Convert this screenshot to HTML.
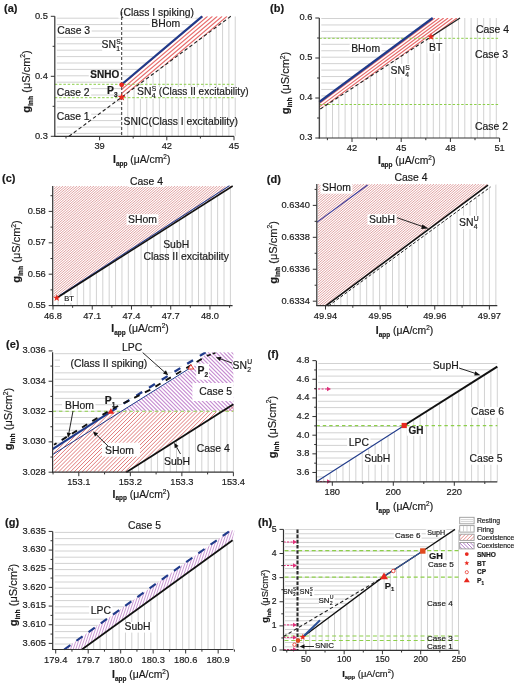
<!DOCTYPE html>
<html><head><meta charset="utf-8"><style>
html,body{margin:0;padding:0;background:#fff;width:516px;height:685px;overflow:hidden}
text{stroke:#1a1a1a;stroke-width:0.18px}
svg{display:block;font-family:"Liberation Sans",sans-serif;-webkit-font-smoothing:antialiased;will-change:transform}
</style></head><body>
<svg width="516" height="685" viewBox="0 0 516 685">
<defs><clipPath id="c1"><polygon points="56.8,15.3 121.7,15.3 121.7,136.3 56.8,136.3"/></clipPath><clipPath id="c2"><polygon points="121.7,15.3 202.2,16.3 121.7,84.8"/></clipPath><clipPath id="c3"><polygon points="121.7,97.2 230.8,16.3 236,16.3 236,136.3 121.7,136.3"/></clipPath><clipPath id="c4"><polygon points="121.7,84.8 202.2,16.3 230.8,16.3 121.7,97.2"/></clipPath><clipPath id="c5"><polygon points="321.3,18 432.7,18 319.3,102 321.3,102"/></clipPath><clipPath id="c6"><polygon points="320.3,102 320.3,109 431,36.8 460,18 501.5,18 501.5,138 320.3,138"/></clipPath><clipPath id="c7"><polygon points="319.3,102 432.7,18 460,18 431,36.8 320.3,109 319.3,109"/></clipPath><clipPath id="c8"><polygon points="53.7,298 56.7,298 232.7,186 233.6,186 233.6,305.6 53.7,305.6"/></clipPath><clipPath id="c9"><polygon points="53.7,186 224,186 232.7,186 56.7,298 53.7,298"/></clipPath><clipPath id="c10"><polygon points="328,305.6 490.5,185.7 498.3,184 498.3,305.6"/></clipPath><clipPath id="c11"><polygon points="317.8,184 489,184 488,185.2 326,305.6 317.8,305.6"/></clipPath><clipPath id="c12"><polygon points="54.6,351.2 205.8,351.2 110.9,411.6 52.6,449.2 54.6,449.2"/></clipPath><clipPath id="c13"><polygon points="126.3,472.2 233.4,404.2 234.4,404.2 234.4,472.2"/></clipPath><clipPath id="c14"><polygon points="206.8,352.2 233.4,352.2 233.4,411.3 120.71,411.3 192.4,367.9"/></clipPath><clipPath id="c15"><polygon points="53.6,450.2 110.9,411.6 233.4,411.3 233.4,404.2 126.3,472.2 53.6,472.2"/></clipPath><clipPath id="c16"><polygon points="52.6,352.2 235.4,352.2 235.4,475.2 52.6,475.2"/></clipPath><clipPath id="c17"><polygon points="318.4,361 498.3,361 498.3,365.6 497.3,366.6 404.2,425.5 316.4,481.8"/></clipPath><clipPath id="c18"><polygon points="317.4,481.8 404.2,425.5 497.3,366.6 498.3,366.6 498.3,481.8"/></clipPath><clipPath id="c19"><polygon points="54.7,530.4 230.8,530.4 64.2,649.5 54.7,649.5"/></clipPath><clipPath id="c20"><polygon points="81.9,649.5 232.6,540.3 234.4,540.3 234.4,649.5"/></clipPath><clipPath id="c21"><polygon points="64.2,649.5 230.8,530.2 234.5,530.5 232.6,540.3 81.9,649.5"/></clipPath><clipPath id="c22"><polygon points="285,528.9 455,528.9 422.8,551 384,576.4 302.8,637 302.8,650.3 285,650.3"/></clipPath><clipPath id="c23"><polygon points="302.8,650.3 302.8,637 384,576.4 422.8,551 455,529.4 459.5,529.4 459.5,650.3"/></clipPath><clipPath id="c24"><polygon points="459.7,534.2 474.1,534.2 474.1,540.4 459.7,540.4"/></clipPath><clipPath id="c25"><polygon points="459.7,542.5 474.1,542.5 474.1,548.9 459.7,548.9"/></clipPath></defs>
<rect width="516" height="685" fill="#fff"/>
<g clip-path="url(#c1)" >
<line x1="54.8" y1="11.8" x2="121.7" y2="11.8" stroke="#d2d2d2" stroke-width="1" stroke-linecap="butt" />
<line x1="54.8" y1="18.2" x2="121.7" y2="18.2" stroke="#d2d2d2" stroke-width="1" stroke-linecap="butt" />
<line x1="54.8" y1="24.6" x2="121.7" y2="24.6" stroke="#d2d2d2" stroke-width="1" stroke-linecap="butt" />
<line x1="54.8" y1="31" x2="121.7" y2="31" stroke="#d2d2d2" stroke-width="1" stroke-linecap="butt" />
<line x1="54.8" y1="37.4" x2="121.7" y2="37.4" stroke="#d2d2d2" stroke-width="1" stroke-linecap="butt" />
<line x1="54.8" y1="43.8" x2="121.7" y2="43.8" stroke="#d2d2d2" stroke-width="1" stroke-linecap="butt" />
<line x1="54.8" y1="50.2" x2="121.7" y2="50.2" stroke="#d2d2d2" stroke-width="1" stroke-linecap="butt" />
<line x1="54.8" y1="56.6" x2="121.7" y2="56.6" stroke="#d2d2d2" stroke-width="1" stroke-linecap="butt" />
<line x1="54.8" y1="63" x2="121.7" y2="63" stroke="#d2d2d2" stroke-width="1" stroke-linecap="butt" />
<line x1="54.8" y1="69.4" x2="121.7" y2="69.4" stroke="#d2d2d2" stroke-width="1" stroke-linecap="butt" />
<line x1="54.8" y1="75.8" x2="121.7" y2="75.8" stroke="#d2d2d2" stroke-width="1" stroke-linecap="butt" />
<line x1="54.8" y1="82.2" x2="121.7" y2="82.2" stroke="#d2d2d2" stroke-width="1" stroke-linecap="butt" />
<line x1="54.8" y1="88.6" x2="121.7" y2="88.6" stroke="#d2d2d2" stroke-width="1" stroke-linecap="butt" />
<line x1="54.8" y1="95" x2="121.7" y2="95" stroke="#d2d2d2" stroke-width="1" stroke-linecap="butt" />
<line x1="54.8" y1="101.4" x2="121.7" y2="101.4" stroke="#d2d2d2" stroke-width="1" stroke-linecap="butt" />
<line x1="54.8" y1="107.8" x2="121.7" y2="107.8" stroke="#d2d2d2" stroke-width="1" stroke-linecap="butt" />
<line x1="54.8" y1="114.2" x2="121.7" y2="114.2" stroke="#d2d2d2" stroke-width="1" stroke-linecap="butt" />
<line x1="54.8" y1="120.6" x2="121.7" y2="120.6" stroke="#d2d2d2" stroke-width="1" stroke-linecap="butt" />
<line x1="54.8" y1="127" x2="121.7" y2="127" stroke="#d2d2d2" stroke-width="1" stroke-linecap="butt" />
<line x1="54.8" y1="133.4" x2="121.7" y2="133.4" stroke="#d2d2d2" stroke-width="1" stroke-linecap="butt" />
</g>
<g clip-path="url(#c2)" >
<line x1="121.7" y1="11.8" x2="210" y2="11.8" stroke="#d2d2d2" stroke-width="1" stroke-linecap="butt" />
<line x1="121.7" y1="18.2" x2="210" y2="18.2" stroke="#d2d2d2" stroke-width="1" stroke-linecap="butt" />
<line x1="121.7" y1="24.6" x2="210" y2="24.6" stroke="#d2d2d2" stroke-width="1" stroke-linecap="butt" />
<line x1="121.7" y1="31" x2="210" y2="31" stroke="#d2d2d2" stroke-width="1" stroke-linecap="butt" />
<line x1="121.7" y1="37.4" x2="210" y2="37.4" stroke="#d2d2d2" stroke-width="1" stroke-linecap="butt" />
<line x1="121.7" y1="43.8" x2="210" y2="43.8" stroke="#d2d2d2" stroke-width="1" stroke-linecap="butt" />
<line x1="121.7" y1="50.2" x2="210" y2="50.2" stroke="#d2d2d2" stroke-width="1" stroke-linecap="butt" />
<line x1="121.7" y1="56.6" x2="210" y2="56.6" stroke="#d2d2d2" stroke-width="1" stroke-linecap="butt" />
<line x1="121.7" y1="63" x2="210" y2="63" stroke="#d2d2d2" stroke-width="1" stroke-linecap="butt" />
<line x1="121.7" y1="69.4" x2="210" y2="69.4" stroke="#d2d2d2" stroke-width="1" stroke-linecap="butt" />
<line x1="121.7" y1="75.8" x2="210" y2="75.8" stroke="#d2d2d2" stroke-width="1" stroke-linecap="butt" />
<line x1="121.7" y1="82.2" x2="210" y2="82.2" stroke="#d2d2d2" stroke-width="1" stroke-linecap="butt" />
<line x1="121.7" y1="88.6" x2="210" y2="88.6" stroke="#d2d2d2" stroke-width="1" stroke-linecap="butt" />
<line x1="121.7" y1="95" x2="210" y2="95" stroke="#d2d2d2" stroke-width="1" stroke-linecap="butt" />
<line x1="121.7" y1="101.4" x2="210" y2="101.4" stroke="#d2d2d2" stroke-width="1" stroke-linecap="butt" />
<line x1="121.7" y1="107.8" x2="210" y2="107.8" stroke="#d2d2d2" stroke-width="1" stroke-linecap="butt" />
<line x1="121.7" y1="114.2" x2="210" y2="114.2" stroke="#d2d2d2" stroke-width="1" stroke-linecap="butt" />
<line x1="121.7" y1="120.6" x2="210" y2="120.6" stroke="#d2d2d2" stroke-width="1" stroke-linecap="butt" />
<line x1="121.7" y1="127" x2="210" y2="127" stroke="#d2d2d2" stroke-width="1" stroke-linecap="butt" />
<line x1="121.7" y1="133.4" x2="210" y2="133.4" stroke="#d2d2d2" stroke-width="1" stroke-linecap="butt" />
</g>
<g clip-path="url(#c3)" >
<line x1="121.46" y1="16.3" x2="121.46" y2="136.3" stroke="#d2d2d2" stroke-width="1" stroke-linecap="butt" />
<line x1="127.78" y1="16.3" x2="127.78" y2="136.3" stroke="#d2d2d2" stroke-width="1" stroke-linecap="butt" />
<line x1="134.1" y1="16.3" x2="134.1" y2="136.3" stroke="#d2d2d2" stroke-width="1" stroke-linecap="butt" />
<line x1="140.42" y1="16.3" x2="140.42" y2="136.3" stroke="#d2d2d2" stroke-width="1" stroke-linecap="butt" />
<line x1="146.74" y1="16.3" x2="146.74" y2="136.3" stroke="#d2d2d2" stroke-width="1" stroke-linecap="butt" />
<line x1="153.06" y1="16.3" x2="153.06" y2="136.3" stroke="#d2d2d2" stroke-width="1" stroke-linecap="butt" />
<line x1="159.38" y1="16.3" x2="159.38" y2="136.3" stroke="#d2d2d2" stroke-width="1" stroke-linecap="butt" />
<line x1="165.7" y1="16.3" x2="165.7" y2="136.3" stroke="#d2d2d2" stroke-width="1" stroke-linecap="butt" />
<line x1="172.02" y1="16.3" x2="172.02" y2="136.3" stroke="#d2d2d2" stroke-width="1" stroke-linecap="butt" />
<line x1="178.34" y1="16.3" x2="178.34" y2="136.3" stroke="#d2d2d2" stroke-width="1" stroke-linecap="butt" />
<line x1="184.66" y1="16.3" x2="184.66" y2="136.3" stroke="#d2d2d2" stroke-width="1" stroke-linecap="butt" />
<line x1="190.98" y1="16.3" x2="190.98" y2="136.3" stroke="#d2d2d2" stroke-width="1" stroke-linecap="butt" />
<line x1="197.3" y1="16.3" x2="197.3" y2="136.3" stroke="#d2d2d2" stroke-width="1" stroke-linecap="butt" />
<line x1="203.62" y1="16.3" x2="203.62" y2="136.3" stroke="#d2d2d2" stroke-width="1" stroke-linecap="butt" />
<line x1="209.94" y1="16.3" x2="209.94" y2="136.3" stroke="#d2d2d2" stroke-width="1" stroke-linecap="butt" />
<line x1="216.26" y1="16.3" x2="216.26" y2="136.3" stroke="#d2d2d2" stroke-width="1" stroke-linecap="butt" />
<line x1="222.58" y1="16.3" x2="222.58" y2="136.3" stroke="#d2d2d2" stroke-width="1" stroke-linecap="butt" />
<line x1="228.9" y1="16.3" x2="228.9" y2="136.3" stroke="#d2d2d2" stroke-width="1" stroke-linecap="butt" />
<line x1="235.22" y1="16.3" x2="235.22" y2="136.3" stroke="#d2d2d2" stroke-width="1" stroke-linecap="butt" />
<line x1="241.54" y1="16.3" x2="241.54" y2="136.3" stroke="#d2d2d2" stroke-width="1" stroke-linecap="butt" />
</g>
<g clip-path="url(#c4)" >
<line x1="23.28" y1="16.3" x2="-71.79" y2="97.2" stroke="#e66a6a" stroke-width="1.15" stroke-linecap="butt" />
<line x1="28.13" y1="16.3" x2="-66.94" y2="97.2" stroke="#e66a6a" stroke-width="1.15" stroke-linecap="butt" />
<line x1="32.98" y1="16.3" x2="-62.09" y2="97.2" stroke="#e66a6a" stroke-width="1.15" stroke-linecap="butt" />
<line x1="37.83" y1="16.3" x2="-57.24" y2="97.2" stroke="#e66a6a" stroke-width="1.15" stroke-linecap="butt" />
<line x1="42.68" y1="16.3" x2="-52.39" y2="97.2" stroke="#e66a6a" stroke-width="1.15" stroke-linecap="butt" />
<line x1="47.53" y1="16.3" x2="-47.54" y2="97.2" stroke="#e66a6a" stroke-width="1.15" stroke-linecap="butt" />
<line x1="52.38" y1="16.3" x2="-42.69" y2="97.2" stroke="#e66a6a" stroke-width="1.15" stroke-linecap="butt" />
<line x1="57.23" y1="16.3" x2="-37.84" y2="97.2" stroke="#e66a6a" stroke-width="1.15" stroke-linecap="butt" />
<line x1="62.08" y1="16.3" x2="-32.99" y2="97.2" stroke="#e66a6a" stroke-width="1.15" stroke-linecap="butt" />
<line x1="66.93" y1="16.3" x2="-28.14" y2="97.2" stroke="#e66a6a" stroke-width="1.15" stroke-linecap="butt" />
<line x1="71.78" y1="16.3" x2="-23.29" y2="97.2" stroke="#e66a6a" stroke-width="1.15" stroke-linecap="butt" />
<line x1="76.63" y1="16.3" x2="-18.44" y2="97.2" stroke="#e66a6a" stroke-width="1.15" stroke-linecap="butt" />
<line x1="81.48" y1="16.3" x2="-13.59" y2="97.2" stroke="#e66a6a" stroke-width="1.15" stroke-linecap="butt" />
<line x1="86.33" y1="16.3" x2="-8.74" y2="97.2" stroke="#e66a6a" stroke-width="1.15" stroke-linecap="butt" />
<line x1="91.18" y1="16.3" x2="-3.89" y2="97.2" stroke="#e66a6a" stroke-width="1.15" stroke-linecap="butt" />
<line x1="96.03" y1="16.3" x2="0.96" y2="97.2" stroke="#e66a6a" stroke-width="1.15" stroke-linecap="butt" />
<line x1="100.88" y1="16.3" x2="5.81" y2="97.2" stroke="#e66a6a" stroke-width="1.15" stroke-linecap="butt" />
<line x1="105.73" y1="16.3" x2="10.66" y2="97.2" stroke="#e66a6a" stroke-width="1.15" stroke-linecap="butt" />
<line x1="110.58" y1="16.3" x2="15.51" y2="97.2" stroke="#e66a6a" stroke-width="1.15" stroke-linecap="butt" />
<line x1="115.43" y1="16.3" x2="20.36" y2="97.2" stroke="#e66a6a" stroke-width="1.15" stroke-linecap="butt" />
<line x1="120.28" y1="16.3" x2="25.21" y2="97.2" stroke="#e66a6a" stroke-width="1.15" stroke-linecap="butt" />
<line x1="125.13" y1="16.3" x2="30.06" y2="97.2" stroke="#e66a6a" stroke-width="1.15" stroke-linecap="butt" />
<line x1="129.98" y1="16.3" x2="34.91" y2="97.2" stroke="#e66a6a" stroke-width="1.15" stroke-linecap="butt" />
<line x1="134.83" y1="16.3" x2="39.76" y2="97.2" stroke="#e66a6a" stroke-width="1.15" stroke-linecap="butt" />
<line x1="139.68" y1="16.3" x2="44.61" y2="97.2" stroke="#e66a6a" stroke-width="1.15" stroke-linecap="butt" />
<line x1="144.53" y1="16.3" x2="49.46" y2="97.2" stroke="#e66a6a" stroke-width="1.15" stroke-linecap="butt" />
<line x1="149.38" y1="16.3" x2="54.31" y2="97.2" stroke="#e66a6a" stroke-width="1.15" stroke-linecap="butt" />
<line x1="154.23" y1="16.3" x2="59.16" y2="97.2" stroke="#e66a6a" stroke-width="1.15" stroke-linecap="butt" />
<line x1="159.08" y1="16.3" x2="64.01" y2="97.2" stroke="#e66a6a" stroke-width="1.15" stroke-linecap="butt" />
<line x1="163.93" y1="16.3" x2="68.86" y2="97.2" stroke="#e66a6a" stroke-width="1.15" stroke-linecap="butt" />
<line x1="168.78" y1="16.3" x2="73.71" y2="97.2" stroke="#e66a6a" stroke-width="1.15" stroke-linecap="butt" />
<line x1="173.63" y1="16.3" x2="78.56" y2="97.2" stroke="#e66a6a" stroke-width="1.15" stroke-linecap="butt" />
<line x1="178.48" y1="16.3" x2="83.41" y2="97.2" stroke="#e66a6a" stroke-width="1.15" stroke-linecap="butt" />
<line x1="183.33" y1="16.3" x2="88.26" y2="97.2" stroke="#e66a6a" stroke-width="1.15" stroke-linecap="butt" />
<line x1="188.18" y1="16.3" x2="93.11" y2="97.2" stroke="#e66a6a" stroke-width="1.15" stroke-linecap="butt" />
<line x1="193.03" y1="16.3" x2="97.96" y2="97.2" stroke="#e66a6a" stroke-width="1.15" stroke-linecap="butt" />
<line x1="197.88" y1="16.3" x2="102.81" y2="97.2" stroke="#e66a6a" stroke-width="1.15" stroke-linecap="butt" />
<line x1="202.73" y1="16.3" x2="107.66" y2="97.2" stroke="#e66a6a" stroke-width="1.15" stroke-linecap="butt" />
<line x1="207.58" y1="16.3" x2="112.51" y2="97.2" stroke="#e66a6a" stroke-width="1.15" stroke-linecap="butt" />
<line x1="212.43" y1="16.3" x2="117.36" y2="97.2" stroke="#e66a6a" stroke-width="1.15" stroke-linecap="butt" />
<line x1="217.28" y1="16.3" x2="122.21" y2="97.2" stroke="#e66a6a" stroke-width="1.15" stroke-linecap="butt" />
<line x1="222.13" y1="16.3" x2="127.06" y2="97.2" stroke="#e66a6a" stroke-width="1.15" stroke-linecap="butt" />
<line x1="226.98" y1="16.3" x2="131.91" y2="97.2" stroke="#e66a6a" stroke-width="1.15" stroke-linecap="butt" />
<line x1="231.83" y1="16.3" x2="136.76" y2="97.2" stroke="#e66a6a" stroke-width="1.15" stroke-linecap="butt" />
<line x1="236.68" y1="16.3" x2="141.61" y2="97.2" stroke="#e66a6a" stroke-width="1.15" stroke-linecap="butt" />
<line x1="241.53" y1="16.3" x2="146.46" y2="97.2" stroke="#e66a6a" stroke-width="1.15" stroke-linecap="butt" />
<line x1="246.38" y1="16.3" x2="151.31" y2="97.2" stroke="#e66a6a" stroke-width="1.15" stroke-linecap="butt" />
<line x1="251.23" y1="16.3" x2="156.16" y2="97.2" stroke="#e66a6a" stroke-width="1.15" stroke-linecap="butt" />
<line x1="256.08" y1="16.3" x2="161.01" y2="97.2" stroke="#e66a6a" stroke-width="1.15" stroke-linecap="butt" />
<line x1="260.93" y1="16.3" x2="165.86" y2="97.2" stroke="#e66a6a" stroke-width="1.15" stroke-linecap="butt" />
<line x1="265.78" y1="16.3" x2="170.71" y2="97.2" stroke="#e66a6a" stroke-width="1.15" stroke-linecap="butt" />
<line x1="270.63" y1="16.3" x2="175.56" y2="97.2" stroke="#e66a6a" stroke-width="1.15" stroke-linecap="butt" />
<line x1="275.48" y1="16.3" x2="180.41" y2="97.2" stroke="#e66a6a" stroke-width="1.15" stroke-linecap="butt" />
<line x1="280.33" y1="16.3" x2="185.26" y2="97.2" stroke="#e66a6a" stroke-width="1.15" stroke-linecap="butt" />
<line x1="285.18" y1="16.3" x2="190.11" y2="97.2" stroke="#e66a6a" stroke-width="1.15" stroke-linecap="butt" />
<line x1="290.03" y1="16.3" x2="194.96" y2="97.2" stroke="#e66a6a" stroke-width="1.15" stroke-linecap="butt" />
<line x1="294.88" y1="16.3" x2="199.81" y2="97.2" stroke="#e66a6a" stroke-width="1.15" stroke-linecap="butt" />
<line x1="299.73" y1="16.3" x2="204.66" y2="97.2" stroke="#e66a6a" stroke-width="1.15" stroke-linecap="butt" />
<line x1="304.58" y1="16.3" x2="209.51" y2="97.2" stroke="#e66a6a" stroke-width="1.15" stroke-linecap="butt" />
<line x1="309.43" y1="16.3" x2="214.36" y2="97.2" stroke="#e66a6a" stroke-width="1.15" stroke-linecap="butt" />
<line x1="314.28" y1="16.3" x2="219.21" y2="97.2" stroke="#e66a6a" stroke-width="1.15" stroke-linecap="butt" />
<line x1="319.13" y1="16.3" x2="224.06" y2="97.2" stroke="#e66a6a" stroke-width="1.15" stroke-linecap="butt" />
<line x1="323.98" y1="16.3" x2="228.91" y2="97.2" stroke="#e66a6a" stroke-width="1.15" stroke-linecap="butt" />
<line x1="328.83" y1="16.3" x2="233.76" y2="97.2" stroke="#e66a6a" stroke-width="1.15" stroke-linecap="butt" />
<line x1="333.68" y1="16.3" x2="238.61" y2="97.2" stroke="#e66a6a" stroke-width="1.15" stroke-linecap="butt" />
</g>
<g clip-path="url(#c5)" >
<line x1="319.3" y1="18.5" x2="440" y2="18.5" stroke="#d2d2d2" stroke-width="1" stroke-linecap="butt" />
<line x1="319.3" y1="24.95" x2="440" y2="24.95" stroke="#d2d2d2" stroke-width="1" stroke-linecap="butt" />
<line x1="319.3" y1="31.4" x2="440" y2="31.4" stroke="#d2d2d2" stroke-width="1" stroke-linecap="butt" />
<line x1="319.3" y1="37.85" x2="440" y2="37.85" stroke="#d2d2d2" stroke-width="1" stroke-linecap="butt" />
<line x1="319.3" y1="44.3" x2="440" y2="44.3" stroke="#d2d2d2" stroke-width="1" stroke-linecap="butt" />
<line x1="319.3" y1="50.75" x2="440" y2="50.75" stroke="#d2d2d2" stroke-width="1" stroke-linecap="butt" />
<line x1="319.3" y1="57.2" x2="440" y2="57.2" stroke="#d2d2d2" stroke-width="1" stroke-linecap="butt" />
<line x1="319.3" y1="63.65" x2="440" y2="63.65" stroke="#d2d2d2" stroke-width="1" stroke-linecap="butt" />
<line x1="319.3" y1="70.1" x2="440" y2="70.1" stroke="#d2d2d2" stroke-width="1" stroke-linecap="butt" />
<line x1="319.3" y1="76.55" x2="440" y2="76.55" stroke="#d2d2d2" stroke-width="1" stroke-linecap="butt" />
<line x1="319.3" y1="83" x2="440" y2="83" stroke="#d2d2d2" stroke-width="1" stroke-linecap="butt" />
<line x1="319.3" y1="89.45" x2="440" y2="89.45" stroke="#d2d2d2" stroke-width="1" stroke-linecap="butt" />
<line x1="319.3" y1="95.9" x2="440" y2="95.9" stroke="#d2d2d2" stroke-width="1" stroke-linecap="butt" />
<line x1="319.3" y1="102.35" x2="440" y2="102.35" stroke="#d2d2d2" stroke-width="1" stroke-linecap="butt" />
<line x1="319.3" y1="108.8" x2="440" y2="108.8" stroke="#d2d2d2" stroke-width="1" stroke-linecap="butt" />
<line x1="319.3" y1="115.25" x2="440" y2="115.25" stroke="#d2d2d2" stroke-width="1" stroke-linecap="butt" />
<line x1="319.3" y1="121.7" x2="440" y2="121.7" stroke="#d2d2d2" stroke-width="1" stroke-linecap="butt" />
<line x1="319.3" y1="128.15" x2="440" y2="128.15" stroke="#d2d2d2" stroke-width="1" stroke-linecap="butt" />
<line x1="319.3" y1="134.6" x2="440" y2="134.6" stroke="#d2d2d2" stroke-width="1" stroke-linecap="butt" />
<line x1="319.3" y1="141.05" x2="440" y2="141.05" stroke="#d2d2d2" stroke-width="1" stroke-linecap="butt" />
</g>
<g clip-path="url(#c6)" >
<line x1="319.9" y1="18" x2="319.9" y2="138" stroke="#d2d2d2" stroke-width="1" stroke-linecap="butt" />
<line x1="326.2" y1="18" x2="326.2" y2="138" stroke="#d2d2d2" stroke-width="1" stroke-linecap="butt" />
<line x1="332.5" y1="18" x2="332.5" y2="138" stroke="#d2d2d2" stroke-width="1" stroke-linecap="butt" />
<line x1="338.8" y1="18" x2="338.8" y2="138" stroke="#d2d2d2" stroke-width="1" stroke-linecap="butt" />
<line x1="345.1" y1="18" x2="345.1" y2="138" stroke="#d2d2d2" stroke-width="1" stroke-linecap="butt" />
<line x1="351.4" y1="18" x2="351.4" y2="138" stroke="#d2d2d2" stroke-width="1" stroke-linecap="butt" />
<line x1="357.7" y1="18" x2="357.7" y2="138" stroke="#d2d2d2" stroke-width="1" stroke-linecap="butt" />
<line x1="364" y1="18" x2="364" y2="138" stroke="#d2d2d2" stroke-width="1" stroke-linecap="butt" />
<line x1="370.3" y1="18" x2="370.3" y2="138" stroke="#d2d2d2" stroke-width="1" stroke-linecap="butt" />
<line x1="376.6" y1="18" x2="376.6" y2="138" stroke="#d2d2d2" stroke-width="1" stroke-linecap="butt" />
<line x1="382.9" y1="18" x2="382.9" y2="138" stroke="#d2d2d2" stroke-width="1" stroke-linecap="butt" />
<line x1="389.2" y1="18" x2="389.2" y2="138" stroke="#d2d2d2" stroke-width="1" stroke-linecap="butt" />
<line x1="395.5" y1="18" x2="395.5" y2="138" stroke="#d2d2d2" stroke-width="1" stroke-linecap="butt" />
<line x1="401.8" y1="18" x2="401.8" y2="138" stroke="#d2d2d2" stroke-width="1" stroke-linecap="butt" />
<line x1="408.1" y1="18" x2="408.1" y2="138" stroke="#d2d2d2" stroke-width="1" stroke-linecap="butt" />
<line x1="414.4" y1="18" x2="414.4" y2="138" stroke="#d2d2d2" stroke-width="1" stroke-linecap="butt" />
<line x1="420.7" y1="18" x2="420.7" y2="138" stroke="#d2d2d2" stroke-width="1" stroke-linecap="butt" />
<line x1="427" y1="18" x2="427" y2="138" stroke="#d2d2d2" stroke-width="1" stroke-linecap="butt" />
<line x1="433.3" y1="18" x2="433.3" y2="138" stroke="#d2d2d2" stroke-width="1" stroke-linecap="butt" />
<line x1="439.6" y1="18" x2="439.6" y2="138" stroke="#d2d2d2" stroke-width="1" stroke-linecap="butt" />
<line x1="445.9" y1="18" x2="445.9" y2="138" stroke="#d2d2d2" stroke-width="1" stroke-linecap="butt" />
<line x1="452.2" y1="18" x2="452.2" y2="138" stroke="#d2d2d2" stroke-width="1" stroke-linecap="butt" />
<line x1="458.5" y1="18" x2="458.5" y2="138" stroke="#d2d2d2" stroke-width="1" stroke-linecap="butt" />
<line x1="464.8" y1="18" x2="464.8" y2="138" stroke="#d2d2d2" stroke-width="1" stroke-linecap="butt" />
<line x1="471.1" y1="18" x2="471.1" y2="138" stroke="#d2d2d2" stroke-width="1" stroke-linecap="butt" />
<line x1="477.4" y1="18" x2="477.4" y2="138" stroke="#d2d2d2" stroke-width="1" stroke-linecap="butt" />
<line x1="483.7" y1="18" x2="483.7" y2="138" stroke="#d2d2d2" stroke-width="1" stroke-linecap="butt" />
<line x1="490" y1="18" x2="490" y2="138" stroke="#d2d2d2" stroke-width="1" stroke-linecap="butt" />
<line x1="496.3" y1="18" x2="496.3" y2="138" stroke="#d2d2d2" stroke-width="1" stroke-linecap="butt" />
</g>
<g clip-path="url(#c7)" >
<line x1="188.5" y1="18" x2="61.6" y2="112" stroke="#e66a6a" stroke-width="1.15" stroke-linecap="butt" />
<line x1="192.9" y1="18" x2="66" y2="112" stroke="#e66a6a" stroke-width="1.15" stroke-linecap="butt" />
<line x1="197.3" y1="18" x2="70.4" y2="112" stroke="#e66a6a" stroke-width="1.15" stroke-linecap="butt" />
<line x1="201.7" y1="18" x2="74.8" y2="112" stroke="#e66a6a" stroke-width="1.15" stroke-linecap="butt" />
<line x1="206.1" y1="18" x2="79.2" y2="112" stroke="#e66a6a" stroke-width="1.15" stroke-linecap="butt" />
<line x1="210.5" y1="18" x2="83.6" y2="112" stroke="#e66a6a" stroke-width="1.15" stroke-linecap="butt" />
<line x1="214.9" y1="18" x2="88" y2="112" stroke="#e66a6a" stroke-width="1.15" stroke-linecap="butt" />
<line x1="219.3" y1="18" x2="92.4" y2="112" stroke="#e66a6a" stroke-width="1.15" stroke-linecap="butt" />
<line x1="223.7" y1="18" x2="96.8" y2="112" stroke="#e66a6a" stroke-width="1.15" stroke-linecap="butt" />
<line x1="228.1" y1="18" x2="101.2" y2="112" stroke="#e66a6a" stroke-width="1.15" stroke-linecap="butt" />
<line x1="232.5" y1="18" x2="105.6" y2="112" stroke="#e66a6a" stroke-width="1.15" stroke-linecap="butt" />
<line x1="236.9" y1="18" x2="110" y2="112" stroke="#e66a6a" stroke-width="1.15" stroke-linecap="butt" />
<line x1="241.3" y1="18" x2="114.4" y2="112" stroke="#e66a6a" stroke-width="1.15" stroke-linecap="butt" />
<line x1="245.7" y1="18" x2="118.8" y2="112" stroke="#e66a6a" stroke-width="1.15" stroke-linecap="butt" />
<line x1="250.1" y1="18" x2="123.2" y2="112" stroke="#e66a6a" stroke-width="1.15" stroke-linecap="butt" />
<line x1="254.5" y1="18" x2="127.6" y2="112" stroke="#e66a6a" stroke-width="1.15" stroke-linecap="butt" />
<line x1="258.9" y1="18" x2="132" y2="112" stroke="#e66a6a" stroke-width="1.15" stroke-linecap="butt" />
<line x1="263.3" y1="18" x2="136.4" y2="112" stroke="#e66a6a" stroke-width="1.15" stroke-linecap="butt" />
<line x1="267.7" y1="18" x2="140.8" y2="112" stroke="#e66a6a" stroke-width="1.15" stroke-linecap="butt" />
<line x1="272.1" y1="18" x2="145.2" y2="112" stroke="#e66a6a" stroke-width="1.15" stroke-linecap="butt" />
<line x1="276.5" y1="18" x2="149.6" y2="112" stroke="#e66a6a" stroke-width="1.15" stroke-linecap="butt" />
<line x1="280.9" y1="18" x2="154" y2="112" stroke="#e66a6a" stroke-width="1.15" stroke-linecap="butt" />
<line x1="285.3" y1="18" x2="158.4" y2="112" stroke="#e66a6a" stroke-width="1.15" stroke-linecap="butt" />
<line x1="289.7" y1="18" x2="162.8" y2="112" stroke="#e66a6a" stroke-width="1.15" stroke-linecap="butt" />
<line x1="294.1" y1="18" x2="167.2" y2="112" stroke="#e66a6a" stroke-width="1.15" stroke-linecap="butt" />
<line x1="298.5" y1="18" x2="171.6" y2="112" stroke="#e66a6a" stroke-width="1.15" stroke-linecap="butt" />
<line x1="302.9" y1="18" x2="176" y2="112" stroke="#e66a6a" stroke-width="1.15" stroke-linecap="butt" />
<line x1="307.3" y1="18" x2="180.4" y2="112" stroke="#e66a6a" stroke-width="1.15" stroke-linecap="butt" />
<line x1="311.7" y1="18" x2="184.8" y2="112" stroke="#e66a6a" stroke-width="1.15" stroke-linecap="butt" />
<line x1="316.1" y1="18" x2="189.2" y2="112" stroke="#e66a6a" stroke-width="1.15" stroke-linecap="butt" />
<line x1="320.5" y1="18" x2="193.6" y2="112" stroke="#e66a6a" stroke-width="1.15" stroke-linecap="butt" />
<line x1="324.9" y1="18" x2="198" y2="112" stroke="#e66a6a" stroke-width="1.15" stroke-linecap="butt" />
<line x1="329.3" y1="18" x2="202.4" y2="112" stroke="#e66a6a" stroke-width="1.15" stroke-linecap="butt" />
<line x1="333.7" y1="18" x2="206.8" y2="112" stroke="#e66a6a" stroke-width="1.15" stroke-linecap="butt" />
<line x1="338.1" y1="18" x2="211.2" y2="112" stroke="#e66a6a" stroke-width="1.15" stroke-linecap="butt" />
<line x1="342.5" y1="18" x2="215.6" y2="112" stroke="#e66a6a" stroke-width="1.15" stroke-linecap="butt" />
<line x1="346.9" y1="18" x2="220" y2="112" stroke="#e66a6a" stroke-width="1.15" stroke-linecap="butt" />
<line x1="351.3" y1="18" x2="224.4" y2="112" stroke="#e66a6a" stroke-width="1.15" stroke-linecap="butt" />
<line x1="355.7" y1="18" x2="228.8" y2="112" stroke="#e66a6a" stroke-width="1.15" stroke-linecap="butt" />
<line x1="360.1" y1="18" x2="233.2" y2="112" stroke="#e66a6a" stroke-width="1.15" stroke-linecap="butt" />
<line x1="364.5" y1="18" x2="237.6" y2="112" stroke="#e66a6a" stroke-width="1.15" stroke-linecap="butt" />
<line x1="368.9" y1="18" x2="242" y2="112" stroke="#e66a6a" stroke-width="1.15" stroke-linecap="butt" />
<line x1="373.3" y1="18" x2="246.4" y2="112" stroke="#e66a6a" stroke-width="1.15" stroke-linecap="butt" />
<line x1="377.7" y1="18" x2="250.8" y2="112" stroke="#e66a6a" stroke-width="1.15" stroke-linecap="butt" />
<line x1="382.1" y1="18" x2="255.2" y2="112" stroke="#e66a6a" stroke-width="1.15" stroke-linecap="butt" />
<line x1="386.5" y1="18" x2="259.6" y2="112" stroke="#e66a6a" stroke-width="1.15" stroke-linecap="butt" />
<line x1="390.9" y1="18" x2="264" y2="112" stroke="#e66a6a" stroke-width="1.15" stroke-linecap="butt" />
<line x1="395.3" y1="18" x2="268.4" y2="112" stroke="#e66a6a" stroke-width="1.15" stroke-linecap="butt" />
<line x1="399.7" y1="18" x2="272.8" y2="112" stroke="#e66a6a" stroke-width="1.15" stroke-linecap="butt" />
<line x1="404.1" y1="18" x2="277.2" y2="112" stroke="#e66a6a" stroke-width="1.15" stroke-linecap="butt" />
<line x1="408.5" y1="18" x2="281.6" y2="112" stroke="#e66a6a" stroke-width="1.15" stroke-linecap="butt" />
<line x1="412.9" y1="18" x2="286" y2="112" stroke="#e66a6a" stroke-width="1.15" stroke-linecap="butt" />
<line x1="417.3" y1="18" x2="290.4" y2="112" stroke="#e66a6a" stroke-width="1.15" stroke-linecap="butt" />
<line x1="421.7" y1="18" x2="294.8" y2="112" stroke="#e66a6a" stroke-width="1.15" stroke-linecap="butt" />
<line x1="426.1" y1="18" x2="299.2" y2="112" stroke="#e66a6a" stroke-width="1.15" stroke-linecap="butt" />
<line x1="430.5" y1="18" x2="303.6" y2="112" stroke="#e66a6a" stroke-width="1.15" stroke-linecap="butt" />
<line x1="434.9" y1="18" x2="308" y2="112" stroke="#e66a6a" stroke-width="1.15" stroke-linecap="butt" />
<line x1="439.3" y1="18" x2="312.4" y2="112" stroke="#e66a6a" stroke-width="1.15" stroke-linecap="butt" />
<line x1="443.7" y1="18" x2="316.8" y2="112" stroke="#e66a6a" stroke-width="1.15" stroke-linecap="butt" />
<line x1="448.1" y1="18" x2="321.2" y2="112" stroke="#e66a6a" stroke-width="1.15" stroke-linecap="butt" />
<line x1="452.5" y1="18" x2="325.6" y2="112" stroke="#e66a6a" stroke-width="1.15" stroke-linecap="butt" />
<line x1="456.9" y1="18" x2="330" y2="112" stroke="#e66a6a" stroke-width="1.15" stroke-linecap="butt" />
<line x1="461.3" y1="18" x2="334.4" y2="112" stroke="#e66a6a" stroke-width="1.15" stroke-linecap="butt" />
<line x1="465.7" y1="18" x2="338.8" y2="112" stroke="#e66a6a" stroke-width="1.15" stroke-linecap="butt" />
<line x1="470.1" y1="18" x2="343.2" y2="112" stroke="#e66a6a" stroke-width="1.15" stroke-linecap="butt" />
<line x1="474.5" y1="18" x2="347.6" y2="112" stroke="#e66a6a" stroke-width="1.15" stroke-linecap="butt" />
<line x1="478.9" y1="18" x2="352" y2="112" stroke="#e66a6a" stroke-width="1.15" stroke-linecap="butt" />
<line x1="483.3" y1="18" x2="356.4" y2="112" stroke="#e66a6a" stroke-width="1.15" stroke-linecap="butt" />
<line x1="487.7" y1="18" x2="360.8" y2="112" stroke="#e66a6a" stroke-width="1.15" stroke-linecap="butt" />
<line x1="492.1" y1="18" x2="365.2" y2="112" stroke="#e66a6a" stroke-width="1.15" stroke-linecap="butt" />
<line x1="496.5" y1="18" x2="369.6" y2="112" stroke="#e66a6a" stroke-width="1.15" stroke-linecap="butt" />
<line x1="500.9" y1="18" x2="374" y2="112" stroke="#e66a6a" stroke-width="1.15" stroke-linecap="butt" />
<line x1="505.3" y1="18" x2="378.4" y2="112" stroke="#e66a6a" stroke-width="1.15" stroke-linecap="butt" />
<line x1="509.7" y1="18" x2="382.8" y2="112" stroke="#e66a6a" stroke-width="1.15" stroke-linecap="butt" />
<line x1="514.1" y1="18" x2="387.2" y2="112" stroke="#e66a6a" stroke-width="1.15" stroke-linecap="butt" />
<line x1="518.5" y1="18" x2="391.6" y2="112" stroke="#e66a6a" stroke-width="1.15" stroke-linecap="butt" />
<line x1="522.9" y1="18" x2="396" y2="112" stroke="#e66a6a" stroke-width="1.15" stroke-linecap="butt" />
<line x1="527.3" y1="18" x2="400.4" y2="112" stroke="#e66a6a" stroke-width="1.15" stroke-linecap="butt" />
<line x1="531.7" y1="18" x2="404.8" y2="112" stroke="#e66a6a" stroke-width="1.15" stroke-linecap="butt" />
<line x1="536.1" y1="18" x2="409.2" y2="112" stroke="#e66a6a" stroke-width="1.15" stroke-linecap="butt" />
<line x1="540.5" y1="18" x2="413.6" y2="112" stroke="#e66a6a" stroke-width="1.15" stroke-linecap="butt" />
<line x1="544.9" y1="18" x2="418" y2="112" stroke="#e66a6a" stroke-width="1.15" stroke-linecap="butt" />
<line x1="549.3" y1="18" x2="422.4" y2="112" stroke="#e66a6a" stroke-width="1.15" stroke-linecap="butt" />
<line x1="553.7" y1="18" x2="426.8" y2="112" stroke="#e66a6a" stroke-width="1.15" stroke-linecap="butt" />
<line x1="558.1" y1="18" x2="431.2" y2="112" stroke="#e66a6a" stroke-width="1.15" stroke-linecap="butt" />
<line x1="562.5" y1="18" x2="435.6" y2="112" stroke="#e66a6a" stroke-width="1.15" stroke-linecap="butt" />
<line x1="566.9" y1="18" x2="440" y2="112" stroke="#e66a6a" stroke-width="1.15" stroke-linecap="butt" />
<line x1="571.3" y1="18" x2="444.4" y2="112" stroke="#e66a6a" stroke-width="1.15" stroke-linecap="butt" />
<line x1="575.7" y1="18" x2="448.8" y2="112" stroke="#e66a6a" stroke-width="1.15" stroke-linecap="butt" />
<line x1="580.1" y1="18" x2="453.2" y2="112" stroke="#e66a6a" stroke-width="1.15" stroke-linecap="butt" />
<line x1="584.5" y1="18" x2="457.6" y2="112" stroke="#e66a6a" stroke-width="1.15" stroke-linecap="butt" />
<line x1="588.9" y1="18" x2="462" y2="112" stroke="#e66a6a" stroke-width="1.15" stroke-linecap="butt" />
<line x1="593.3" y1="18" x2="466.4" y2="112" stroke="#e66a6a" stroke-width="1.15" stroke-linecap="butt" />
<line x1="597.7" y1="18" x2="470.8" y2="112" stroke="#e66a6a" stroke-width="1.15" stroke-linecap="butt" />
</g>
<g clip-path="url(#c8)" >
<line x1="45.38" y1="186" x2="45.38" y2="305.6" stroke="#d2d2d2" stroke-width="1" stroke-linecap="butt" />
<line x1="51.76" y1="186" x2="51.76" y2="305.6" stroke="#d2d2d2" stroke-width="1" stroke-linecap="butt" />
<line x1="58.14" y1="186" x2="58.14" y2="305.6" stroke="#d2d2d2" stroke-width="1" stroke-linecap="butt" />
<line x1="64.52" y1="186" x2="64.52" y2="305.6" stroke="#d2d2d2" stroke-width="1" stroke-linecap="butt" />
<line x1="70.9" y1="186" x2="70.9" y2="305.6" stroke="#d2d2d2" stroke-width="1" stroke-linecap="butt" />
<line x1="77.28" y1="186" x2="77.28" y2="305.6" stroke="#d2d2d2" stroke-width="1" stroke-linecap="butt" />
<line x1="83.66" y1="186" x2="83.66" y2="305.6" stroke="#d2d2d2" stroke-width="1" stroke-linecap="butt" />
<line x1="90.04" y1="186" x2="90.04" y2="305.6" stroke="#d2d2d2" stroke-width="1" stroke-linecap="butt" />
<line x1="96.42" y1="186" x2="96.42" y2="305.6" stroke="#d2d2d2" stroke-width="1" stroke-linecap="butt" />
<line x1="102.8" y1="186" x2="102.8" y2="305.6" stroke="#d2d2d2" stroke-width="1" stroke-linecap="butt" />
<line x1="109.18" y1="186" x2="109.18" y2="305.6" stroke="#d2d2d2" stroke-width="1" stroke-linecap="butt" />
<line x1="115.56" y1="186" x2="115.56" y2="305.6" stroke="#d2d2d2" stroke-width="1" stroke-linecap="butt" />
<line x1="121.94" y1="186" x2="121.94" y2="305.6" stroke="#d2d2d2" stroke-width="1" stroke-linecap="butt" />
<line x1="128.32" y1="186" x2="128.32" y2="305.6" stroke="#d2d2d2" stroke-width="1" stroke-linecap="butt" />
<line x1="134.7" y1="186" x2="134.7" y2="305.6" stroke="#d2d2d2" stroke-width="1" stroke-linecap="butt" />
<line x1="141.08" y1="186" x2="141.08" y2="305.6" stroke="#d2d2d2" stroke-width="1" stroke-linecap="butt" />
<line x1="147.46" y1="186" x2="147.46" y2="305.6" stroke="#d2d2d2" stroke-width="1" stroke-linecap="butt" />
<line x1="153.84" y1="186" x2="153.84" y2="305.6" stroke="#d2d2d2" stroke-width="1" stroke-linecap="butt" />
<line x1="160.22" y1="186" x2="160.22" y2="305.6" stroke="#d2d2d2" stroke-width="1" stroke-linecap="butt" />
<line x1="166.6" y1="186" x2="166.6" y2="305.6" stroke="#d2d2d2" stroke-width="1" stroke-linecap="butt" />
<line x1="172.98" y1="186" x2="172.98" y2="305.6" stroke="#d2d2d2" stroke-width="1" stroke-linecap="butt" />
<line x1="179.36" y1="186" x2="179.36" y2="305.6" stroke="#d2d2d2" stroke-width="1" stroke-linecap="butt" />
<line x1="185.74" y1="186" x2="185.74" y2="305.6" stroke="#d2d2d2" stroke-width="1" stroke-linecap="butt" />
<line x1="192.12" y1="186" x2="192.12" y2="305.6" stroke="#d2d2d2" stroke-width="1" stroke-linecap="butt" />
<line x1="198.5" y1="186" x2="198.5" y2="305.6" stroke="#d2d2d2" stroke-width="1" stroke-linecap="butt" />
<line x1="204.88" y1="186" x2="204.88" y2="305.6" stroke="#d2d2d2" stroke-width="1" stroke-linecap="butt" />
<line x1="211.26" y1="186" x2="211.26" y2="305.6" stroke="#d2d2d2" stroke-width="1" stroke-linecap="butt" />
<line x1="217.64" y1="186" x2="217.64" y2="305.6" stroke="#d2d2d2" stroke-width="1" stroke-linecap="butt" />
<line x1="224.02" y1="186" x2="224.02" y2="305.6" stroke="#d2d2d2" stroke-width="1" stroke-linecap="butt" />
<line x1="230.4" y1="186" x2="230.4" y2="305.6" stroke="#d2d2d2" stroke-width="1" stroke-linecap="butt" />
</g>
<g clip-path="url(#c9)" >
<line x1="-90.81" y1="186" x2="-231.51" y2="305.6" stroke="#dc9090" stroke-width="0.85" stroke-linecap="butt" />
<line x1="-88.01" y1="186" x2="-228.71" y2="305.6" stroke="#dc9090" stroke-width="0.85" stroke-linecap="butt" />
<line x1="-85.21" y1="186" x2="-225.91" y2="305.6" stroke="#dc9090" stroke-width="0.85" stroke-linecap="butt" />
<line x1="-82.41" y1="186" x2="-223.11" y2="305.6" stroke="#dc9090" stroke-width="0.85" stroke-linecap="butt" />
<line x1="-79.61" y1="186" x2="-220.31" y2="305.6" stroke="#dc9090" stroke-width="0.85" stroke-linecap="butt" />
<line x1="-76.81" y1="186" x2="-217.51" y2="305.6" stroke="#dc9090" stroke-width="0.85" stroke-linecap="butt" />
<line x1="-74.01" y1="186" x2="-214.71" y2="305.6" stroke="#dc9090" stroke-width="0.85" stroke-linecap="butt" />
<line x1="-71.21" y1="186" x2="-211.91" y2="305.6" stroke="#dc9090" stroke-width="0.85" stroke-linecap="butt" />
<line x1="-68.41" y1="186" x2="-209.11" y2="305.6" stroke="#dc9090" stroke-width="0.85" stroke-linecap="butt" />
<line x1="-65.61" y1="186" x2="-206.31" y2="305.6" stroke="#dc9090" stroke-width="0.85" stroke-linecap="butt" />
<line x1="-62.81" y1="186" x2="-203.51" y2="305.6" stroke="#dc9090" stroke-width="0.85" stroke-linecap="butt" />
<line x1="-60.01" y1="186" x2="-200.71" y2="305.6" stroke="#dc9090" stroke-width="0.85" stroke-linecap="butt" />
<line x1="-57.21" y1="186" x2="-197.91" y2="305.6" stroke="#dc9090" stroke-width="0.85" stroke-linecap="butt" />
<line x1="-54.41" y1="186" x2="-195.11" y2="305.6" stroke="#dc9090" stroke-width="0.85" stroke-linecap="butt" />
<line x1="-51.61" y1="186" x2="-192.31" y2="305.6" stroke="#dc9090" stroke-width="0.85" stroke-linecap="butt" />
<line x1="-48.81" y1="186" x2="-189.51" y2="305.6" stroke="#dc9090" stroke-width="0.85" stroke-linecap="butt" />
<line x1="-46.01" y1="186" x2="-186.71" y2="305.6" stroke="#dc9090" stroke-width="0.85" stroke-linecap="butt" />
<line x1="-43.21" y1="186" x2="-183.91" y2="305.6" stroke="#dc9090" stroke-width="0.85" stroke-linecap="butt" />
<line x1="-40.41" y1="186" x2="-181.11" y2="305.6" stroke="#dc9090" stroke-width="0.85" stroke-linecap="butt" />
<line x1="-37.61" y1="186" x2="-178.31" y2="305.6" stroke="#dc9090" stroke-width="0.85" stroke-linecap="butt" />
<line x1="-34.81" y1="186" x2="-175.51" y2="305.6" stroke="#dc9090" stroke-width="0.85" stroke-linecap="butt" />
<line x1="-32.01" y1="186" x2="-172.71" y2="305.6" stroke="#dc9090" stroke-width="0.85" stroke-linecap="butt" />
<line x1="-29.21" y1="186" x2="-169.91" y2="305.6" stroke="#dc9090" stroke-width="0.85" stroke-linecap="butt" />
<line x1="-26.41" y1="186" x2="-167.11" y2="305.6" stroke="#dc9090" stroke-width="0.85" stroke-linecap="butt" />
<line x1="-23.61" y1="186" x2="-164.31" y2="305.6" stroke="#dc9090" stroke-width="0.85" stroke-linecap="butt" />
<line x1="-20.81" y1="186" x2="-161.51" y2="305.6" stroke="#dc9090" stroke-width="0.85" stroke-linecap="butt" />
<line x1="-18.01" y1="186" x2="-158.71" y2="305.6" stroke="#dc9090" stroke-width="0.85" stroke-linecap="butt" />
<line x1="-15.21" y1="186" x2="-155.91" y2="305.6" stroke="#dc9090" stroke-width="0.85" stroke-linecap="butt" />
<line x1="-12.41" y1="186" x2="-153.11" y2="305.6" stroke="#dc9090" stroke-width="0.85" stroke-linecap="butt" />
<line x1="-9.61" y1="186" x2="-150.31" y2="305.6" stroke="#dc9090" stroke-width="0.85" stroke-linecap="butt" />
<line x1="-6.81" y1="186" x2="-147.51" y2="305.6" stroke="#dc9090" stroke-width="0.85" stroke-linecap="butt" />
<line x1="-4.01" y1="186" x2="-144.71" y2="305.6" stroke="#dc9090" stroke-width="0.85" stroke-linecap="butt" />
<line x1="-1.21" y1="186" x2="-141.91" y2="305.6" stroke="#dc9090" stroke-width="0.85" stroke-linecap="butt" />
<line x1="1.59" y1="186" x2="-139.11" y2="305.6" stroke="#dc9090" stroke-width="0.85" stroke-linecap="butt" />
<line x1="4.39" y1="186" x2="-136.31" y2="305.6" stroke="#dc9090" stroke-width="0.85" stroke-linecap="butt" />
<line x1="7.19" y1="186" x2="-133.51" y2="305.6" stroke="#dc9090" stroke-width="0.85" stroke-linecap="butt" />
<line x1="9.99" y1="186" x2="-130.71" y2="305.6" stroke="#dc9090" stroke-width="0.85" stroke-linecap="butt" />
<line x1="12.79" y1="186" x2="-127.91" y2="305.6" stroke="#dc9090" stroke-width="0.85" stroke-linecap="butt" />
<line x1="15.59" y1="186" x2="-125.11" y2="305.6" stroke="#dc9090" stroke-width="0.85" stroke-linecap="butt" />
<line x1="18.39" y1="186" x2="-122.31" y2="305.6" stroke="#dc9090" stroke-width="0.85" stroke-linecap="butt" />
<line x1="21.19" y1="186" x2="-119.51" y2="305.6" stroke="#dc9090" stroke-width="0.85" stroke-linecap="butt" />
<line x1="23.99" y1="186" x2="-116.71" y2="305.6" stroke="#dc9090" stroke-width="0.85" stroke-linecap="butt" />
<line x1="26.79" y1="186" x2="-113.91" y2="305.6" stroke="#dc9090" stroke-width="0.85" stroke-linecap="butt" />
<line x1="29.59" y1="186" x2="-111.11" y2="305.6" stroke="#dc9090" stroke-width="0.85" stroke-linecap="butt" />
<line x1="32.39" y1="186" x2="-108.31" y2="305.6" stroke="#dc9090" stroke-width="0.85" stroke-linecap="butt" />
<line x1="35.19" y1="186" x2="-105.51" y2="305.6" stroke="#dc9090" stroke-width="0.85" stroke-linecap="butt" />
<line x1="37.99" y1="186" x2="-102.71" y2="305.6" stroke="#dc9090" stroke-width="0.85" stroke-linecap="butt" />
<line x1="40.79" y1="186" x2="-99.91" y2="305.6" stroke="#dc9090" stroke-width="0.85" stroke-linecap="butt" />
<line x1="43.59" y1="186" x2="-97.11" y2="305.6" stroke="#dc9090" stroke-width="0.85" stroke-linecap="butt" />
<line x1="46.39" y1="186" x2="-94.31" y2="305.6" stroke="#dc9090" stroke-width="0.85" stroke-linecap="butt" />
<line x1="49.19" y1="186" x2="-91.51" y2="305.6" stroke="#dc9090" stroke-width="0.85" stroke-linecap="butt" />
<line x1="51.99" y1="186" x2="-88.71" y2="305.6" stroke="#dc9090" stroke-width="0.85" stroke-linecap="butt" />
<line x1="54.79" y1="186" x2="-85.91" y2="305.6" stroke="#dc9090" stroke-width="0.85" stroke-linecap="butt" />
<line x1="57.59" y1="186" x2="-83.11" y2="305.6" stroke="#dc9090" stroke-width="0.85" stroke-linecap="butt" />
<line x1="60.39" y1="186" x2="-80.31" y2="305.6" stroke="#dc9090" stroke-width="0.85" stroke-linecap="butt" />
<line x1="63.19" y1="186" x2="-77.51" y2="305.6" stroke="#dc9090" stroke-width="0.85" stroke-linecap="butt" />
<line x1="65.99" y1="186" x2="-74.71" y2="305.6" stroke="#dc9090" stroke-width="0.85" stroke-linecap="butt" />
<line x1="68.79" y1="186" x2="-71.91" y2="305.6" stroke="#dc9090" stroke-width="0.85" stroke-linecap="butt" />
<line x1="71.59" y1="186" x2="-69.11" y2="305.6" stroke="#dc9090" stroke-width="0.85" stroke-linecap="butt" />
<line x1="74.39" y1="186" x2="-66.31" y2="305.6" stroke="#dc9090" stroke-width="0.85" stroke-linecap="butt" />
<line x1="77.19" y1="186" x2="-63.51" y2="305.6" stroke="#dc9090" stroke-width="0.85" stroke-linecap="butt" />
<line x1="79.99" y1="186" x2="-60.71" y2="305.6" stroke="#dc9090" stroke-width="0.85" stroke-linecap="butt" />
<line x1="82.79" y1="186" x2="-57.91" y2="305.6" stroke="#dc9090" stroke-width="0.85" stroke-linecap="butt" />
<line x1="85.59" y1="186" x2="-55.11" y2="305.6" stroke="#dc9090" stroke-width="0.85" stroke-linecap="butt" />
<line x1="88.39" y1="186" x2="-52.31" y2="305.6" stroke="#dc9090" stroke-width="0.85" stroke-linecap="butt" />
<line x1="91.19" y1="186" x2="-49.51" y2="305.6" stroke="#dc9090" stroke-width="0.85" stroke-linecap="butt" />
<line x1="93.99" y1="186" x2="-46.71" y2="305.6" stroke="#dc9090" stroke-width="0.85" stroke-linecap="butt" />
<line x1="96.79" y1="186" x2="-43.91" y2="305.6" stroke="#dc9090" stroke-width="0.85" stroke-linecap="butt" />
<line x1="99.59" y1="186" x2="-41.11" y2="305.6" stroke="#dc9090" stroke-width="0.85" stroke-linecap="butt" />
<line x1="102.39" y1="186" x2="-38.31" y2="305.6" stroke="#dc9090" stroke-width="0.85" stroke-linecap="butt" />
<line x1="105.19" y1="186" x2="-35.51" y2="305.6" stroke="#dc9090" stroke-width="0.85" stroke-linecap="butt" />
<line x1="107.99" y1="186" x2="-32.71" y2="305.6" stroke="#dc9090" stroke-width="0.85" stroke-linecap="butt" />
<line x1="110.79" y1="186" x2="-29.91" y2="305.6" stroke="#dc9090" stroke-width="0.85" stroke-linecap="butt" />
<line x1="113.59" y1="186" x2="-27.11" y2="305.6" stroke="#dc9090" stroke-width="0.85" stroke-linecap="butt" />
<line x1="116.39" y1="186" x2="-24.31" y2="305.6" stroke="#dc9090" stroke-width="0.85" stroke-linecap="butt" />
<line x1="119.19" y1="186" x2="-21.51" y2="305.6" stroke="#dc9090" stroke-width="0.85" stroke-linecap="butt" />
<line x1="121.99" y1="186" x2="-18.71" y2="305.6" stroke="#dc9090" stroke-width="0.85" stroke-linecap="butt" />
<line x1="124.79" y1="186" x2="-15.91" y2="305.6" stroke="#dc9090" stroke-width="0.85" stroke-linecap="butt" />
<line x1="127.59" y1="186" x2="-13.11" y2="305.6" stroke="#dc9090" stroke-width="0.85" stroke-linecap="butt" />
<line x1="130.39" y1="186" x2="-10.31" y2="305.6" stroke="#dc9090" stroke-width="0.85" stroke-linecap="butt" />
<line x1="133.19" y1="186" x2="-7.51" y2="305.6" stroke="#dc9090" stroke-width="0.85" stroke-linecap="butt" />
<line x1="135.99" y1="186" x2="-4.71" y2="305.6" stroke="#dc9090" stroke-width="0.85" stroke-linecap="butt" />
<line x1="138.79" y1="186" x2="-1.91" y2="305.6" stroke="#dc9090" stroke-width="0.85" stroke-linecap="butt" />
<line x1="141.59" y1="186" x2="0.89" y2="305.6" stroke="#dc9090" stroke-width="0.85" stroke-linecap="butt" />
<line x1="144.39" y1="186" x2="3.69" y2="305.6" stroke="#dc9090" stroke-width="0.85" stroke-linecap="butt" />
<line x1="147.19" y1="186" x2="6.49" y2="305.6" stroke="#dc9090" stroke-width="0.85" stroke-linecap="butt" />
<line x1="149.99" y1="186" x2="9.29" y2="305.6" stroke="#dc9090" stroke-width="0.85" stroke-linecap="butt" />
<line x1="152.79" y1="186" x2="12.09" y2="305.6" stroke="#dc9090" stroke-width="0.85" stroke-linecap="butt" />
<line x1="155.59" y1="186" x2="14.89" y2="305.6" stroke="#dc9090" stroke-width="0.85" stroke-linecap="butt" />
<line x1="158.39" y1="186" x2="17.69" y2="305.6" stroke="#dc9090" stroke-width="0.85" stroke-linecap="butt" />
<line x1="161.19" y1="186" x2="20.49" y2="305.6" stroke="#dc9090" stroke-width="0.85" stroke-linecap="butt" />
<line x1="163.99" y1="186" x2="23.29" y2="305.6" stroke="#dc9090" stroke-width="0.85" stroke-linecap="butt" />
<line x1="166.79" y1="186" x2="26.09" y2="305.6" stroke="#dc9090" stroke-width="0.85" stroke-linecap="butt" />
<line x1="169.59" y1="186" x2="28.89" y2="305.6" stroke="#dc9090" stroke-width="0.85" stroke-linecap="butt" />
<line x1="172.39" y1="186" x2="31.69" y2="305.6" stroke="#dc9090" stroke-width="0.85" stroke-linecap="butt" />
<line x1="175.19" y1="186" x2="34.49" y2="305.6" stroke="#dc9090" stroke-width="0.85" stroke-linecap="butt" />
<line x1="177.99" y1="186" x2="37.29" y2="305.6" stroke="#dc9090" stroke-width="0.85" stroke-linecap="butt" />
<line x1="180.79" y1="186" x2="40.09" y2="305.6" stroke="#dc9090" stroke-width="0.85" stroke-linecap="butt" />
<line x1="183.59" y1="186" x2="42.89" y2="305.6" stroke="#dc9090" stroke-width="0.85" stroke-linecap="butt" />
<line x1="186.39" y1="186" x2="45.69" y2="305.6" stroke="#dc9090" stroke-width="0.85" stroke-linecap="butt" />
<line x1="189.19" y1="186" x2="48.49" y2="305.6" stroke="#dc9090" stroke-width="0.85" stroke-linecap="butt" />
<line x1="191.99" y1="186" x2="51.29" y2="305.6" stroke="#dc9090" stroke-width="0.85" stroke-linecap="butt" />
<line x1="194.79" y1="186" x2="54.09" y2="305.6" stroke="#dc9090" stroke-width="0.85" stroke-linecap="butt" />
<line x1="197.59" y1="186" x2="56.89" y2="305.6" stroke="#dc9090" stroke-width="0.85" stroke-linecap="butt" />
<line x1="200.39" y1="186" x2="59.69" y2="305.6" stroke="#dc9090" stroke-width="0.85" stroke-linecap="butt" />
<line x1="203.19" y1="186" x2="62.49" y2="305.6" stroke="#dc9090" stroke-width="0.85" stroke-linecap="butt" />
<line x1="205.99" y1="186" x2="65.29" y2="305.6" stroke="#dc9090" stroke-width="0.85" stroke-linecap="butt" />
<line x1="208.79" y1="186" x2="68.09" y2="305.6" stroke="#dc9090" stroke-width="0.85" stroke-linecap="butt" />
<line x1="211.59" y1="186" x2="70.89" y2="305.6" stroke="#dc9090" stroke-width="0.85" stroke-linecap="butt" />
<line x1="214.39" y1="186" x2="73.69" y2="305.6" stroke="#dc9090" stroke-width="0.85" stroke-linecap="butt" />
<line x1="217.19" y1="186" x2="76.49" y2="305.6" stroke="#dc9090" stroke-width="0.85" stroke-linecap="butt" />
<line x1="219.99" y1="186" x2="79.29" y2="305.6" stroke="#dc9090" stroke-width="0.85" stroke-linecap="butt" />
<line x1="222.79" y1="186" x2="82.09" y2="305.6" stroke="#dc9090" stroke-width="0.85" stroke-linecap="butt" />
<line x1="225.59" y1="186" x2="84.89" y2="305.6" stroke="#dc9090" stroke-width="0.85" stroke-linecap="butt" />
<line x1="228.39" y1="186" x2="87.69" y2="305.6" stroke="#dc9090" stroke-width="0.85" stroke-linecap="butt" />
<line x1="231.19" y1="186" x2="90.49" y2="305.6" stroke="#dc9090" stroke-width="0.85" stroke-linecap="butt" />
<line x1="233.99" y1="186" x2="93.29" y2="305.6" stroke="#dc9090" stroke-width="0.85" stroke-linecap="butt" />
<line x1="236.79" y1="186" x2="96.09" y2="305.6" stroke="#dc9090" stroke-width="0.85" stroke-linecap="butt" />
<line x1="239.59" y1="186" x2="98.89" y2="305.6" stroke="#dc9090" stroke-width="0.85" stroke-linecap="butt" />
<line x1="242.39" y1="186" x2="101.69" y2="305.6" stroke="#dc9090" stroke-width="0.85" stroke-linecap="butt" />
<line x1="245.19" y1="186" x2="104.49" y2="305.6" stroke="#dc9090" stroke-width="0.85" stroke-linecap="butt" />
<line x1="247.99" y1="186" x2="107.29" y2="305.6" stroke="#dc9090" stroke-width="0.85" stroke-linecap="butt" />
<line x1="250.79" y1="186" x2="110.09" y2="305.6" stroke="#dc9090" stroke-width="0.85" stroke-linecap="butt" />
<line x1="253.59" y1="186" x2="112.89" y2="305.6" stroke="#dc9090" stroke-width="0.85" stroke-linecap="butt" />
<line x1="256.39" y1="186" x2="115.69" y2="305.6" stroke="#dc9090" stroke-width="0.85" stroke-linecap="butt" />
<line x1="259.19" y1="186" x2="118.49" y2="305.6" stroke="#dc9090" stroke-width="0.85" stroke-linecap="butt" />
<line x1="261.99" y1="186" x2="121.29" y2="305.6" stroke="#dc9090" stroke-width="0.85" stroke-linecap="butt" />
<line x1="264.79" y1="186" x2="124.09" y2="305.6" stroke="#dc9090" stroke-width="0.85" stroke-linecap="butt" />
<line x1="267.59" y1="186" x2="126.89" y2="305.6" stroke="#dc9090" stroke-width="0.85" stroke-linecap="butt" />
<line x1="270.39" y1="186" x2="129.69" y2="305.6" stroke="#dc9090" stroke-width="0.85" stroke-linecap="butt" />
<line x1="273.19" y1="186" x2="132.49" y2="305.6" stroke="#dc9090" stroke-width="0.85" stroke-linecap="butt" />
<line x1="275.99" y1="186" x2="135.29" y2="305.6" stroke="#dc9090" stroke-width="0.85" stroke-linecap="butt" />
<line x1="278.79" y1="186" x2="138.09" y2="305.6" stroke="#dc9090" stroke-width="0.85" stroke-linecap="butt" />
<line x1="281.59" y1="186" x2="140.89" y2="305.6" stroke="#dc9090" stroke-width="0.85" stroke-linecap="butt" />
<line x1="284.39" y1="186" x2="143.69" y2="305.6" stroke="#dc9090" stroke-width="0.85" stroke-linecap="butt" />
<line x1="287.19" y1="186" x2="146.49" y2="305.6" stroke="#dc9090" stroke-width="0.85" stroke-linecap="butt" />
<line x1="289.99" y1="186" x2="149.29" y2="305.6" stroke="#dc9090" stroke-width="0.85" stroke-linecap="butt" />
<line x1="292.79" y1="186" x2="152.09" y2="305.6" stroke="#dc9090" stroke-width="0.85" stroke-linecap="butt" />
<line x1="295.59" y1="186" x2="154.89" y2="305.6" stroke="#dc9090" stroke-width="0.85" stroke-linecap="butt" />
<line x1="298.39" y1="186" x2="157.69" y2="305.6" stroke="#dc9090" stroke-width="0.85" stroke-linecap="butt" />
<line x1="301.19" y1="186" x2="160.49" y2="305.6" stroke="#dc9090" stroke-width="0.85" stroke-linecap="butt" />
<line x1="303.99" y1="186" x2="163.29" y2="305.6" stroke="#dc9090" stroke-width="0.85" stroke-linecap="butt" />
<line x1="306.79" y1="186" x2="166.09" y2="305.6" stroke="#dc9090" stroke-width="0.85" stroke-linecap="butt" />
<line x1="309.59" y1="186" x2="168.89" y2="305.6" stroke="#dc9090" stroke-width="0.85" stroke-linecap="butt" />
<line x1="312.39" y1="186" x2="171.69" y2="305.6" stroke="#dc9090" stroke-width="0.85" stroke-linecap="butt" />
<line x1="315.19" y1="186" x2="174.49" y2="305.6" stroke="#dc9090" stroke-width="0.85" stroke-linecap="butt" />
<line x1="317.99" y1="186" x2="177.29" y2="305.6" stroke="#dc9090" stroke-width="0.85" stroke-linecap="butt" />
<line x1="320.79" y1="186" x2="180.09" y2="305.6" stroke="#dc9090" stroke-width="0.85" stroke-linecap="butt" />
<line x1="323.59" y1="186" x2="182.89" y2="305.6" stroke="#dc9090" stroke-width="0.85" stroke-linecap="butt" />
<line x1="326.39" y1="186" x2="185.69" y2="305.6" stroke="#dc9090" stroke-width="0.85" stroke-linecap="butt" />
<line x1="329.19" y1="186" x2="188.49" y2="305.6" stroke="#dc9090" stroke-width="0.85" stroke-linecap="butt" />
<line x1="331.99" y1="186" x2="191.29" y2="305.6" stroke="#dc9090" stroke-width="0.85" stroke-linecap="butt" />
<line x1="334.79" y1="186" x2="194.09" y2="305.6" stroke="#dc9090" stroke-width="0.85" stroke-linecap="butt" />
<line x1="337.59" y1="186" x2="196.89" y2="305.6" stroke="#dc9090" stroke-width="0.85" stroke-linecap="butt" />
<line x1="340.39" y1="186" x2="199.69" y2="305.6" stroke="#dc9090" stroke-width="0.85" stroke-linecap="butt" />
<line x1="343.19" y1="186" x2="202.49" y2="305.6" stroke="#dc9090" stroke-width="0.85" stroke-linecap="butt" />
<line x1="345.99" y1="186" x2="205.29" y2="305.6" stroke="#dc9090" stroke-width="0.85" stroke-linecap="butt" />
<line x1="348.79" y1="186" x2="208.09" y2="305.6" stroke="#dc9090" stroke-width="0.85" stroke-linecap="butt" />
<line x1="351.59" y1="186" x2="210.89" y2="305.6" stroke="#dc9090" stroke-width="0.85" stroke-linecap="butt" />
<line x1="354.39" y1="186" x2="213.69" y2="305.6" stroke="#dc9090" stroke-width="0.85" stroke-linecap="butt" />
<line x1="357.19" y1="186" x2="216.49" y2="305.6" stroke="#dc9090" stroke-width="0.85" stroke-linecap="butt" />
<line x1="359.99" y1="186" x2="219.29" y2="305.6" stroke="#dc9090" stroke-width="0.85" stroke-linecap="butt" />
<line x1="362.79" y1="186" x2="222.09" y2="305.6" stroke="#dc9090" stroke-width="0.85" stroke-linecap="butt" />
<line x1="365.59" y1="186" x2="224.89" y2="305.6" stroke="#dc9090" stroke-width="0.85" stroke-linecap="butt" />
<line x1="368.39" y1="186" x2="227.69" y2="305.6" stroke="#dc9090" stroke-width="0.85" stroke-linecap="butt" />
<line x1="371.19" y1="186" x2="230.49" y2="305.6" stroke="#dc9090" stroke-width="0.85" stroke-linecap="butt" />
<line x1="373.99" y1="186" x2="233.29" y2="305.6" stroke="#dc9090" stroke-width="0.85" stroke-linecap="butt" />
<line x1="376.79" y1="186" x2="236.09" y2="305.6" stroke="#dc9090" stroke-width="0.85" stroke-linecap="butt" />
<line x1="379.59" y1="186" x2="238.89" y2="305.6" stroke="#dc9090" stroke-width="0.85" stroke-linecap="butt" />
<line x1="382.39" y1="186" x2="241.69" y2="305.6" stroke="#dc9090" stroke-width="0.85" stroke-linecap="butt" />
</g>
<g clip-path="url(#c10)" >
<line x1="321.44" y1="184" x2="321.44" y2="305.6" stroke="#d2d2d2" stroke-width="1" stroke-linecap="butt" />
<line x1="327.9" y1="184" x2="327.9" y2="305.6" stroke="#d2d2d2" stroke-width="1" stroke-linecap="butt" />
<line x1="334.36" y1="184" x2="334.36" y2="305.6" stroke="#d2d2d2" stroke-width="1" stroke-linecap="butt" />
<line x1="340.82" y1="184" x2="340.82" y2="305.6" stroke="#d2d2d2" stroke-width="1" stroke-linecap="butt" />
<line x1="347.28" y1="184" x2="347.28" y2="305.6" stroke="#d2d2d2" stroke-width="1" stroke-linecap="butt" />
<line x1="353.74" y1="184" x2="353.74" y2="305.6" stroke="#d2d2d2" stroke-width="1" stroke-linecap="butt" />
<line x1="360.2" y1="184" x2="360.2" y2="305.6" stroke="#d2d2d2" stroke-width="1" stroke-linecap="butt" />
<line x1="366.66" y1="184" x2="366.66" y2="305.6" stroke="#d2d2d2" stroke-width="1" stroke-linecap="butt" />
<line x1="373.12" y1="184" x2="373.12" y2="305.6" stroke="#d2d2d2" stroke-width="1" stroke-linecap="butt" />
<line x1="379.58" y1="184" x2="379.58" y2="305.6" stroke="#d2d2d2" stroke-width="1" stroke-linecap="butt" />
<line x1="386.04" y1="184" x2="386.04" y2="305.6" stroke="#d2d2d2" stroke-width="1" stroke-linecap="butt" />
<line x1="392.5" y1="184" x2="392.5" y2="305.6" stroke="#d2d2d2" stroke-width="1" stroke-linecap="butt" />
<line x1="398.96" y1="184" x2="398.96" y2="305.6" stroke="#d2d2d2" stroke-width="1" stroke-linecap="butt" />
<line x1="405.42" y1="184" x2="405.42" y2="305.6" stroke="#d2d2d2" stroke-width="1" stroke-linecap="butt" />
<line x1="411.88" y1="184" x2="411.88" y2="305.6" stroke="#d2d2d2" stroke-width="1" stroke-linecap="butt" />
<line x1="418.34" y1="184" x2="418.34" y2="305.6" stroke="#d2d2d2" stroke-width="1" stroke-linecap="butt" />
<line x1="424.8" y1="184" x2="424.8" y2="305.6" stroke="#d2d2d2" stroke-width="1" stroke-linecap="butt" />
<line x1="431.26" y1="184" x2="431.26" y2="305.6" stroke="#d2d2d2" stroke-width="1" stroke-linecap="butt" />
<line x1="437.72" y1="184" x2="437.72" y2="305.6" stroke="#d2d2d2" stroke-width="1" stroke-linecap="butt" />
<line x1="444.18" y1="184" x2="444.18" y2="305.6" stroke="#d2d2d2" stroke-width="1" stroke-linecap="butt" />
<line x1="450.64" y1="184" x2="450.64" y2="305.6" stroke="#d2d2d2" stroke-width="1" stroke-linecap="butt" />
<line x1="457.1" y1="184" x2="457.1" y2="305.6" stroke="#d2d2d2" stroke-width="1" stroke-linecap="butt" />
<line x1="463.56" y1="184" x2="463.56" y2="305.6" stroke="#d2d2d2" stroke-width="1" stroke-linecap="butt" />
<line x1="470.02" y1="184" x2="470.02" y2="305.6" stroke="#d2d2d2" stroke-width="1" stroke-linecap="butt" />
<line x1="476.48" y1="184" x2="476.48" y2="305.6" stroke="#d2d2d2" stroke-width="1" stroke-linecap="butt" />
<line x1="482.94" y1="184" x2="482.94" y2="305.6" stroke="#d2d2d2" stroke-width="1" stroke-linecap="butt" />
<line x1="489.4" y1="184" x2="489.4" y2="305.6" stroke="#d2d2d2" stroke-width="1" stroke-linecap="butt" />
<line x1="495.86" y1="184" x2="495.86" y2="305.6" stroke="#d2d2d2" stroke-width="1" stroke-linecap="butt" />
</g>
<g clip-path="url(#c11)" >
<line x1="170.94" y1="184" x2="27.88" y2="305.6" stroke="#dc9090" stroke-width="0.85" stroke-linecap="butt" />
<line x1="173.74" y1="184" x2="30.68" y2="305.6" stroke="#dc9090" stroke-width="0.85" stroke-linecap="butt" />
<line x1="176.54" y1="184" x2="33.48" y2="305.6" stroke="#dc9090" stroke-width="0.85" stroke-linecap="butt" />
<line x1="179.34" y1="184" x2="36.28" y2="305.6" stroke="#dc9090" stroke-width="0.85" stroke-linecap="butt" />
<line x1="182.14" y1="184" x2="39.08" y2="305.6" stroke="#dc9090" stroke-width="0.85" stroke-linecap="butt" />
<line x1="184.94" y1="184" x2="41.88" y2="305.6" stroke="#dc9090" stroke-width="0.85" stroke-linecap="butt" />
<line x1="187.74" y1="184" x2="44.68" y2="305.6" stroke="#dc9090" stroke-width="0.85" stroke-linecap="butt" />
<line x1="190.54" y1="184" x2="47.48" y2="305.6" stroke="#dc9090" stroke-width="0.85" stroke-linecap="butt" />
<line x1="193.34" y1="184" x2="50.28" y2="305.6" stroke="#dc9090" stroke-width="0.85" stroke-linecap="butt" />
<line x1="196.14" y1="184" x2="53.08" y2="305.6" stroke="#dc9090" stroke-width="0.85" stroke-linecap="butt" />
<line x1="198.94" y1="184" x2="55.88" y2="305.6" stroke="#dc9090" stroke-width="0.85" stroke-linecap="butt" />
<line x1="201.74" y1="184" x2="58.68" y2="305.6" stroke="#dc9090" stroke-width="0.85" stroke-linecap="butt" />
<line x1="204.54" y1="184" x2="61.48" y2="305.6" stroke="#dc9090" stroke-width="0.85" stroke-linecap="butt" />
<line x1="207.34" y1="184" x2="64.28" y2="305.6" stroke="#dc9090" stroke-width="0.85" stroke-linecap="butt" />
<line x1="210.14" y1="184" x2="67.08" y2="305.6" stroke="#dc9090" stroke-width="0.85" stroke-linecap="butt" />
<line x1="212.94" y1="184" x2="69.88" y2="305.6" stroke="#dc9090" stroke-width="0.85" stroke-linecap="butt" />
<line x1="215.74" y1="184" x2="72.68" y2="305.6" stroke="#dc9090" stroke-width="0.85" stroke-linecap="butt" />
<line x1="218.54" y1="184" x2="75.48" y2="305.6" stroke="#dc9090" stroke-width="0.85" stroke-linecap="butt" />
<line x1="221.34" y1="184" x2="78.28" y2="305.6" stroke="#dc9090" stroke-width="0.85" stroke-linecap="butt" />
<line x1="224.14" y1="184" x2="81.08" y2="305.6" stroke="#dc9090" stroke-width="0.85" stroke-linecap="butt" />
<line x1="226.94" y1="184" x2="83.88" y2="305.6" stroke="#dc9090" stroke-width="0.85" stroke-linecap="butt" />
<line x1="229.74" y1="184" x2="86.68" y2="305.6" stroke="#dc9090" stroke-width="0.85" stroke-linecap="butt" />
<line x1="232.54" y1="184" x2="89.48" y2="305.6" stroke="#dc9090" stroke-width="0.85" stroke-linecap="butt" />
<line x1="235.34" y1="184" x2="92.28" y2="305.6" stroke="#dc9090" stroke-width="0.85" stroke-linecap="butt" />
<line x1="238.14" y1="184" x2="95.08" y2="305.6" stroke="#dc9090" stroke-width="0.85" stroke-linecap="butt" />
<line x1="240.94" y1="184" x2="97.88" y2="305.6" stroke="#dc9090" stroke-width="0.85" stroke-linecap="butt" />
<line x1="243.74" y1="184" x2="100.68" y2="305.6" stroke="#dc9090" stroke-width="0.85" stroke-linecap="butt" />
<line x1="246.54" y1="184" x2="103.48" y2="305.6" stroke="#dc9090" stroke-width="0.85" stroke-linecap="butt" />
<line x1="249.34" y1="184" x2="106.28" y2="305.6" stroke="#dc9090" stroke-width="0.85" stroke-linecap="butt" />
<line x1="252.14" y1="184" x2="109.08" y2="305.6" stroke="#dc9090" stroke-width="0.85" stroke-linecap="butt" />
<line x1="254.94" y1="184" x2="111.88" y2="305.6" stroke="#dc9090" stroke-width="0.85" stroke-linecap="butt" />
<line x1="257.74" y1="184" x2="114.68" y2="305.6" stroke="#dc9090" stroke-width="0.85" stroke-linecap="butt" />
<line x1="260.54" y1="184" x2="117.48" y2="305.6" stroke="#dc9090" stroke-width="0.85" stroke-linecap="butt" />
<line x1="263.34" y1="184" x2="120.28" y2="305.6" stroke="#dc9090" stroke-width="0.85" stroke-linecap="butt" />
<line x1="266.14" y1="184" x2="123.08" y2="305.6" stroke="#dc9090" stroke-width="0.85" stroke-linecap="butt" />
<line x1="268.94" y1="184" x2="125.88" y2="305.6" stroke="#dc9090" stroke-width="0.85" stroke-linecap="butt" />
<line x1="271.74" y1="184" x2="128.68" y2="305.6" stroke="#dc9090" stroke-width="0.85" stroke-linecap="butt" />
<line x1="274.54" y1="184" x2="131.48" y2="305.6" stroke="#dc9090" stroke-width="0.85" stroke-linecap="butt" />
<line x1="277.34" y1="184" x2="134.28" y2="305.6" stroke="#dc9090" stroke-width="0.85" stroke-linecap="butt" />
<line x1="280.14" y1="184" x2="137.08" y2="305.6" stroke="#dc9090" stroke-width="0.85" stroke-linecap="butt" />
<line x1="282.94" y1="184" x2="139.88" y2="305.6" stroke="#dc9090" stroke-width="0.85" stroke-linecap="butt" />
<line x1="285.74" y1="184" x2="142.68" y2="305.6" stroke="#dc9090" stroke-width="0.85" stroke-linecap="butt" />
<line x1="288.54" y1="184" x2="145.48" y2="305.6" stroke="#dc9090" stroke-width="0.85" stroke-linecap="butt" />
<line x1="291.34" y1="184" x2="148.28" y2="305.6" stroke="#dc9090" stroke-width="0.85" stroke-linecap="butt" />
<line x1="294.14" y1="184" x2="151.08" y2="305.6" stroke="#dc9090" stroke-width="0.85" stroke-linecap="butt" />
<line x1="296.94" y1="184" x2="153.88" y2="305.6" stroke="#dc9090" stroke-width="0.85" stroke-linecap="butt" />
<line x1="299.74" y1="184" x2="156.68" y2="305.6" stroke="#dc9090" stroke-width="0.85" stroke-linecap="butt" />
<line x1="302.54" y1="184" x2="159.48" y2="305.6" stroke="#dc9090" stroke-width="0.85" stroke-linecap="butt" />
<line x1="305.34" y1="184" x2="162.28" y2="305.6" stroke="#dc9090" stroke-width="0.85" stroke-linecap="butt" />
<line x1="308.14" y1="184" x2="165.08" y2="305.6" stroke="#dc9090" stroke-width="0.85" stroke-linecap="butt" />
<line x1="310.94" y1="184" x2="167.88" y2="305.6" stroke="#dc9090" stroke-width="0.85" stroke-linecap="butt" />
<line x1="313.74" y1="184" x2="170.68" y2="305.6" stroke="#dc9090" stroke-width="0.85" stroke-linecap="butt" />
<line x1="316.54" y1="184" x2="173.48" y2="305.6" stroke="#dc9090" stroke-width="0.85" stroke-linecap="butt" />
<line x1="319.34" y1="184" x2="176.28" y2="305.6" stroke="#dc9090" stroke-width="0.85" stroke-linecap="butt" />
<line x1="322.14" y1="184" x2="179.08" y2="305.6" stroke="#dc9090" stroke-width="0.85" stroke-linecap="butt" />
<line x1="324.94" y1="184" x2="181.88" y2="305.6" stroke="#dc9090" stroke-width="0.85" stroke-linecap="butt" />
<line x1="327.74" y1="184" x2="184.68" y2="305.6" stroke="#dc9090" stroke-width="0.85" stroke-linecap="butt" />
<line x1="330.54" y1="184" x2="187.48" y2="305.6" stroke="#dc9090" stroke-width="0.85" stroke-linecap="butt" />
<line x1="333.34" y1="184" x2="190.28" y2="305.6" stroke="#dc9090" stroke-width="0.85" stroke-linecap="butt" />
<line x1="336.14" y1="184" x2="193.08" y2="305.6" stroke="#dc9090" stroke-width="0.85" stroke-linecap="butt" />
<line x1="338.94" y1="184" x2="195.88" y2="305.6" stroke="#dc9090" stroke-width="0.85" stroke-linecap="butt" />
<line x1="341.74" y1="184" x2="198.68" y2="305.6" stroke="#dc9090" stroke-width="0.85" stroke-linecap="butt" />
<line x1="344.54" y1="184" x2="201.48" y2="305.6" stroke="#dc9090" stroke-width="0.85" stroke-linecap="butt" />
<line x1="347.34" y1="184" x2="204.28" y2="305.6" stroke="#dc9090" stroke-width="0.85" stroke-linecap="butt" />
<line x1="350.14" y1="184" x2="207.08" y2="305.6" stroke="#dc9090" stroke-width="0.85" stroke-linecap="butt" />
<line x1="352.94" y1="184" x2="209.88" y2="305.6" stroke="#dc9090" stroke-width="0.85" stroke-linecap="butt" />
<line x1="355.74" y1="184" x2="212.68" y2="305.6" stroke="#dc9090" stroke-width="0.85" stroke-linecap="butt" />
<line x1="358.54" y1="184" x2="215.48" y2="305.6" stroke="#dc9090" stroke-width="0.85" stroke-linecap="butt" />
<line x1="361.34" y1="184" x2="218.28" y2="305.6" stroke="#dc9090" stroke-width="0.85" stroke-linecap="butt" />
<line x1="364.14" y1="184" x2="221.08" y2="305.6" stroke="#dc9090" stroke-width="0.85" stroke-linecap="butt" />
<line x1="366.94" y1="184" x2="223.88" y2="305.6" stroke="#dc9090" stroke-width="0.85" stroke-linecap="butt" />
<line x1="369.74" y1="184" x2="226.68" y2="305.6" stroke="#dc9090" stroke-width="0.85" stroke-linecap="butt" />
<line x1="372.54" y1="184" x2="229.48" y2="305.6" stroke="#dc9090" stroke-width="0.85" stroke-linecap="butt" />
<line x1="375.34" y1="184" x2="232.28" y2="305.6" stroke="#dc9090" stroke-width="0.85" stroke-linecap="butt" />
<line x1="378.14" y1="184" x2="235.08" y2="305.6" stroke="#dc9090" stroke-width="0.85" stroke-linecap="butt" />
<line x1="380.94" y1="184" x2="237.88" y2="305.6" stroke="#dc9090" stroke-width="0.85" stroke-linecap="butt" />
<line x1="383.74" y1="184" x2="240.68" y2="305.6" stroke="#dc9090" stroke-width="0.85" stroke-linecap="butt" />
<line x1="386.54" y1="184" x2="243.48" y2="305.6" stroke="#dc9090" stroke-width="0.85" stroke-linecap="butt" />
<line x1="389.34" y1="184" x2="246.28" y2="305.6" stroke="#dc9090" stroke-width="0.85" stroke-linecap="butt" />
<line x1="392.14" y1="184" x2="249.08" y2="305.6" stroke="#dc9090" stroke-width="0.85" stroke-linecap="butt" />
<line x1="394.94" y1="184" x2="251.88" y2="305.6" stroke="#dc9090" stroke-width="0.85" stroke-linecap="butt" />
<line x1="397.74" y1="184" x2="254.68" y2="305.6" stroke="#dc9090" stroke-width="0.85" stroke-linecap="butt" />
<line x1="400.54" y1="184" x2="257.48" y2="305.6" stroke="#dc9090" stroke-width="0.85" stroke-linecap="butt" />
<line x1="403.34" y1="184" x2="260.28" y2="305.6" stroke="#dc9090" stroke-width="0.85" stroke-linecap="butt" />
<line x1="406.14" y1="184" x2="263.08" y2="305.6" stroke="#dc9090" stroke-width="0.85" stroke-linecap="butt" />
<line x1="408.94" y1="184" x2="265.88" y2="305.6" stroke="#dc9090" stroke-width="0.85" stroke-linecap="butt" />
<line x1="411.74" y1="184" x2="268.68" y2="305.6" stroke="#dc9090" stroke-width="0.85" stroke-linecap="butt" />
<line x1="414.54" y1="184" x2="271.48" y2="305.6" stroke="#dc9090" stroke-width="0.85" stroke-linecap="butt" />
<line x1="417.34" y1="184" x2="274.28" y2="305.6" stroke="#dc9090" stroke-width="0.85" stroke-linecap="butt" />
<line x1="420.14" y1="184" x2="277.08" y2="305.6" stroke="#dc9090" stroke-width="0.85" stroke-linecap="butt" />
<line x1="422.94" y1="184" x2="279.88" y2="305.6" stroke="#dc9090" stroke-width="0.85" stroke-linecap="butt" />
<line x1="425.74" y1="184" x2="282.68" y2="305.6" stroke="#dc9090" stroke-width="0.85" stroke-linecap="butt" />
<line x1="428.54" y1="184" x2="285.48" y2="305.6" stroke="#dc9090" stroke-width="0.85" stroke-linecap="butt" />
<line x1="431.34" y1="184" x2="288.28" y2="305.6" stroke="#dc9090" stroke-width="0.85" stroke-linecap="butt" />
<line x1="434.14" y1="184" x2="291.08" y2="305.6" stroke="#dc9090" stroke-width="0.85" stroke-linecap="butt" />
<line x1="436.94" y1="184" x2="293.88" y2="305.6" stroke="#dc9090" stroke-width="0.85" stroke-linecap="butt" />
<line x1="439.74" y1="184" x2="296.68" y2="305.6" stroke="#dc9090" stroke-width="0.85" stroke-linecap="butt" />
<line x1="442.54" y1="184" x2="299.48" y2="305.6" stroke="#dc9090" stroke-width="0.85" stroke-linecap="butt" />
<line x1="445.34" y1="184" x2="302.28" y2="305.6" stroke="#dc9090" stroke-width="0.85" stroke-linecap="butt" />
<line x1="448.14" y1="184" x2="305.08" y2="305.6" stroke="#dc9090" stroke-width="0.85" stroke-linecap="butt" />
<line x1="450.94" y1="184" x2="307.88" y2="305.6" stroke="#dc9090" stroke-width="0.85" stroke-linecap="butt" />
<line x1="453.74" y1="184" x2="310.68" y2="305.6" stroke="#dc9090" stroke-width="0.85" stroke-linecap="butt" />
<line x1="456.54" y1="184" x2="313.48" y2="305.6" stroke="#dc9090" stroke-width="0.85" stroke-linecap="butt" />
<line x1="459.34" y1="184" x2="316.28" y2="305.6" stroke="#dc9090" stroke-width="0.85" stroke-linecap="butt" />
<line x1="462.14" y1="184" x2="319.08" y2="305.6" stroke="#dc9090" stroke-width="0.85" stroke-linecap="butt" />
<line x1="464.94" y1="184" x2="321.88" y2="305.6" stroke="#dc9090" stroke-width="0.85" stroke-linecap="butt" />
<line x1="467.74" y1="184" x2="324.68" y2="305.6" stroke="#dc9090" stroke-width="0.85" stroke-linecap="butt" />
<line x1="470.54" y1="184" x2="327.48" y2="305.6" stroke="#dc9090" stroke-width="0.85" stroke-linecap="butt" />
<line x1="473.34" y1="184" x2="330.28" y2="305.6" stroke="#dc9090" stroke-width="0.85" stroke-linecap="butt" />
<line x1="476.14" y1="184" x2="333.08" y2="305.6" stroke="#dc9090" stroke-width="0.85" stroke-linecap="butt" />
<line x1="478.94" y1="184" x2="335.88" y2="305.6" stroke="#dc9090" stroke-width="0.85" stroke-linecap="butt" />
<line x1="481.74" y1="184" x2="338.68" y2="305.6" stroke="#dc9090" stroke-width="0.85" stroke-linecap="butt" />
<line x1="484.54" y1="184" x2="341.48" y2="305.6" stroke="#dc9090" stroke-width="0.85" stroke-linecap="butt" />
<line x1="487.34" y1="184" x2="344.28" y2="305.6" stroke="#dc9090" stroke-width="0.85" stroke-linecap="butt" />
<line x1="490.14" y1="184" x2="347.08" y2="305.6" stroke="#dc9090" stroke-width="0.85" stroke-linecap="butt" />
<line x1="492.94" y1="184" x2="349.88" y2="305.6" stroke="#dc9090" stroke-width="0.85" stroke-linecap="butt" />
<line x1="495.74" y1="184" x2="352.68" y2="305.6" stroke="#dc9090" stroke-width="0.85" stroke-linecap="butt" />
<line x1="498.54" y1="184" x2="355.48" y2="305.6" stroke="#dc9090" stroke-width="0.85" stroke-linecap="butt" />
<line x1="501.34" y1="184" x2="358.28" y2="305.6" stroke="#dc9090" stroke-width="0.85" stroke-linecap="butt" />
<line x1="504.14" y1="184" x2="361.08" y2="305.6" stroke="#dc9090" stroke-width="0.85" stroke-linecap="butt" />
<line x1="506.94" y1="184" x2="363.88" y2="305.6" stroke="#dc9090" stroke-width="0.85" stroke-linecap="butt" />
<line x1="509.74" y1="184" x2="366.68" y2="305.6" stroke="#dc9090" stroke-width="0.85" stroke-linecap="butt" />
<line x1="512.54" y1="184" x2="369.48" y2="305.6" stroke="#dc9090" stroke-width="0.85" stroke-linecap="butt" />
<line x1="515.34" y1="184" x2="372.28" y2="305.6" stroke="#dc9090" stroke-width="0.85" stroke-linecap="butt" />
<line x1="518.14" y1="184" x2="375.08" y2="305.6" stroke="#dc9090" stroke-width="0.85" stroke-linecap="butt" />
<line x1="520.94" y1="184" x2="377.88" y2="305.6" stroke="#dc9090" stroke-width="0.85" stroke-linecap="butt" />
<line x1="523.74" y1="184" x2="380.68" y2="305.6" stroke="#dc9090" stroke-width="0.85" stroke-linecap="butt" />
<line x1="526.54" y1="184" x2="383.48" y2="305.6" stroke="#dc9090" stroke-width="0.85" stroke-linecap="butt" />
<line x1="529.34" y1="184" x2="386.28" y2="305.6" stroke="#dc9090" stroke-width="0.85" stroke-linecap="butt" />
<line x1="532.14" y1="184" x2="389.08" y2="305.6" stroke="#dc9090" stroke-width="0.85" stroke-linecap="butt" />
<line x1="534.94" y1="184" x2="391.88" y2="305.6" stroke="#dc9090" stroke-width="0.85" stroke-linecap="butt" />
<line x1="537.74" y1="184" x2="394.68" y2="305.6" stroke="#dc9090" stroke-width="0.85" stroke-linecap="butt" />
<line x1="540.54" y1="184" x2="397.48" y2="305.6" stroke="#dc9090" stroke-width="0.85" stroke-linecap="butt" />
<line x1="543.34" y1="184" x2="400.28" y2="305.6" stroke="#dc9090" stroke-width="0.85" stroke-linecap="butt" />
<line x1="546.14" y1="184" x2="403.08" y2="305.6" stroke="#dc9090" stroke-width="0.85" stroke-linecap="butt" />
<line x1="548.94" y1="184" x2="405.88" y2="305.6" stroke="#dc9090" stroke-width="0.85" stroke-linecap="butt" />
<line x1="551.74" y1="184" x2="408.68" y2="305.6" stroke="#dc9090" stroke-width="0.85" stroke-linecap="butt" />
<line x1="554.54" y1="184" x2="411.48" y2="305.6" stroke="#dc9090" stroke-width="0.85" stroke-linecap="butt" />
<line x1="557.34" y1="184" x2="414.28" y2="305.6" stroke="#dc9090" stroke-width="0.85" stroke-linecap="butt" />
<line x1="560.14" y1="184" x2="417.08" y2="305.6" stroke="#dc9090" stroke-width="0.85" stroke-linecap="butt" />
<line x1="562.94" y1="184" x2="419.88" y2="305.6" stroke="#dc9090" stroke-width="0.85" stroke-linecap="butt" />
<line x1="565.74" y1="184" x2="422.68" y2="305.6" stroke="#dc9090" stroke-width="0.85" stroke-linecap="butt" />
<line x1="568.54" y1="184" x2="425.48" y2="305.6" stroke="#dc9090" stroke-width="0.85" stroke-linecap="butt" />
<line x1="571.34" y1="184" x2="428.28" y2="305.6" stroke="#dc9090" stroke-width="0.85" stroke-linecap="butt" />
<line x1="574.14" y1="184" x2="431.08" y2="305.6" stroke="#dc9090" stroke-width="0.85" stroke-linecap="butt" />
<line x1="576.94" y1="184" x2="433.88" y2="305.6" stroke="#dc9090" stroke-width="0.85" stroke-linecap="butt" />
<line x1="579.74" y1="184" x2="436.68" y2="305.6" stroke="#dc9090" stroke-width="0.85" stroke-linecap="butt" />
<line x1="582.54" y1="184" x2="439.48" y2="305.6" stroke="#dc9090" stroke-width="0.85" stroke-linecap="butt" />
<line x1="585.34" y1="184" x2="442.28" y2="305.6" stroke="#dc9090" stroke-width="0.85" stroke-linecap="butt" />
<line x1="588.14" y1="184" x2="445.08" y2="305.6" stroke="#dc9090" stroke-width="0.85" stroke-linecap="butt" />
<line x1="590.94" y1="184" x2="447.88" y2="305.6" stroke="#dc9090" stroke-width="0.85" stroke-linecap="butt" />
<line x1="593.74" y1="184" x2="450.68" y2="305.6" stroke="#dc9090" stroke-width="0.85" stroke-linecap="butt" />
<line x1="596.54" y1="184" x2="453.48" y2="305.6" stroke="#dc9090" stroke-width="0.85" stroke-linecap="butt" />
<line x1="599.34" y1="184" x2="456.28" y2="305.6" stroke="#dc9090" stroke-width="0.85" stroke-linecap="butt" />
<line x1="602.14" y1="184" x2="459.08" y2="305.6" stroke="#dc9090" stroke-width="0.85" stroke-linecap="butt" />
<line x1="604.94" y1="184" x2="461.88" y2="305.6" stroke="#dc9090" stroke-width="0.85" stroke-linecap="butt" />
<line x1="607.74" y1="184" x2="464.68" y2="305.6" stroke="#dc9090" stroke-width="0.85" stroke-linecap="butt" />
<line x1="610.54" y1="184" x2="467.48" y2="305.6" stroke="#dc9090" stroke-width="0.85" stroke-linecap="butt" />
<line x1="613.34" y1="184" x2="470.28" y2="305.6" stroke="#dc9090" stroke-width="0.85" stroke-linecap="butt" />
<line x1="616.14" y1="184" x2="473.08" y2="305.6" stroke="#dc9090" stroke-width="0.85" stroke-linecap="butt" />
<line x1="618.94" y1="184" x2="475.88" y2="305.6" stroke="#dc9090" stroke-width="0.85" stroke-linecap="butt" />
<line x1="621.74" y1="184" x2="478.68" y2="305.6" stroke="#dc9090" stroke-width="0.85" stroke-linecap="butt" />
<line x1="624.54" y1="184" x2="481.48" y2="305.6" stroke="#dc9090" stroke-width="0.85" stroke-linecap="butt" />
<line x1="627.34" y1="184" x2="484.28" y2="305.6" stroke="#dc9090" stroke-width="0.85" stroke-linecap="butt" />
<line x1="630.14" y1="184" x2="487.08" y2="305.6" stroke="#dc9090" stroke-width="0.85" stroke-linecap="butt" />
<line x1="632.94" y1="184" x2="489.88" y2="305.6" stroke="#dc9090" stroke-width="0.85" stroke-linecap="butt" />
<line x1="635.74" y1="184" x2="492.68" y2="305.6" stroke="#dc9090" stroke-width="0.85" stroke-linecap="butt" />
<line x1="638.54" y1="184" x2="495.48" y2="305.6" stroke="#dc9090" stroke-width="0.85" stroke-linecap="butt" />
<line x1="641.34" y1="184" x2="498.28" y2="305.6" stroke="#dc9090" stroke-width="0.85" stroke-linecap="butt" />
<line x1="644.14" y1="184" x2="501.08" y2="305.6" stroke="#dc9090" stroke-width="0.85" stroke-linecap="butt" />
</g>
<g clip-path="url(#c12)" >
<line x1="52.6" y1="353.7" x2="215" y2="353.7" stroke="#d2d2d2" stroke-width="1" stroke-linecap="butt" />
<line x1="52.6" y1="360.08" x2="215" y2="360.08" stroke="#d2d2d2" stroke-width="1" stroke-linecap="butt" />
<line x1="52.6" y1="366.46" x2="215" y2="366.46" stroke="#d2d2d2" stroke-width="1" stroke-linecap="butt" />
<line x1="52.6" y1="372.84" x2="215" y2="372.84" stroke="#d2d2d2" stroke-width="1" stroke-linecap="butt" />
<line x1="52.6" y1="379.22" x2="215" y2="379.22" stroke="#d2d2d2" stroke-width="1" stroke-linecap="butt" />
<line x1="52.6" y1="385.6" x2="215" y2="385.6" stroke="#d2d2d2" stroke-width="1" stroke-linecap="butt" />
<line x1="52.6" y1="391.98" x2="215" y2="391.98" stroke="#d2d2d2" stroke-width="1" stroke-linecap="butt" />
<line x1="52.6" y1="398.36" x2="215" y2="398.36" stroke="#d2d2d2" stroke-width="1" stroke-linecap="butt" />
<line x1="52.6" y1="404.74" x2="215" y2="404.74" stroke="#d2d2d2" stroke-width="1" stroke-linecap="butt" />
<line x1="52.6" y1="411.12" x2="215" y2="411.12" stroke="#d2d2d2" stroke-width="1" stroke-linecap="butt" />
<line x1="52.6" y1="417.5" x2="215" y2="417.5" stroke="#d2d2d2" stroke-width="1" stroke-linecap="butt" />
<line x1="52.6" y1="423.88" x2="215" y2="423.88" stroke="#d2d2d2" stroke-width="1" stroke-linecap="butt" />
<line x1="52.6" y1="430.26" x2="215" y2="430.26" stroke="#d2d2d2" stroke-width="1" stroke-linecap="butt" />
<line x1="52.6" y1="436.64" x2="215" y2="436.64" stroke="#d2d2d2" stroke-width="1" stroke-linecap="butt" />
<line x1="52.6" y1="443.02" x2="215" y2="443.02" stroke="#d2d2d2" stroke-width="1" stroke-linecap="butt" />
<line x1="52.6" y1="449.4" x2="215" y2="449.4" stroke="#d2d2d2" stroke-width="1" stroke-linecap="butt" />
</g>
<g clip-path="url(#c13)" >
<line x1="75.4" y1="352.2" x2="75.4" y2="472.2" stroke="#d2d2d2" stroke-width="1" stroke-linecap="butt" />
<line x1="81.72" y1="352.2" x2="81.72" y2="472.2" stroke="#d2d2d2" stroke-width="1" stroke-linecap="butt" />
<line x1="88.04" y1="352.2" x2="88.04" y2="472.2" stroke="#d2d2d2" stroke-width="1" stroke-linecap="butt" />
<line x1="94.36" y1="352.2" x2="94.36" y2="472.2" stroke="#d2d2d2" stroke-width="1" stroke-linecap="butt" />
<line x1="100.68" y1="352.2" x2="100.68" y2="472.2" stroke="#d2d2d2" stroke-width="1" stroke-linecap="butt" />
<line x1="107" y1="352.2" x2="107" y2="472.2" stroke="#d2d2d2" stroke-width="1" stroke-linecap="butt" />
<line x1="113.32" y1="352.2" x2="113.32" y2="472.2" stroke="#d2d2d2" stroke-width="1" stroke-linecap="butt" />
<line x1="119.64" y1="352.2" x2="119.64" y2="472.2" stroke="#d2d2d2" stroke-width="1" stroke-linecap="butt" />
<line x1="125.96" y1="352.2" x2="125.96" y2="472.2" stroke="#d2d2d2" stroke-width="1" stroke-linecap="butt" />
<line x1="132.28" y1="352.2" x2="132.28" y2="472.2" stroke="#d2d2d2" stroke-width="1" stroke-linecap="butt" />
<line x1="138.6" y1="352.2" x2="138.6" y2="472.2" stroke="#d2d2d2" stroke-width="1" stroke-linecap="butt" />
<line x1="144.92" y1="352.2" x2="144.92" y2="472.2" stroke="#d2d2d2" stroke-width="1" stroke-linecap="butt" />
<line x1="151.24" y1="352.2" x2="151.24" y2="472.2" stroke="#d2d2d2" stroke-width="1" stroke-linecap="butt" />
<line x1="157.56" y1="352.2" x2="157.56" y2="472.2" stroke="#d2d2d2" stroke-width="1" stroke-linecap="butt" />
<line x1="163.88" y1="352.2" x2="163.88" y2="472.2" stroke="#d2d2d2" stroke-width="1" stroke-linecap="butt" />
<line x1="170.2" y1="352.2" x2="170.2" y2="472.2" stroke="#d2d2d2" stroke-width="1" stroke-linecap="butt" />
<line x1="176.52" y1="352.2" x2="176.52" y2="472.2" stroke="#d2d2d2" stroke-width="1" stroke-linecap="butt" />
<line x1="182.84" y1="352.2" x2="182.84" y2="472.2" stroke="#d2d2d2" stroke-width="1" stroke-linecap="butt" />
<line x1="189.16" y1="352.2" x2="189.16" y2="472.2" stroke="#d2d2d2" stroke-width="1" stroke-linecap="butt" />
<line x1="195.48" y1="352.2" x2="195.48" y2="472.2" stroke="#d2d2d2" stroke-width="1" stroke-linecap="butt" />
<line x1="201.8" y1="352.2" x2="201.8" y2="472.2" stroke="#d2d2d2" stroke-width="1" stroke-linecap="butt" />
<line x1="208.12" y1="352.2" x2="208.12" y2="472.2" stroke="#d2d2d2" stroke-width="1" stroke-linecap="butt" />
<line x1="214.44" y1="352.2" x2="214.44" y2="472.2" stroke="#d2d2d2" stroke-width="1" stroke-linecap="butt" />
<line x1="220.76" y1="352.2" x2="220.76" y2="472.2" stroke="#d2d2d2" stroke-width="1" stroke-linecap="butt" />
<line x1="227.08" y1="352.2" x2="227.08" y2="472.2" stroke="#d2d2d2" stroke-width="1" stroke-linecap="butt" />
<line x1="233.4" y1="352.2" x2="233.4" y2="472.2" stroke="#d2d2d2" stroke-width="1" stroke-linecap="butt" />
</g>
<g clip-path="url(#c14)" >
<line x1="-10.4" y1="352.2" x2="48.7" y2="411.3" stroke="#c58ad0" stroke-width="1.15" stroke-linecap="butt" />
<line x1="-6.5" y1="352.2" x2="52.6" y2="411.3" stroke="#c58ad0" stroke-width="1.15" stroke-linecap="butt" />
<line x1="-2.6" y1="352.2" x2="56.5" y2="411.3" stroke="#c58ad0" stroke-width="1.15" stroke-linecap="butt" />
<line x1="1.3" y1="352.2" x2="60.4" y2="411.3" stroke="#c58ad0" stroke-width="1.15" stroke-linecap="butt" />
<line x1="5.2" y1="352.2" x2="64.3" y2="411.3" stroke="#c58ad0" stroke-width="1.15" stroke-linecap="butt" />
<line x1="9.1" y1="352.2" x2="68.2" y2="411.3" stroke="#c58ad0" stroke-width="1.15" stroke-linecap="butt" />
<line x1="13" y1="352.2" x2="72.1" y2="411.3" stroke="#c58ad0" stroke-width="1.15" stroke-linecap="butt" />
<line x1="16.9" y1="352.2" x2="76" y2="411.3" stroke="#c58ad0" stroke-width="1.15" stroke-linecap="butt" />
<line x1="20.8" y1="352.2" x2="79.9" y2="411.3" stroke="#c58ad0" stroke-width="1.15" stroke-linecap="butt" />
<line x1="24.7" y1="352.2" x2="83.8" y2="411.3" stroke="#c58ad0" stroke-width="1.15" stroke-linecap="butt" />
<line x1="28.6" y1="352.2" x2="87.7" y2="411.3" stroke="#c58ad0" stroke-width="1.15" stroke-linecap="butt" />
<line x1="32.5" y1="352.2" x2="91.6" y2="411.3" stroke="#c58ad0" stroke-width="1.15" stroke-linecap="butt" />
<line x1="36.4" y1="352.2" x2="95.5" y2="411.3" stroke="#c58ad0" stroke-width="1.15" stroke-linecap="butt" />
<line x1="40.3" y1="352.2" x2="99.4" y2="411.3" stroke="#c58ad0" stroke-width="1.15" stroke-linecap="butt" />
<line x1="44.2" y1="352.2" x2="103.3" y2="411.3" stroke="#c58ad0" stroke-width="1.15" stroke-linecap="butt" />
<line x1="48.1" y1="352.2" x2="107.2" y2="411.3" stroke="#c58ad0" stroke-width="1.15" stroke-linecap="butt" />
<line x1="52" y1="352.2" x2="111.1" y2="411.3" stroke="#c58ad0" stroke-width="1.15" stroke-linecap="butt" />
<line x1="55.9" y1="352.2" x2="115" y2="411.3" stroke="#c58ad0" stroke-width="1.15" stroke-linecap="butt" />
<line x1="59.8" y1="352.2" x2="118.9" y2="411.3" stroke="#c58ad0" stroke-width="1.15" stroke-linecap="butt" />
<line x1="63.7" y1="352.2" x2="122.8" y2="411.3" stroke="#c58ad0" stroke-width="1.15" stroke-linecap="butt" />
<line x1="67.6" y1="352.2" x2="126.7" y2="411.3" stroke="#c58ad0" stroke-width="1.15" stroke-linecap="butt" />
<line x1="71.5" y1="352.2" x2="130.6" y2="411.3" stroke="#c58ad0" stroke-width="1.15" stroke-linecap="butt" />
<line x1="75.4" y1="352.2" x2="134.5" y2="411.3" stroke="#c58ad0" stroke-width="1.15" stroke-linecap="butt" />
<line x1="79.3" y1="352.2" x2="138.4" y2="411.3" stroke="#c58ad0" stroke-width="1.15" stroke-linecap="butt" />
<line x1="83.2" y1="352.2" x2="142.3" y2="411.3" stroke="#c58ad0" stroke-width="1.15" stroke-linecap="butt" />
<line x1="87.1" y1="352.2" x2="146.2" y2="411.3" stroke="#c58ad0" stroke-width="1.15" stroke-linecap="butt" />
<line x1="91" y1="352.2" x2="150.1" y2="411.3" stroke="#c58ad0" stroke-width="1.15" stroke-linecap="butt" />
<line x1="94.9" y1="352.2" x2="154" y2="411.3" stroke="#c58ad0" stroke-width="1.15" stroke-linecap="butt" />
<line x1="98.8" y1="352.2" x2="157.9" y2="411.3" stroke="#c58ad0" stroke-width="1.15" stroke-linecap="butt" />
<line x1="102.7" y1="352.2" x2="161.8" y2="411.3" stroke="#c58ad0" stroke-width="1.15" stroke-linecap="butt" />
<line x1="106.6" y1="352.2" x2="165.7" y2="411.3" stroke="#c58ad0" stroke-width="1.15" stroke-linecap="butt" />
<line x1="110.5" y1="352.2" x2="169.6" y2="411.3" stroke="#c58ad0" stroke-width="1.15" stroke-linecap="butt" />
<line x1="114.4" y1="352.2" x2="173.5" y2="411.3" stroke="#c58ad0" stroke-width="1.15" stroke-linecap="butt" />
<line x1="118.3" y1="352.2" x2="177.4" y2="411.3" stroke="#c58ad0" stroke-width="1.15" stroke-linecap="butt" />
<line x1="122.2" y1="352.2" x2="181.3" y2="411.3" stroke="#c58ad0" stroke-width="1.15" stroke-linecap="butt" />
<line x1="126.1" y1="352.2" x2="185.2" y2="411.3" stroke="#c58ad0" stroke-width="1.15" stroke-linecap="butt" />
<line x1="130" y1="352.2" x2="189.1" y2="411.3" stroke="#c58ad0" stroke-width="1.15" stroke-linecap="butt" />
<line x1="133.9" y1="352.2" x2="193" y2="411.3" stroke="#c58ad0" stroke-width="1.15" stroke-linecap="butt" />
<line x1="137.8" y1="352.2" x2="196.9" y2="411.3" stroke="#c58ad0" stroke-width="1.15" stroke-linecap="butt" />
<line x1="141.7" y1="352.2" x2="200.8" y2="411.3" stroke="#c58ad0" stroke-width="1.15" stroke-linecap="butt" />
<line x1="145.6" y1="352.2" x2="204.7" y2="411.3" stroke="#c58ad0" stroke-width="1.15" stroke-linecap="butt" />
<line x1="149.5" y1="352.2" x2="208.6" y2="411.3" stroke="#c58ad0" stroke-width="1.15" stroke-linecap="butt" />
<line x1="153.4" y1="352.2" x2="212.5" y2="411.3" stroke="#c58ad0" stroke-width="1.15" stroke-linecap="butt" />
<line x1="157.3" y1="352.2" x2="216.4" y2="411.3" stroke="#c58ad0" stroke-width="1.15" stroke-linecap="butt" />
<line x1="161.2" y1="352.2" x2="220.3" y2="411.3" stroke="#c58ad0" stroke-width="1.15" stroke-linecap="butt" />
<line x1="165.1" y1="352.2" x2="224.2" y2="411.3" stroke="#c58ad0" stroke-width="1.15" stroke-linecap="butt" />
<line x1="169" y1="352.2" x2="228.1" y2="411.3" stroke="#c58ad0" stroke-width="1.15" stroke-linecap="butt" />
<line x1="172.9" y1="352.2" x2="232" y2="411.3" stroke="#c58ad0" stroke-width="1.15" stroke-linecap="butt" />
<line x1="176.8" y1="352.2" x2="235.9" y2="411.3" stroke="#c58ad0" stroke-width="1.15" stroke-linecap="butt" />
<line x1="180.7" y1="352.2" x2="239.8" y2="411.3" stroke="#c58ad0" stroke-width="1.15" stroke-linecap="butt" />
<line x1="184.6" y1="352.2" x2="243.7" y2="411.3" stroke="#c58ad0" stroke-width="1.15" stroke-linecap="butt" />
<line x1="188.5" y1="352.2" x2="247.6" y2="411.3" stroke="#c58ad0" stroke-width="1.15" stroke-linecap="butt" />
<line x1="192.4" y1="352.2" x2="251.5" y2="411.3" stroke="#c58ad0" stroke-width="1.15" stroke-linecap="butt" />
<line x1="196.3" y1="352.2" x2="255.4" y2="411.3" stroke="#c58ad0" stroke-width="1.15" stroke-linecap="butt" />
<line x1="200.2" y1="352.2" x2="259.3" y2="411.3" stroke="#c58ad0" stroke-width="1.15" stroke-linecap="butt" />
<line x1="204.1" y1="352.2" x2="263.2" y2="411.3" stroke="#c58ad0" stroke-width="1.15" stroke-linecap="butt" />
<line x1="208" y1="352.2" x2="267.1" y2="411.3" stroke="#c58ad0" stroke-width="1.15" stroke-linecap="butt" />
<line x1="211.9" y1="352.2" x2="271" y2="411.3" stroke="#c58ad0" stroke-width="1.15" stroke-linecap="butt" />
<line x1="215.8" y1="352.2" x2="274.9" y2="411.3" stroke="#c58ad0" stroke-width="1.15" stroke-linecap="butt" />
<line x1="219.7" y1="352.2" x2="278.8" y2="411.3" stroke="#c58ad0" stroke-width="1.15" stroke-linecap="butt" />
<line x1="223.6" y1="352.2" x2="282.7" y2="411.3" stroke="#c58ad0" stroke-width="1.15" stroke-linecap="butt" />
<line x1="227.5" y1="352.2" x2="286.6" y2="411.3" stroke="#c58ad0" stroke-width="1.15" stroke-linecap="butt" />
<line x1="231.4" y1="352.2" x2="290.5" y2="411.3" stroke="#c58ad0" stroke-width="1.15" stroke-linecap="butt" />
<line x1="235.3" y1="352.2" x2="294.4" y2="411.3" stroke="#c58ad0" stroke-width="1.15" stroke-linecap="butt" />
<line x1="239.2" y1="352.2" x2="298.3" y2="411.3" stroke="#c58ad0" stroke-width="1.15" stroke-linecap="butt" />
<line x1="243.1" y1="352.2" x2="302.2" y2="411.3" stroke="#c58ad0" stroke-width="1.15" stroke-linecap="butt" />
<line x1="247" y1="352.2" x2="306.1" y2="411.3" stroke="#c58ad0" stroke-width="1.15" stroke-linecap="butt" />
<line x1="250.9" y1="352.2" x2="310" y2="411.3" stroke="#c58ad0" stroke-width="1.15" stroke-linecap="butt" />
<line x1="254.8" y1="352.2" x2="313.9" y2="411.3" stroke="#c58ad0" stroke-width="1.15" stroke-linecap="butt" />
<line x1="258.7" y1="352.2" x2="317.8" y2="411.3" stroke="#c58ad0" stroke-width="1.15" stroke-linecap="butt" />
<line x1="262.6" y1="352.2" x2="321.7" y2="411.3" stroke="#c58ad0" stroke-width="1.15" stroke-linecap="butt" />
<line x1="266.5" y1="352.2" x2="325.6" y2="411.3" stroke="#c58ad0" stroke-width="1.15" stroke-linecap="butt" />
<line x1="270.4" y1="352.2" x2="329.5" y2="411.3" stroke="#c58ad0" stroke-width="1.15" stroke-linecap="butt" />
<line x1="274.3" y1="352.2" x2="333.4" y2="411.3" stroke="#c58ad0" stroke-width="1.15" stroke-linecap="butt" />
<line x1="278.2" y1="352.2" x2="337.3" y2="411.3" stroke="#c58ad0" stroke-width="1.15" stroke-linecap="butt" />
<line x1="282.1" y1="352.2" x2="341.2" y2="411.3" stroke="#c58ad0" stroke-width="1.15" stroke-linecap="butt" />
<line x1="286" y1="352.2" x2="345.1" y2="411.3" stroke="#c58ad0" stroke-width="1.15" stroke-linecap="butt" />
<line x1="289.9" y1="352.2" x2="349" y2="411.3" stroke="#c58ad0" stroke-width="1.15" stroke-linecap="butt" />
<line x1="293.8" y1="352.2" x2="352.9" y2="411.3" stroke="#c58ad0" stroke-width="1.15" stroke-linecap="butt" />
<line x1="297.7" y1="352.2" x2="356.8" y2="411.3" stroke="#c58ad0" stroke-width="1.15" stroke-linecap="butt" />
<line x1="301.6" y1="352.2" x2="360.7" y2="411.3" stroke="#c58ad0" stroke-width="1.15" stroke-linecap="butt" />
<line x1="305.5" y1="352.2" x2="364.6" y2="411.3" stroke="#c58ad0" stroke-width="1.15" stroke-linecap="butt" />
<line x1="309.4" y1="352.2" x2="368.5" y2="411.3" stroke="#c58ad0" stroke-width="1.15" stroke-linecap="butt" />
<line x1="313.3" y1="352.2" x2="372.4" y2="411.3" stroke="#c58ad0" stroke-width="1.15" stroke-linecap="butt" />
<line x1="317.2" y1="352.2" x2="376.3" y2="411.3" stroke="#c58ad0" stroke-width="1.15" stroke-linecap="butt" />
<line x1="321.1" y1="352.2" x2="380.2" y2="411.3" stroke="#c58ad0" stroke-width="1.15" stroke-linecap="butt" />
<line x1="325" y1="352.2" x2="384.1" y2="411.3" stroke="#c58ad0" stroke-width="1.15" stroke-linecap="butt" />
<line x1="328.9" y1="352.2" x2="388" y2="411.3" stroke="#c58ad0" stroke-width="1.15" stroke-linecap="butt" />
<line x1="332.8" y1="352.2" x2="391.9" y2="411.3" stroke="#c58ad0" stroke-width="1.15" stroke-linecap="butt" />
<line x1="336.7" y1="352.2" x2="395.8" y2="411.3" stroke="#c58ad0" stroke-width="1.15" stroke-linecap="butt" />
<line x1="340.6" y1="352.2" x2="399.7" y2="411.3" stroke="#c58ad0" stroke-width="1.15" stroke-linecap="butt" />
<line x1="344.5" y1="352.2" x2="403.6" y2="411.3" stroke="#c58ad0" stroke-width="1.15" stroke-linecap="butt" />
<line x1="348.4" y1="352.2" x2="407.5" y2="411.3" stroke="#c58ad0" stroke-width="1.15" stroke-linecap="butt" />
<line x1="352.3" y1="352.2" x2="411.4" y2="411.3" stroke="#c58ad0" stroke-width="1.15" stroke-linecap="butt" />
<line x1="356.2" y1="352.2" x2="415.3" y2="411.3" stroke="#c58ad0" stroke-width="1.15" stroke-linecap="butt" />
</g>
<g clip-path="url(#c15)" >
<line x1="-71.3" y1="352.2" x2="-191.3" y2="472.2" stroke="#e07a7a" stroke-width="1" stroke-linecap="butt" />
<line x1="-67.4" y1="352.2" x2="-187.4" y2="472.2" stroke="#e07a7a" stroke-width="1" stroke-linecap="butt" />
<line x1="-63.5" y1="352.2" x2="-183.5" y2="472.2" stroke="#e07a7a" stroke-width="1" stroke-linecap="butt" />
<line x1="-59.6" y1="352.2" x2="-179.6" y2="472.2" stroke="#e07a7a" stroke-width="1" stroke-linecap="butt" />
<line x1="-55.7" y1="352.2" x2="-175.7" y2="472.2" stroke="#e07a7a" stroke-width="1" stroke-linecap="butt" />
<line x1="-51.8" y1="352.2" x2="-171.8" y2="472.2" stroke="#e07a7a" stroke-width="1" stroke-linecap="butt" />
<line x1="-47.9" y1="352.2" x2="-167.9" y2="472.2" stroke="#e07a7a" stroke-width="1" stroke-linecap="butt" />
<line x1="-44" y1="352.2" x2="-164" y2="472.2" stroke="#e07a7a" stroke-width="1" stroke-linecap="butt" />
<line x1="-40.1" y1="352.2" x2="-160.1" y2="472.2" stroke="#e07a7a" stroke-width="1" stroke-linecap="butt" />
<line x1="-36.2" y1="352.2" x2="-156.2" y2="472.2" stroke="#e07a7a" stroke-width="1" stroke-linecap="butt" />
<line x1="-32.3" y1="352.2" x2="-152.3" y2="472.2" stroke="#e07a7a" stroke-width="1" stroke-linecap="butt" />
<line x1="-28.4" y1="352.2" x2="-148.4" y2="472.2" stroke="#e07a7a" stroke-width="1" stroke-linecap="butt" />
<line x1="-24.5" y1="352.2" x2="-144.5" y2="472.2" stroke="#e07a7a" stroke-width="1" stroke-linecap="butt" />
<line x1="-20.6" y1="352.2" x2="-140.6" y2="472.2" stroke="#e07a7a" stroke-width="1" stroke-linecap="butt" />
<line x1="-16.7" y1="352.2" x2="-136.7" y2="472.2" stroke="#e07a7a" stroke-width="1" stroke-linecap="butt" />
<line x1="-12.8" y1="352.2" x2="-132.8" y2="472.2" stroke="#e07a7a" stroke-width="1" stroke-linecap="butt" />
<line x1="-8.9" y1="352.2" x2="-128.9" y2="472.2" stroke="#e07a7a" stroke-width="1" stroke-linecap="butt" />
<line x1="-5" y1="352.2" x2="-125" y2="472.2" stroke="#e07a7a" stroke-width="1" stroke-linecap="butt" />
<line x1="-1.1" y1="352.2" x2="-121.1" y2="472.2" stroke="#e07a7a" stroke-width="1" stroke-linecap="butt" />
<line x1="2.8" y1="352.2" x2="-117.2" y2="472.2" stroke="#e07a7a" stroke-width="1" stroke-linecap="butt" />
<line x1="6.7" y1="352.2" x2="-113.3" y2="472.2" stroke="#e07a7a" stroke-width="1" stroke-linecap="butt" />
<line x1="10.6" y1="352.2" x2="-109.4" y2="472.2" stroke="#e07a7a" stroke-width="1" stroke-linecap="butt" />
<line x1="14.5" y1="352.2" x2="-105.5" y2="472.2" stroke="#e07a7a" stroke-width="1" stroke-linecap="butt" />
<line x1="18.4" y1="352.2" x2="-101.6" y2="472.2" stroke="#e07a7a" stroke-width="1" stroke-linecap="butt" />
<line x1="22.3" y1="352.2" x2="-97.7" y2="472.2" stroke="#e07a7a" stroke-width="1" stroke-linecap="butt" />
<line x1="26.2" y1="352.2" x2="-93.8" y2="472.2" stroke="#e07a7a" stroke-width="1" stroke-linecap="butt" />
<line x1="30.1" y1="352.2" x2="-89.9" y2="472.2" stroke="#e07a7a" stroke-width="1" stroke-linecap="butt" />
<line x1="34" y1="352.2" x2="-86" y2="472.2" stroke="#e07a7a" stroke-width="1" stroke-linecap="butt" />
<line x1="37.9" y1="352.2" x2="-82.1" y2="472.2" stroke="#e07a7a" stroke-width="1" stroke-linecap="butt" />
<line x1="41.8" y1="352.2" x2="-78.2" y2="472.2" stroke="#e07a7a" stroke-width="1" stroke-linecap="butt" />
<line x1="45.7" y1="352.2" x2="-74.3" y2="472.2" stroke="#e07a7a" stroke-width="1" stroke-linecap="butt" />
<line x1="49.6" y1="352.2" x2="-70.4" y2="472.2" stroke="#e07a7a" stroke-width="1" stroke-linecap="butt" />
<line x1="53.5" y1="352.2" x2="-66.5" y2="472.2" stroke="#e07a7a" stroke-width="1" stroke-linecap="butt" />
<line x1="57.4" y1="352.2" x2="-62.6" y2="472.2" stroke="#e07a7a" stroke-width="1" stroke-linecap="butt" />
<line x1="61.3" y1="352.2" x2="-58.7" y2="472.2" stroke="#e07a7a" stroke-width="1" stroke-linecap="butt" />
<line x1="65.2" y1="352.2" x2="-54.8" y2="472.2" stroke="#e07a7a" stroke-width="1" stroke-linecap="butt" />
<line x1="69.1" y1="352.2" x2="-50.9" y2="472.2" stroke="#e07a7a" stroke-width="1" stroke-linecap="butt" />
<line x1="73" y1="352.2" x2="-47" y2="472.2" stroke="#e07a7a" stroke-width="1" stroke-linecap="butt" />
<line x1="76.9" y1="352.2" x2="-43.1" y2="472.2" stroke="#e07a7a" stroke-width="1" stroke-linecap="butt" />
<line x1="80.8" y1="352.2" x2="-39.2" y2="472.2" stroke="#e07a7a" stroke-width="1" stroke-linecap="butt" />
<line x1="84.7" y1="352.2" x2="-35.3" y2="472.2" stroke="#e07a7a" stroke-width="1" stroke-linecap="butt" />
<line x1="88.6" y1="352.2" x2="-31.4" y2="472.2" stroke="#e07a7a" stroke-width="1" stroke-linecap="butt" />
<line x1="92.5" y1="352.2" x2="-27.5" y2="472.2" stroke="#e07a7a" stroke-width="1" stroke-linecap="butt" />
<line x1="96.4" y1="352.2" x2="-23.6" y2="472.2" stroke="#e07a7a" stroke-width="1" stroke-linecap="butt" />
<line x1="100.3" y1="352.2" x2="-19.7" y2="472.2" stroke="#e07a7a" stroke-width="1" stroke-linecap="butt" />
<line x1="104.2" y1="352.2" x2="-15.8" y2="472.2" stroke="#e07a7a" stroke-width="1" stroke-linecap="butt" />
<line x1="108.1" y1="352.2" x2="-11.9" y2="472.2" stroke="#e07a7a" stroke-width="1" stroke-linecap="butt" />
<line x1="112" y1="352.2" x2="-8" y2="472.2" stroke="#e07a7a" stroke-width="1" stroke-linecap="butt" />
<line x1="115.9" y1="352.2" x2="-4.1" y2="472.2" stroke="#e07a7a" stroke-width="1" stroke-linecap="butt" />
<line x1="119.8" y1="352.2" x2="-0.2" y2="472.2" stroke="#e07a7a" stroke-width="1" stroke-linecap="butt" />
<line x1="123.7" y1="352.2" x2="3.7" y2="472.2" stroke="#e07a7a" stroke-width="1" stroke-linecap="butt" />
<line x1="127.6" y1="352.2" x2="7.6" y2="472.2" stroke="#e07a7a" stroke-width="1" stroke-linecap="butt" />
<line x1="131.5" y1="352.2" x2="11.5" y2="472.2" stroke="#e07a7a" stroke-width="1" stroke-linecap="butt" />
<line x1="135.4" y1="352.2" x2="15.4" y2="472.2" stroke="#e07a7a" stroke-width="1" stroke-linecap="butt" />
<line x1="139.3" y1="352.2" x2="19.3" y2="472.2" stroke="#e07a7a" stroke-width="1" stroke-linecap="butt" />
<line x1="143.2" y1="352.2" x2="23.2" y2="472.2" stroke="#e07a7a" stroke-width="1" stroke-linecap="butt" />
<line x1="147.1" y1="352.2" x2="27.1" y2="472.2" stroke="#e07a7a" stroke-width="1" stroke-linecap="butt" />
<line x1="151" y1="352.2" x2="31" y2="472.2" stroke="#e07a7a" stroke-width="1" stroke-linecap="butt" />
<line x1="154.9" y1="352.2" x2="34.9" y2="472.2" stroke="#e07a7a" stroke-width="1" stroke-linecap="butt" />
<line x1="158.8" y1="352.2" x2="38.8" y2="472.2" stroke="#e07a7a" stroke-width="1" stroke-linecap="butt" />
<line x1="162.7" y1="352.2" x2="42.7" y2="472.2" stroke="#e07a7a" stroke-width="1" stroke-linecap="butt" />
<line x1="166.6" y1="352.2" x2="46.6" y2="472.2" stroke="#e07a7a" stroke-width="1" stroke-linecap="butt" />
<line x1="170.5" y1="352.2" x2="50.5" y2="472.2" stroke="#e07a7a" stroke-width="1" stroke-linecap="butt" />
<line x1="174.4" y1="352.2" x2="54.4" y2="472.2" stroke="#e07a7a" stroke-width="1" stroke-linecap="butt" />
<line x1="178.3" y1="352.2" x2="58.3" y2="472.2" stroke="#e07a7a" stroke-width="1" stroke-linecap="butt" />
<line x1="182.2" y1="352.2" x2="62.2" y2="472.2" stroke="#e07a7a" stroke-width="1" stroke-linecap="butt" />
<line x1="186.1" y1="352.2" x2="66.1" y2="472.2" stroke="#e07a7a" stroke-width="1" stroke-linecap="butt" />
<line x1="190" y1="352.2" x2="70" y2="472.2" stroke="#e07a7a" stroke-width="1" stroke-linecap="butt" />
<line x1="193.9" y1="352.2" x2="73.9" y2="472.2" stroke="#e07a7a" stroke-width="1" stroke-linecap="butt" />
<line x1="197.8" y1="352.2" x2="77.8" y2="472.2" stroke="#e07a7a" stroke-width="1" stroke-linecap="butt" />
<line x1="201.7" y1="352.2" x2="81.7" y2="472.2" stroke="#e07a7a" stroke-width="1" stroke-linecap="butt" />
<line x1="205.6" y1="352.2" x2="85.6" y2="472.2" stroke="#e07a7a" stroke-width="1" stroke-linecap="butt" />
<line x1="209.5" y1="352.2" x2="89.5" y2="472.2" stroke="#e07a7a" stroke-width="1" stroke-linecap="butt" />
<line x1="213.4" y1="352.2" x2="93.4" y2="472.2" stroke="#e07a7a" stroke-width="1" stroke-linecap="butt" />
<line x1="217.3" y1="352.2" x2="97.3" y2="472.2" stroke="#e07a7a" stroke-width="1" stroke-linecap="butt" />
<line x1="221.2" y1="352.2" x2="101.2" y2="472.2" stroke="#e07a7a" stroke-width="1" stroke-linecap="butt" />
<line x1="225.1" y1="352.2" x2="105.1" y2="472.2" stroke="#e07a7a" stroke-width="1" stroke-linecap="butt" />
<line x1="229" y1="352.2" x2="109" y2="472.2" stroke="#e07a7a" stroke-width="1" stroke-linecap="butt" />
<line x1="232.9" y1="352.2" x2="112.9" y2="472.2" stroke="#e07a7a" stroke-width="1" stroke-linecap="butt" />
<line x1="236.8" y1="352.2" x2="116.8" y2="472.2" stroke="#e07a7a" stroke-width="1" stroke-linecap="butt" />
<line x1="240.7" y1="352.2" x2="120.7" y2="472.2" stroke="#e07a7a" stroke-width="1" stroke-linecap="butt" />
<line x1="244.6" y1="352.2" x2="124.6" y2="472.2" stroke="#e07a7a" stroke-width="1" stroke-linecap="butt" />
<line x1="248.5" y1="352.2" x2="128.5" y2="472.2" stroke="#e07a7a" stroke-width="1" stroke-linecap="butt" />
<line x1="252.4" y1="352.2" x2="132.4" y2="472.2" stroke="#e07a7a" stroke-width="1" stroke-linecap="butt" />
<line x1="256.3" y1="352.2" x2="136.3" y2="472.2" stroke="#e07a7a" stroke-width="1" stroke-linecap="butt" />
<line x1="260.2" y1="352.2" x2="140.2" y2="472.2" stroke="#e07a7a" stroke-width="1" stroke-linecap="butt" />
<line x1="264.1" y1="352.2" x2="144.1" y2="472.2" stroke="#e07a7a" stroke-width="1" stroke-linecap="butt" />
<line x1="268" y1="352.2" x2="148" y2="472.2" stroke="#e07a7a" stroke-width="1" stroke-linecap="butt" />
<line x1="271.9" y1="352.2" x2="151.9" y2="472.2" stroke="#e07a7a" stroke-width="1" stroke-linecap="butt" />
<line x1="275.8" y1="352.2" x2="155.8" y2="472.2" stroke="#e07a7a" stroke-width="1" stroke-linecap="butt" />
<line x1="279.7" y1="352.2" x2="159.7" y2="472.2" stroke="#e07a7a" stroke-width="1" stroke-linecap="butt" />
<line x1="283.6" y1="352.2" x2="163.6" y2="472.2" stroke="#e07a7a" stroke-width="1" stroke-linecap="butt" />
<line x1="287.5" y1="352.2" x2="167.5" y2="472.2" stroke="#e07a7a" stroke-width="1" stroke-linecap="butt" />
<line x1="291.4" y1="352.2" x2="171.4" y2="472.2" stroke="#e07a7a" stroke-width="1" stroke-linecap="butt" />
<line x1="295.3" y1="352.2" x2="175.3" y2="472.2" stroke="#e07a7a" stroke-width="1" stroke-linecap="butt" />
<line x1="299.2" y1="352.2" x2="179.2" y2="472.2" stroke="#e07a7a" stroke-width="1" stroke-linecap="butt" />
<line x1="303.1" y1="352.2" x2="183.1" y2="472.2" stroke="#e07a7a" stroke-width="1" stroke-linecap="butt" />
<line x1="307" y1="352.2" x2="187" y2="472.2" stroke="#e07a7a" stroke-width="1" stroke-linecap="butt" />
<line x1="310.9" y1="352.2" x2="190.9" y2="472.2" stroke="#e07a7a" stroke-width="1" stroke-linecap="butt" />
<line x1="314.8" y1="352.2" x2="194.8" y2="472.2" stroke="#e07a7a" stroke-width="1" stroke-linecap="butt" />
<line x1="318.7" y1="352.2" x2="198.7" y2="472.2" stroke="#e07a7a" stroke-width="1" stroke-linecap="butt" />
<line x1="322.6" y1="352.2" x2="202.6" y2="472.2" stroke="#e07a7a" stroke-width="1" stroke-linecap="butt" />
<line x1="326.5" y1="352.2" x2="206.5" y2="472.2" stroke="#e07a7a" stroke-width="1" stroke-linecap="butt" />
<line x1="330.4" y1="352.2" x2="210.4" y2="472.2" stroke="#e07a7a" stroke-width="1" stroke-linecap="butt" />
<line x1="334.3" y1="352.2" x2="214.3" y2="472.2" stroke="#e07a7a" stroke-width="1" stroke-linecap="butt" />
<line x1="338.2" y1="352.2" x2="218.2" y2="472.2" stroke="#e07a7a" stroke-width="1" stroke-linecap="butt" />
<line x1="342.1" y1="352.2" x2="222.1" y2="472.2" stroke="#e07a7a" stroke-width="1" stroke-linecap="butt" />
<line x1="346" y1="352.2" x2="226" y2="472.2" stroke="#e07a7a" stroke-width="1" stroke-linecap="butt" />
<line x1="349.9" y1="352.2" x2="229.9" y2="472.2" stroke="#e07a7a" stroke-width="1" stroke-linecap="butt" />
<line x1="353.8" y1="352.2" x2="233.8" y2="472.2" stroke="#e07a7a" stroke-width="1" stroke-linecap="butt" />
<line x1="357.7" y1="352.2" x2="237.7" y2="472.2" stroke="#e07a7a" stroke-width="1" stroke-linecap="butt" />
<line x1="361.6" y1="352.2" x2="241.6" y2="472.2" stroke="#e07a7a" stroke-width="1" stroke-linecap="butt" />
<line x1="365.5" y1="352.2" x2="245.5" y2="472.2" stroke="#e07a7a" stroke-width="1" stroke-linecap="butt" />
</g>
<g clip-path="url(#c17)" >
<line x1="316.4" y1="363.5" x2="497.3" y2="363.5" stroke="#d2d2d2" stroke-width="1" stroke-linecap="butt" />
<line x1="316.4" y1="369.8" x2="497.3" y2="369.8" stroke="#d2d2d2" stroke-width="1" stroke-linecap="butt" />
<line x1="316.4" y1="376.1" x2="497.3" y2="376.1" stroke="#d2d2d2" stroke-width="1" stroke-linecap="butt" />
<line x1="316.4" y1="382.4" x2="497.3" y2="382.4" stroke="#d2d2d2" stroke-width="1" stroke-linecap="butt" />
<line x1="316.4" y1="388.7" x2="497.3" y2="388.7" stroke="#d2d2d2" stroke-width="1" stroke-linecap="butt" />
<line x1="316.4" y1="395" x2="497.3" y2="395" stroke="#d2d2d2" stroke-width="1" stroke-linecap="butt" />
<line x1="316.4" y1="401.3" x2="497.3" y2="401.3" stroke="#d2d2d2" stroke-width="1" stroke-linecap="butt" />
<line x1="316.4" y1="407.6" x2="497.3" y2="407.6" stroke="#d2d2d2" stroke-width="1" stroke-linecap="butt" />
<line x1="316.4" y1="413.9" x2="497.3" y2="413.9" stroke="#d2d2d2" stroke-width="1" stroke-linecap="butt" />
<line x1="316.4" y1="420.2" x2="497.3" y2="420.2" stroke="#d2d2d2" stroke-width="1" stroke-linecap="butt" />
<line x1="316.4" y1="426.5" x2="497.3" y2="426.5" stroke="#d2d2d2" stroke-width="1" stroke-linecap="butt" />
<line x1="316.4" y1="432.8" x2="497.3" y2="432.8" stroke="#d2d2d2" stroke-width="1" stroke-linecap="butt" />
<line x1="316.4" y1="439.1" x2="497.3" y2="439.1" stroke="#d2d2d2" stroke-width="1" stroke-linecap="butt" />
<line x1="316.4" y1="445.4" x2="497.3" y2="445.4" stroke="#d2d2d2" stroke-width="1" stroke-linecap="butt" />
<line x1="316.4" y1="451.7" x2="497.3" y2="451.7" stroke="#d2d2d2" stroke-width="1" stroke-linecap="butt" />
<line x1="316.4" y1="458" x2="497.3" y2="458" stroke="#d2d2d2" stroke-width="1" stroke-linecap="butt" />
<line x1="316.4" y1="464.3" x2="497.3" y2="464.3" stroke="#d2d2d2" stroke-width="1" stroke-linecap="butt" />
<line x1="316.4" y1="470.6" x2="497.3" y2="470.6" stroke="#d2d2d2" stroke-width="1" stroke-linecap="butt" />
<line x1="316.4" y1="476.9" x2="497.3" y2="476.9" stroke="#d2d2d2" stroke-width="1" stroke-linecap="butt" />
<line x1="316.4" y1="483.2" x2="497.3" y2="483.2" stroke="#d2d2d2" stroke-width="1" stroke-linecap="butt" />
</g>
<g clip-path="url(#c18)" >
<line x1="317.26" y1="361" x2="317.26" y2="481.8" stroke="#d2d2d2" stroke-width="1" stroke-linecap="butt" />
<line x1="323.69" y1="361" x2="323.69" y2="481.8" stroke="#d2d2d2" stroke-width="1" stroke-linecap="butt" />
<line x1="330.12" y1="361" x2="330.12" y2="481.8" stroke="#d2d2d2" stroke-width="1" stroke-linecap="butt" />
<line x1="336.55" y1="361" x2="336.55" y2="481.8" stroke="#d2d2d2" stroke-width="1" stroke-linecap="butt" />
<line x1="342.98" y1="361" x2="342.98" y2="481.8" stroke="#d2d2d2" stroke-width="1" stroke-linecap="butt" />
<line x1="349.41" y1="361" x2="349.41" y2="481.8" stroke="#d2d2d2" stroke-width="1" stroke-linecap="butt" />
<line x1="355.84" y1="361" x2="355.84" y2="481.8" stroke="#d2d2d2" stroke-width="1" stroke-linecap="butt" />
<line x1="362.27" y1="361" x2="362.27" y2="481.8" stroke="#d2d2d2" stroke-width="1" stroke-linecap="butt" />
<line x1="368.7" y1="361" x2="368.7" y2="481.8" stroke="#d2d2d2" stroke-width="1" stroke-linecap="butt" />
<line x1="375.13" y1="361" x2="375.13" y2="481.8" stroke="#d2d2d2" stroke-width="1" stroke-linecap="butt" />
<line x1="381.56" y1="361" x2="381.56" y2="481.8" stroke="#d2d2d2" stroke-width="1" stroke-linecap="butt" />
<line x1="387.99" y1="361" x2="387.99" y2="481.8" stroke="#d2d2d2" stroke-width="1" stroke-linecap="butt" />
<line x1="394.42" y1="361" x2="394.42" y2="481.8" stroke="#d2d2d2" stroke-width="1" stroke-linecap="butt" />
<line x1="400.85" y1="361" x2="400.85" y2="481.8" stroke="#d2d2d2" stroke-width="1" stroke-linecap="butt" />
<line x1="407.28" y1="361" x2="407.28" y2="481.8" stroke="#d2d2d2" stroke-width="1" stroke-linecap="butt" />
<line x1="413.71" y1="361" x2="413.71" y2="481.8" stroke="#d2d2d2" stroke-width="1" stroke-linecap="butt" />
<line x1="420.14" y1="361" x2="420.14" y2="481.8" stroke="#d2d2d2" stroke-width="1" stroke-linecap="butt" />
<line x1="426.57" y1="361" x2="426.57" y2="481.8" stroke="#d2d2d2" stroke-width="1" stroke-linecap="butt" />
<line x1="433" y1="361" x2="433" y2="481.8" stroke="#d2d2d2" stroke-width="1" stroke-linecap="butt" />
<line x1="439.43" y1="361" x2="439.43" y2="481.8" stroke="#d2d2d2" stroke-width="1" stroke-linecap="butt" />
<line x1="445.86" y1="361" x2="445.86" y2="481.8" stroke="#d2d2d2" stroke-width="1" stroke-linecap="butt" />
<line x1="452.29" y1="361" x2="452.29" y2="481.8" stroke="#d2d2d2" stroke-width="1" stroke-linecap="butt" />
<line x1="458.72" y1="361" x2="458.72" y2="481.8" stroke="#d2d2d2" stroke-width="1" stroke-linecap="butt" />
<line x1="465.15" y1="361" x2="465.15" y2="481.8" stroke="#d2d2d2" stroke-width="1" stroke-linecap="butt" />
<line x1="471.58" y1="361" x2="471.58" y2="481.8" stroke="#d2d2d2" stroke-width="1" stroke-linecap="butt" />
<line x1="478.01" y1="361" x2="478.01" y2="481.8" stroke="#d2d2d2" stroke-width="1" stroke-linecap="butt" />
<line x1="484.44" y1="361" x2="484.44" y2="481.8" stroke="#d2d2d2" stroke-width="1" stroke-linecap="butt" />
<line x1="490.87" y1="361" x2="490.87" y2="481.8" stroke="#d2d2d2" stroke-width="1" stroke-linecap="butt" />
<line x1="497.3" y1="361" x2="497.3" y2="481.8" stroke="#d2d2d2" stroke-width="1" stroke-linecap="butt" />
</g>
<g clip-path="url(#c19)" >
<line x1="52.7" y1="532.4" x2="233.4" y2="532.4" stroke="#d2d2d2" stroke-width="1" stroke-linecap="butt" />
<line x1="52.7" y1="538.6" x2="233.4" y2="538.6" stroke="#d2d2d2" stroke-width="1" stroke-linecap="butt" />
<line x1="52.7" y1="544.8" x2="233.4" y2="544.8" stroke="#d2d2d2" stroke-width="1" stroke-linecap="butt" />
<line x1="52.7" y1="551" x2="233.4" y2="551" stroke="#d2d2d2" stroke-width="1" stroke-linecap="butt" />
<line x1="52.7" y1="557.2" x2="233.4" y2="557.2" stroke="#d2d2d2" stroke-width="1" stroke-linecap="butt" />
<line x1="52.7" y1="563.4" x2="233.4" y2="563.4" stroke="#d2d2d2" stroke-width="1" stroke-linecap="butt" />
<line x1="52.7" y1="569.6" x2="233.4" y2="569.6" stroke="#d2d2d2" stroke-width="1" stroke-linecap="butt" />
<line x1="52.7" y1="575.8" x2="233.4" y2="575.8" stroke="#d2d2d2" stroke-width="1" stroke-linecap="butt" />
<line x1="52.7" y1="582" x2="233.4" y2="582" stroke="#d2d2d2" stroke-width="1" stroke-linecap="butt" />
<line x1="52.7" y1="588.2" x2="233.4" y2="588.2" stroke="#d2d2d2" stroke-width="1" stroke-linecap="butt" />
<line x1="52.7" y1="594.4" x2="233.4" y2="594.4" stroke="#d2d2d2" stroke-width="1" stroke-linecap="butt" />
<line x1="52.7" y1="600.6" x2="233.4" y2="600.6" stroke="#d2d2d2" stroke-width="1" stroke-linecap="butt" />
<line x1="52.7" y1="606.8" x2="233.4" y2="606.8" stroke="#d2d2d2" stroke-width="1" stroke-linecap="butt" />
<line x1="52.7" y1="613" x2="233.4" y2="613" stroke="#d2d2d2" stroke-width="1" stroke-linecap="butt" />
<line x1="52.7" y1="619.2" x2="233.4" y2="619.2" stroke="#d2d2d2" stroke-width="1" stroke-linecap="butt" />
<line x1="52.7" y1="625.4" x2="233.4" y2="625.4" stroke="#d2d2d2" stroke-width="1" stroke-linecap="butt" />
<line x1="52.7" y1="631.6" x2="233.4" y2="631.6" stroke="#d2d2d2" stroke-width="1" stroke-linecap="butt" />
<line x1="52.7" y1="637.8" x2="233.4" y2="637.8" stroke="#d2d2d2" stroke-width="1" stroke-linecap="butt" />
<line x1="52.7" y1="644" x2="233.4" y2="644" stroke="#d2d2d2" stroke-width="1" stroke-linecap="butt" />
<line x1="52.7" y1="650.2" x2="233.4" y2="650.2" stroke="#d2d2d2" stroke-width="1" stroke-linecap="butt" />
</g>
<g clip-path="url(#c20)" >
<line x1="55.6" y1="531.4" x2="55.6" y2="649.5" stroke="#d2d2d2" stroke-width="1" stroke-linecap="butt" />
<line x1="61.95" y1="531.4" x2="61.95" y2="649.5" stroke="#d2d2d2" stroke-width="1" stroke-linecap="butt" />
<line x1="68.3" y1="531.4" x2="68.3" y2="649.5" stroke="#d2d2d2" stroke-width="1" stroke-linecap="butt" />
<line x1="74.65" y1="531.4" x2="74.65" y2="649.5" stroke="#d2d2d2" stroke-width="1" stroke-linecap="butt" />
<line x1="81" y1="531.4" x2="81" y2="649.5" stroke="#d2d2d2" stroke-width="1" stroke-linecap="butt" />
<line x1="87.35" y1="531.4" x2="87.35" y2="649.5" stroke="#d2d2d2" stroke-width="1" stroke-linecap="butt" />
<line x1="93.7" y1="531.4" x2="93.7" y2="649.5" stroke="#d2d2d2" stroke-width="1" stroke-linecap="butt" />
<line x1="100.05" y1="531.4" x2="100.05" y2="649.5" stroke="#d2d2d2" stroke-width="1" stroke-linecap="butt" />
<line x1="106.4" y1="531.4" x2="106.4" y2="649.5" stroke="#d2d2d2" stroke-width="1" stroke-linecap="butt" />
<line x1="112.75" y1="531.4" x2="112.75" y2="649.5" stroke="#d2d2d2" stroke-width="1" stroke-linecap="butt" />
<line x1="119.1" y1="531.4" x2="119.1" y2="649.5" stroke="#d2d2d2" stroke-width="1" stroke-linecap="butt" />
<line x1="125.45" y1="531.4" x2="125.45" y2="649.5" stroke="#d2d2d2" stroke-width="1" stroke-linecap="butt" />
<line x1="131.8" y1="531.4" x2="131.8" y2="649.5" stroke="#d2d2d2" stroke-width="1" stroke-linecap="butt" />
<line x1="138.15" y1="531.4" x2="138.15" y2="649.5" stroke="#d2d2d2" stroke-width="1" stroke-linecap="butt" />
<line x1="144.5" y1="531.4" x2="144.5" y2="649.5" stroke="#d2d2d2" stroke-width="1" stroke-linecap="butt" />
<line x1="150.85" y1="531.4" x2="150.85" y2="649.5" stroke="#d2d2d2" stroke-width="1" stroke-linecap="butt" />
<line x1="157.2" y1="531.4" x2="157.2" y2="649.5" stroke="#d2d2d2" stroke-width="1" stroke-linecap="butt" />
<line x1="163.55" y1="531.4" x2="163.55" y2="649.5" stroke="#d2d2d2" stroke-width="1" stroke-linecap="butt" />
<line x1="169.9" y1="531.4" x2="169.9" y2="649.5" stroke="#d2d2d2" stroke-width="1" stroke-linecap="butt" />
<line x1="176.25" y1="531.4" x2="176.25" y2="649.5" stroke="#d2d2d2" stroke-width="1" stroke-linecap="butt" />
<line x1="182.6" y1="531.4" x2="182.6" y2="649.5" stroke="#d2d2d2" stroke-width="1" stroke-linecap="butt" />
<line x1="188.95" y1="531.4" x2="188.95" y2="649.5" stroke="#d2d2d2" stroke-width="1" stroke-linecap="butt" />
<line x1="195.3" y1="531.4" x2="195.3" y2="649.5" stroke="#d2d2d2" stroke-width="1" stroke-linecap="butt" />
<line x1="201.65" y1="531.4" x2="201.65" y2="649.5" stroke="#d2d2d2" stroke-width="1" stroke-linecap="butt" />
<line x1="208" y1="531.4" x2="208" y2="649.5" stroke="#d2d2d2" stroke-width="1" stroke-linecap="butt" />
<line x1="214.35" y1="531.4" x2="214.35" y2="649.5" stroke="#d2d2d2" stroke-width="1" stroke-linecap="butt" />
<line x1="220.7" y1="531.4" x2="220.7" y2="649.5" stroke="#d2d2d2" stroke-width="1" stroke-linecap="butt" />
<line x1="227.05" y1="531.4" x2="227.05" y2="649.5" stroke="#d2d2d2" stroke-width="1" stroke-linecap="butt" />
<line x1="233.4" y1="531.4" x2="233.4" y2="649.5" stroke="#d2d2d2" stroke-width="1" stroke-linecap="butt" />
</g>
<g clip-path="url(#c21)" >
<line x1="9.6" y1="528" x2="-30.9" y2="649.5" stroke="#c68ccf" stroke-width="0.9" stroke-linecap="butt" />
<line x1="12.2" y1="528" x2="-28.3" y2="649.5" stroke="#c68ccf" stroke-width="0.9" stroke-linecap="butt" />
<line x1="14.8" y1="528" x2="-25.7" y2="649.5" stroke="#c68ccf" stroke-width="0.9" stroke-linecap="butt" />
<line x1="17.4" y1="528" x2="-23.1" y2="649.5" stroke="#c68ccf" stroke-width="0.9" stroke-linecap="butt" />
<line x1="20" y1="528" x2="-20.5" y2="649.5" stroke="#c68ccf" stroke-width="0.9" stroke-linecap="butt" />
<line x1="22.6" y1="528" x2="-17.9" y2="649.5" stroke="#c68ccf" stroke-width="0.9" stroke-linecap="butt" />
<line x1="25.2" y1="528" x2="-15.3" y2="649.5" stroke="#c68ccf" stroke-width="0.9" stroke-linecap="butt" />
<line x1="27.8" y1="528" x2="-12.7" y2="649.5" stroke="#c68ccf" stroke-width="0.9" stroke-linecap="butt" />
<line x1="30.4" y1="528" x2="-10.1" y2="649.5" stroke="#c68ccf" stroke-width="0.9" stroke-linecap="butt" />
<line x1="33" y1="528" x2="-7.5" y2="649.5" stroke="#c68ccf" stroke-width="0.9" stroke-linecap="butt" />
<line x1="35.6" y1="528" x2="-4.9" y2="649.5" stroke="#c68ccf" stroke-width="0.9" stroke-linecap="butt" />
<line x1="38.2" y1="528" x2="-2.3" y2="649.5" stroke="#c68ccf" stroke-width="0.9" stroke-linecap="butt" />
<line x1="40.8" y1="528" x2="0.3" y2="649.5" stroke="#c68ccf" stroke-width="0.9" stroke-linecap="butt" />
<line x1="43.4" y1="528" x2="2.9" y2="649.5" stroke="#c68ccf" stroke-width="0.9" stroke-linecap="butt" />
<line x1="46" y1="528" x2="5.5" y2="649.5" stroke="#c68ccf" stroke-width="0.9" stroke-linecap="butt" />
<line x1="48.6" y1="528" x2="8.1" y2="649.5" stroke="#c68ccf" stroke-width="0.9" stroke-linecap="butt" />
<line x1="51.2" y1="528" x2="10.7" y2="649.5" stroke="#c68ccf" stroke-width="0.9" stroke-linecap="butt" />
<line x1="53.8" y1="528" x2="13.3" y2="649.5" stroke="#c68ccf" stroke-width="0.9" stroke-linecap="butt" />
<line x1="56.4" y1="528" x2="15.9" y2="649.5" stroke="#c68ccf" stroke-width="0.9" stroke-linecap="butt" />
<line x1="59" y1="528" x2="18.5" y2="649.5" stroke="#c68ccf" stroke-width="0.9" stroke-linecap="butt" />
<line x1="61.6" y1="528" x2="21.1" y2="649.5" stroke="#c68ccf" stroke-width="0.9" stroke-linecap="butt" />
<line x1="64.2" y1="528" x2="23.7" y2="649.5" stroke="#c68ccf" stroke-width="0.9" stroke-linecap="butt" />
<line x1="66.8" y1="528" x2="26.3" y2="649.5" stroke="#c68ccf" stroke-width="0.9" stroke-linecap="butt" />
<line x1="69.4" y1="528" x2="28.9" y2="649.5" stroke="#c68ccf" stroke-width="0.9" stroke-linecap="butt" />
<line x1="72" y1="528" x2="31.5" y2="649.5" stroke="#c68ccf" stroke-width="0.9" stroke-linecap="butt" />
<line x1="74.6" y1="528" x2="34.1" y2="649.5" stroke="#c68ccf" stroke-width="0.9" stroke-linecap="butt" />
<line x1="77.2" y1="528" x2="36.7" y2="649.5" stroke="#c68ccf" stroke-width="0.9" stroke-linecap="butt" />
<line x1="79.8" y1="528" x2="39.3" y2="649.5" stroke="#c68ccf" stroke-width="0.9" stroke-linecap="butt" />
<line x1="82.4" y1="528" x2="41.9" y2="649.5" stroke="#c68ccf" stroke-width="0.9" stroke-linecap="butt" />
<line x1="85" y1="528" x2="44.5" y2="649.5" stroke="#c68ccf" stroke-width="0.9" stroke-linecap="butt" />
<line x1="87.6" y1="528" x2="47.1" y2="649.5" stroke="#c68ccf" stroke-width="0.9" stroke-linecap="butt" />
<line x1="90.2" y1="528" x2="49.7" y2="649.5" stroke="#c68ccf" stroke-width="0.9" stroke-linecap="butt" />
<line x1="92.8" y1="528" x2="52.3" y2="649.5" stroke="#c68ccf" stroke-width="0.9" stroke-linecap="butt" />
<line x1="95.4" y1="528" x2="54.9" y2="649.5" stroke="#c68ccf" stroke-width="0.9" stroke-linecap="butt" />
<line x1="98" y1="528" x2="57.5" y2="649.5" stroke="#c68ccf" stroke-width="0.9" stroke-linecap="butt" />
<line x1="100.6" y1="528" x2="60.1" y2="649.5" stroke="#c68ccf" stroke-width="0.9" stroke-linecap="butt" />
<line x1="103.2" y1="528" x2="62.7" y2="649.5" stroke="#c68ccf" stroke-width="0.9" stroke-linecap="butt" />
<line x1="105.8" y1="528" x2="65.3" y2="649.5" stroke="#c68ccf" stroke-width="0.9" stroke-linecap="butt" />
<line x1="108.4" y1="528" x2="67.9" y2="649.5" stroke="#c68ccf" stroke-width="0.9" stroke-linecap="butt" />
<line x1="111" y1="528" x2="70.5" y2="649.5" stroke="#c68ccf" stroke-width="0.9" stroke-linecap="butt" />
<line x1="113.6" y1="528" x2="73.1" y2="649.5" stroke="#c68ccf" stroke-width="0.9" stroke-linecap="butt" />
<line x1="116.2" y1="528" x2="75.7" y2="649.5" stroke="#c68ccf" stroke-width="0.9" stroke-linecap="butt" />
<line x1="118.8" y1="528" x2="78.3" y2="649.5" stroke="#c68ccf" stroke-width="0.9" stroke-linecap="butt" />
<line x1="121.4" y1="528" x2="80.9" y2="649.5" stroke="#c68ccf" stroke-width="0.9" stroke-linecap="butt" />
<line x1="124" y1="528" x2="83.5" y2="649.5" stroke="#c68ccf" stroke-width="0.9" stroke-linecap="butt" />
<line x1="126.6" y1="528" x2="86.1" y2="649.5" stroke="#c68ccf" stroke-width="0.9" stroke-linecap="butt" />
<line x1="129.2" y1="528" x2="88.7" y2="649.5" stroke="#c68ccf" stroke-width="0.9" stroke-linecap="butt" />
<line x1="131.8" y1="528" x2="91.3" y2="649.5" stroke="#c68ccf" stroke-width="0.9" stroke-linecap="butt" />
<line x1="134.4" y1="528" x2="93.9" y2="649.5" stroke="#c68ccf" stroke-width="0.9" stroke-linecap="butt" />
<line x1="137" y1="528" x2="96.5" y2="649.5" stroke="#c68ccf" stroke-width="0.9" stroke-linecap="butt" />
<line x1="139.6" y1="528" x2="99.1" y2="649.5" stroke="#c68ccf" stroke-width="0.9" stroke-linecap="butt" />
<line x1="142.2" y1="528" x2="101.7" y2="649.5" stroke="#c68ccf" stroke-width="0.9" stroke-linecap="butt" />
<line x1="144.8" y1="528" x2="104.3" y2="649.5" stroke="#c68ccf" stroke-width="0.9" stroke-linecap="butt" />
<line x1="147.4" y1="528" x2="106.9" y2="649.5" stroke="#c68ccf" stroke-width="0.9" stroke-linecap="butt" />
<line x1="150" y1="528" x2="109.5" y2="649.5" stroke="#c68ccf" stroke-width="0.9" stroke-linecap="butt" />
<line x1="152.6" y1="528" x2="112.1" y2="649.5" stroke="#c68ccf" stroke-width="0.9" stroke-linecap="butt" />
<line x1="155.2" y1="528" x2="114.7" y2="649.5" stroke="#c68ccf" stroke-width="0.9" stroke-linecap="butt" />
<line x1="157.8" y1="528" x2="117.3" y2="649.5" stroke="#c68ccf" stroke-width="0.9" stroke-linecap="butt" />
<line x1="160.4" y1="528" x2="119.9" y2="649.5" stroke="#c68ccf" stroke-width="0.9" stroke-linecap="butt" />
<line x1="163" y1="528" x2="122.5" y2="649.5" stroke="#c68ccf" stroke-width="0.9" stroke-linecap="butt" />
<line x1="165.6" y1="528" x2="125.1" y2="649.5" stroke="#c68ccf" stroke-width="0.9" stroke-linecap="butt" />
<line x1="168.2" y1="528" x2="127.7" y2="649.5" stroke="#c68ccf" stroke-width="0.9" stroke-linecap="butt" />
<line x1="170.8" y1="528" x2="130.3" y2="649.5" stroke="#c68ccf" stroke-width="0.9" stroke-linecap="butt" />
<line x1="173.4" y1="528" x2="132.9" y2="649.5" stroke="#c68ccf" stroke-width="0.9" stroke-linecap="butt" />
<line x1="176" y1="528" x2="135.5" y2="649.5" stroke="#c68ccf" stroke-width="0.9" stroke-linecap="butt" />
<line x1="178.6" y1="528" x2="138.1" y2="649.5" stroke="#c68ccf" stroke-width="0.9" stroke-linecap="butt" />
<line x1="181.2" y1="528" x2="140.7" y2="649.5" stroke="#c68ccf" stroke-width="0.9" stroke-linecap="butt" />
<line x1="183.8" y1="528" x2="143.3" y2="649.5" stroke="#c68ccf" stroke-width="0.9" stroke-linecap="butt" />
<line x1="186.4" y1="528" x2="145.9" y2="649.5" stroke="#c68ccf" stroke-width="0.9" stroke-linecap="butt" />
<line x1="189" y1="528" x2="148.5" y2="649.5" stroke="#c68ccf" stroke-width="0.9" stroke-linecap="butt" />
<line x1="191.6" y1="528" x2="151.1" y2="649.5" stroke="#c68ccf" stroke-width="0.9" stroke-linecap="butt" />
<line x1="194.2" y1="528" x2="153.7" y2="649.5" stroke="#c68ccf" stroke-width="0.9" stroke-linecap="butt" />
<line x1="196.8" y1="528" x2="156.3" y2="649.5" stroke="#c68ccf" stroke-width="0.9" stroke-linecap="butt" />
<line x1="199.4" y1="528" x2="158.9" y2="649.5" stroke="#c68ccf" stroke-width="0.9" stroke-linecap="butt" />
<line x1="202" y1="528" x2="161.5" y2="649.5" stroke="#c68ccf" stroke-width="0.9" stroke-linecap="butt" />
<line x1="204.6" y1="528" x2="164.1" y2="649.5" stroke="#c68ccf" stroke-width="0.9" stroke-linecap="butt" />
<line x1="207.2" y1="528" x2="166.7" y2="649.5" stroke="#c68ccf" stroke-width="0.9" stroke-linecap="butt" />
<line x1="209.8" y1="528" x2="169.3" y2="649.5" stroke="#c68ccf" stroke-width="0.9" stroke-linecap="butt" />
<line x1="212.4" y1="528" x2="171.9" y2="649.5" stroke="#c68ccf" stroke-width="0.9" stroke-linecap="butt" />
<line x1="215" y1="528" x2="174.5" y2="649.5" stroke="#c68ccf" stroke-width="0.9" stroke-linecap="butt" />
<line x1="217.6" y1="528" x2="177.1" y2="649.5" stroke="#c68ccf" stroke-width="0.9" stroke-linecap="butt" />
<line x1="220.2" y1="528" x2="179.7" y2="649.5" stroke="#c68ccf" stroke-width="0.9" stroke-linecap="butt" />
<line x1="222.8" y1="528" x2="182.3" y2="649.5" stroke="#c68ccf" stroke-width="0.9" stroke-linecap="butt" />
<line x1="225.4" y1="528" x2="184.9" y2="649.5" stroke="#c68ccf" stroke-width="0.9" stroke-linecap="butt" />
<line x1="228" y1="528" x2="187.5" y2="649.5" stroke="#c68ccf" stroke-width="0.9" stroke-linecap="butt" />
<line x1="230.6" y1="528" x2="190.1" y2="649.5" stroke="#c68ccf" stroke-width="0.9" stroke-linecap="butt" />
<line x1="233.2" y1="528" x2="192.7" y2="649.5" stroke="#c68ccf" stroke-width="0.9" stroke-linecap="butt" />
<line x1="235.8" y1="528" x2="195.3" y2="649.5" stroke="#c68ccf" stroke-width="0.9" stroke-linecap="butt" />
<line x1="238.4" y1="528" x2="197.9" y2="649.5" stroke="#c68ccf" stroke-width="0.9" stroke-linecap="butt" />
<line x1="241" y1="528" x2="200.5" y2="649.5" stroke="#c68ccf" stroke-width="0.9" stroke-linecap="butt" />
<line x1="243.6" y1="528" x2="203.1" y2="649.5" stroke="#c68ccf" stroke-width="0.9" stroke-linecap="butt" />
<line x1="246.2" y1="528" x2="205.7" y2="649.5" stroke="#c68ccf" stroke-width="0.9" stroke-linecap="butt" />
<line x1="248.8" y1="528" x2="208.3" y2="649.5" stroke="#c68ccf" stroke-width="0.9" stroke-linecap="butt" />
<line x1="251.4" y1="528" x2="210.9" y2="649.5" stroke="#c68ccf" stroke-width="0.9" stroke-linecap="butt" />
<line x1="254" y1="528" x2="213.5" y2="649.5" stroke="#c68ccf" stroke-width="0.9" stroke-linecap="butt" />
<line x1="256.6" y1="528" x2="216.1" y2="649.5" stroke="#c68ccf" stroke-width="0.9" stroke-linecap="butt" />
<line x1="259.2" y1="528" x2="218.7" y2="649.5" stroke="#c68ccf" stroke-width="0.9" stroke-linecap="butt" />
<line x1="261.8" y1="528" x2="221.3" y2="649.5" stroke="#c68ccf" stroke-width="0.9" stroke-linecap="butt" />
<line x1="264.4" y1="528" x2="223.9" y2="649.5" stroke="#c68ccf" stroke-width="0.9" stroke-linecap="butt" />
<line x1="267" y1="528" x2="226.5" y2="649.5" stroke="#c68ccf" stroke-width="0.9" stroke-linecap="butt" />
<line x1="269.6" y1="528" x2="229.1" y2="649.5" stroke="#c68ccf" stroke-width="0.9" stroke-linecap="butt" />
<line x1="272.2" y1="528" x2="231.7" y2="649.5" stroke="#c68ccf" stroke-width="0.9" stroke-linecap="butt" />
<line x1="274.8" y1="528" x2="234.3" y2="649.5" stroke="#c68ccf" stroke-width="0.9" stroke-linecap="butt" />
<line x1="277.4" y1="528" x2="236.9" y2="649.5" stroke="#c68ccf" stroke-width="0.9" stroke-linecap="butt" />
<line x1="280" y1="528" x2="239.5" y2="649.5" stroke="#c68ccf" stroke-width="0.9" stroke-linecap="butt" />
<line x1="282.6" y1="528" x2="242.1" y2="649.5" stroke="#c68ccf" stroke-width="0.9" stroke-linecap="butt" />
<line x1="285.2" y1="528" x2="244.7" y2="649.5" stroke="#c68ccf" stroke-width="0.9" stroke-linecap="butt" />
</g>
<g clip-path="url(#c22)" >
<line x1="283.5" y1="529.4" x2="458.5" y2="529.4" stroke="#d2d2d2" stroke-width="1" stroke-linecap="butt" />
<line x1="283.5" y1="533.75" x2="458.5" y2="533.75" stroke="#d2d2d2" stroke-width="1" stroke-linecap="butt" />
<line x1="283.5" y1="538.1" x2="458.5" y2="538.1" stroke="#d2d2d2" stroke-width="1" stroke-linecap="butt" />
<line x1="283.5" y1="542.45" x2="458.5" y2="542.45" stroke="#d2d2d2" stroke-width="1" stroke-linecap="butt" />
<line x1="283.5" y1="546.8" x2="458.5" y2="546.8" stroke="#d2d2d2" stroke-width="1" stroke-linecap="butt" />
<line x1="283.5" y1="551.15" x2="458.5" y2="551.15" stroke="#d2d2d2" stroke-width="1" stroke-linecap="butt" />
<line x1="283.5" y1="555.5" x2="458.5" y2="555.5" stroke="#d2d2d2" stroke-width="1" stroke-linecap="butt" />
<line x1="283.5" y1="559.85" x2="458.5" y2="559.85" stroke="#d2d2d2" stroke-width="1" stroke-linecap="butt" />
<line x1="283.5" y1="564.2" x2="458.5" y2="564.2" stroke="#d2d2d2" stroke-width="1" stroke-linecap="butt" />
<line x1="283.5" y1="568.55" x2="458.5" y2="568.55" stroke="#d2d2d2" stroke-width="1" stroke-linecap="butt" />
<line x1="283.5" y1="572.9" x2="458.5" y2="572.9" stroke="#d2d2d2" stroke-width="1" stroke-linecap="butt" />
<line x1="283.5" y1="577.25" x2="458.5" y2="577.25" stroke="#d2d2d2" stroke-width="1" stroke-linecap="butt" />
<line x1="283.5" y1="581.6" x2="458.5" y2="581.6" stroke="#d2d2d2" stroke-width="1" stroke-linecap="butt" />
<line x1="283.5" y1="585.95" x2="458.5" y2="585.95" stroke="#d2d2d2" stroke-width="1" stroke-linecap="butt" />
<line x1="283.5" y1="590.3" x2="458.5" y2="590.3" stroke="#d2d2d2" stroke-width="1" stroke-linecap="butt" />
<line x1="283.5" y1="594.65" x2="458.5" y2="594.65" stroke="#d2d2d2" stroke-width="1" stroke-linecap="butt" />
<line x1="283.5" y1="599" x2="458.5" y2="599" stroke="#d2d2d2" stroke-width="1" stroke-linecap="butt" />
<line x1="283.5" y1="603.35" x2="458.5" y2="603.35" stroke="#d2d2d2" stroke-width="1" stroke-linecap="butt" />
<line x1="283.5" y1="607.7" x2="458.5" y2="607.7" stroke="#d2d2d2" stroke-width="1" stroke-linecap="butt" />
<line x1="283.5" y1="612.05" x2="458.5" y2="612.05" stroke="#d2d2d2" stroke-width="1" stroke-linecap="butt" />
<line x1="283.5" y1="616.4" x2="458.5" y2="616.4" stroke="#d2d2d2" stroke-width="1" stroke-linecap="butt" />
<line x1="283.5" y1="620.75" x2="458.5" y2="620.75" stroke="#d2d2d2" stroke-width="1" stroke-linecap="butt" />
<line x1="283.5" y1="625.1" x2="458.5" y2="625.1" stroke="#d2d2d2" stroke-width="1" stroke-linecap="butt" />
<line x1="283.5" y1="629.45" x2="458.5" y2="629.45" stroke="#d2d2d2" stroke-width="1" stroke-linecap="butt" />
<line x1="283.5" y1="633.8" x2="458.5" y2="633.8" stroke="#d2d2d2" stroke-width="1" stroke-linecap="butt" />
<line x1="283.5" y1="638.15" x2="458.5" y2="638.15" stroke="#d2d2d2" stroke-width="1" stroke-linecap="butt" />
<line x1="283.5" y1="642.5" x2="458.5" y2="642.5" stroke="#d2d2d2" stroke-width="1" stroke-linecap="butt" />
<line x1="283.5" y1="646.85" x2="458.5" y2="646.85" stroke="#d2d2d2" stroke-width="1" stroke-linecap="butt" />
<line x1="283.5" y1="651.2" x2="458.5" y2="651.2" stroke="#d2d2d2" stroke-width="1" stroke-linecap="butt" />
</g>
<g clip-path="url(#c23)" >
<line x1="278.7" y1="529.4" x2="278.7" y2="650.3" stroke="#d2d2d2" stroke-width="1" stroke-linecap="butt" />
<line x1="284.9" y1="529.4" x2="284.9" y2="650.3" stroke="#d2d2d2" stroke-width="1" stroke-linecap="butt" />
<line x1="291.1" y1="529.4" x2="291.1" y2="650.3" stroke="#d2d2d2" stroke-width="1" stroke-linecap="butt" />
<line x1="297.3" y1="529.4" x2="297.3" y2="650.3" stroke="#d2d2d2" stroke-width="1" stroke-linecap="butt" />
<line x1="303.5" y1="529.4" x2="303.5" y2="650.3" stroke="#d2d2d2" stroke-width="1" stroke-linecap="butt" />
<line x1="309.7" y1="529.4" x2="309.7" y2="650.3" stroke="#d2d2d2" stroke-width="1" stroke-linecap="butt" />
<line x1="315.9" y1="529.4" x2="315.9" y2="650.3" stroke="#d2d2d2" stroke-width="1" stroke-linecap="butt" />
<line x1="322.1" y1="529.4" x2="322.1" y2="650.3" stroke="#d2d2d2" stroke-width="1" stroke-linecap="butt" />
<line x1="328.3" y1="529.4" x2="328.3" y2="650.3" stroke="#d2d2d2" stroke-width="1" stroke-linecap="butt" />
<line x1="334.5" y1="529.4" x2="334.5" y2="650.3" stroke="#d2d2d2" stroke-width="1" stroke-linecap="butt" />
<line x1="340.7" y1="529.4" x2="340.7" y2="650.3" stroke="#d2d2d2" stroke-width="1" stroke-linecap="butt" />
<line x1="346.9" y1="529.4" x2="346.9" y2="650.3" stroke="#d2d2d2" stroke-width="1" stroke-linecap="butt" />
<line x1="353.1" y1="529.4" x2="353.1" y2="650.3" stroke="#d2d2d2" stroke-width="1" stroke-linecap="butt" />
<line x1="359.3" y1="529.4" x2="359.3" y2="650.3" stroke="#d2d2d2" stroke-width="1" stroke-linecap="butt" />
<line x1="365.5" y1="529.4" x2="365.5" y2="650.3" stroke="#d2d2d2" stroke-width="1" stroke-linecap="butt" />
<line x1="371.7" y1="529.4" x2="371.7" y2="650.3" stroke="#d2d2d2" stroke-width="1" stroke-linecap="butt" />
<line x1="377.9" y1="529.4" x2="377.9" y2="650.3" stroke="#d2d2d2" stroke-width="1" stroke-linecap="butt" />
<line x1="384.1" y1="529.4" x2="384.1" y2="650.3" stroke="#d2d2d2" stroke-width="1" stroke-linecap="butt" />
<line x1="390.3" y1="529.4" x2="390.3" y2="650.3" stroke="#d2d2d2" stroke-width="1" stroke-linecap="butt" />
<line x1="396.5" y1="529.4" x2="396.5" y2="650.3" stroke="#d2d2d2" stroke-width="1" stroke-linecap="butt" />
<line x1="402.7" y1="529.4" x2="402.7" y2="650.3" stroke="#d2d2d2" stroke-width="1" stroke-linecap="butt" />
<line x1="408.9" y1="529.4" x2="408.9" y2="650.3" stroke="#d2d2d2" stroke-width="1" stroke-linecap="butt" />
<line x1="415.1" y1="529.4" x2="415.1" y2="650.3" stroke="#d2d2d2" stroke-width="1" stroke-linecap="butt" />
<line x1="421.3" y1="529.4" x2="421.3" y2="650.3" stroke="#d2d2d2" stroke-width="1" stroke-linecap="butt" />
<line x1="427.5" y1="529.4" x2="427.5" y2="650.3" stroke="#d2d2d2" stroke-width="1" stroke-linecap="butt" />
<line x1="433.7" y1="529.4" x2="433.7" y2="650.3" stroke="#d2d2d2" stroke-width="1" stroke-linecap="butt" />
<line x1="439.9" y1="529.4" x2="439.9" y2="650.3" stroke="#d2d2d2" stroke-width="1" stroke-linecap="butt" />
<line x1="446.1" y1="529.4" x2="446.1" y2="650.3" stroke="#d2d2d2" stroke-width="1" stroke-linecap="butt" />
<line x1="452.3" y1="529.4" x2="452.3" y2="650.3" stroke="#d2d2d2" stroke-width="1" stroke-linecap="butt" />
<line x1="458.5" y1="529.4" x2="458.5" y2="650.3" stroke="#d2d2d2" stroke-width="1" stroke-linecap="butt" />
</g>
<rect x="2.5" y="2.7" width="16.44" height="11.22" fill="#fff" stroke="none" stroke-width="0"/>
<rect x="55.7" y="25.48" width="35.95" height="10.61" fill="#fff" stroke="none" stroke-width="0"/>
<rect x="55.2" y="88.08" width="35.95" height="10.61" fill="#fff" stroke="none" stroke-width="0"/>
<rect x="55.2" y="111.98" width="35.95" height="10.61" fill="#fff" stroke="none" stroke-width="0"/>
<rect x="88.8" y="70.1" width="31.89" height="10.2" fill="#fff" stroke="none" stroke-width="0"/>
<rect x="102.2" y="38.02" width="20.02" height="13.52" fill="#fff" stroke="none" stroke-width="0"/>
<rect x="118.5" y="7.98" width="76.97" height="10.61" fill="#fff" stroke="none" stroke-width="0"/>
<rect x="149.8" y="19.08" width="31.89" height="10.61" fill="#fff" stroke="none" stroke-width="0"/>
<rect x="137.6" y="85.42" width="20.02" height="13.52" fill="#fff" stroke="none" stroke-width="0"/>
<rect x="157.3" y="87.22" width="92.8" height="10.3" fill="#fff" stroke="none" stroke-width="0"/>
<rect x="268.5" y="2.7" width="17.05" height="11.22" fill="#fff" stroke="none" stroke-width="0"/>
<rect x="427.5" y="42.68" width="16.29" height="10.61" fill="#fff" stroke="none" stroke-width="0"/>
<rect x="349.7" y="43.28" width="31.89" height="10.61" fill="#fff" stroke="none" stroke-width="0"/>
<rect x="391.1" y="63.92" width="20.02" height="13.52" fill="#fff" stroke="none" stroke-width="0"/>
<rect x="0.5" y="172.7" width="16.44" height="11.22" fill="#fff" stroke="none" stroke-width="0"/>
<rect x="128.5" y="176.28" width="35.95" height="10.61" fill="#fff" stroke="none" stroke-width="0"/>
<rect x="126.5" y="214.18" width="31.89" height="10.61" fill="#fff" stroke="none" stroke-width="0"/>
<rect x="62.7" y="295.2" width="12.58" height="7.65" fill="#fff" stroke="none" stroke-width="0"/>
<rect x="265.3" y="174.2" width="17.05" height="11.22" fill="#fff" stroke="none" stroke-width="0"/>
<rect x="393" y="172.98" width="35.95" height="10.61" fill="#fff" stroke="none" stroke-width="0"/>
<rect x="320.5" y="183.08" width="31.89" height="10.61" fill="#fff" stroke="none" stroke-width="0"/>
<rect x="367.5" y="214.18" width="29.02" height="10.61" fill="#fff" stroke="none" stroke-width="0"/>
<rect x="459.6" y="215.62" width="20.02" height="13.52" fill="#fff" stroke="none" stroke-width="0"/>
<rect x="60" y="356" width="95" height="11.5" fill="#fff" stroke="none" stroke-width="0"/>
<rect x="118" y="343" width="28" height="9" fill="#fff" stroke="none" stroke-width="0"/>
<rect x="62" y="399.5" width="33" height="11" fill="#fff" stroke="none" stroke-width="0"/>
<rect x="102" y="442.7" width="38" height="13.9" fill="#fff" stroke="none" stroke-width="0"/>
<rect x="192.4" y="383" width="41" height="18" fill="#fff" stroke="none" stroke-width="0"/>
<rect x="196.2" y="363.7" width="12.8" height="16" fill="#fff" stroke="none" stroke-width="0"/>
<rect x="4.5" y="338.7" width="16.44" height="11.22" fill="#fff" stroke="none" stroke-width="0"/>
<rect x="120.5" y="343.08" width="23.23" height="10.61" fill="#fff" stroke="none" stroke-width="0"/>
<rect x="69" y="358.18" width="79.86" height="10.61" fill="#fff" stroke="none" stroke-width="0"/>
<rect x="63.5" y="400.18" width="31.89" height="10.61" fill="#fff" stroke="none" stroke-width="0"/>
<rect x="103.5" y="445.68" width="31.89" height="10.61" fill="#fff" stroke="none" stroke-width="0"/>
<rect x="197.7" y="386.68" width="35.95" height="10.61" fill="#fff" stroke="none" stroke-width="0"/>
<rect x="233.1" y="358.62" width="20.02" height="13.52" fill="#fff" stroke="none" stroke-width="0"/>
<rect x="266.1" y="348.9" width="13.99" height="11.22" fill="#fff" stroke="none" stroke-width="0"/>
<rect x="431.2" y="360.98" width="29.02" height="10.61" fill="#fff" stroke="none" stroke-width="0"/>
<rect x="469.5" y="407.08" width="35.95" height="10.61" fill="#fff" stroke="none" stroke-width="0"/>
<rect x="407" y="425.5" width="18" height="10.2" fill="#fff" stroke="none" stroke-width="0"/>
<rect x="468.1" y="454.08" width="35.95" height="10.61" fill="#fff" stroke="none" stroke-width="0"/>
<rect x="347.2" y="437.38" width="23.23" height="10.61" fill="#fff" stroke="none" stroke-width="0"/>
<rect x="362.8" y="454.08" width="29.02" height="10.61" fill="#fff" stroke="none" stroke-width="0"/>
<rect x="3.5" y="516.7" width="17.05" height="11.22" fill="#fff" stroke="none" stroke-width="0"/>
<rect x="126.5" y="520.68" width="35.95" height="10.61" fill="#fff" stroke="none" stroke-width="0"/>
<rect x="89.2" y="605.58" width="23.23" height="10.61" fill="#fff" stroke="none" stroke-width="0"/>
<rect x="123" y="621.98" width="29.02" height="10.61" fill="#fff" stroke="none" stroke-width="0"/>
<rect x="256.5" y="516.7" width="17.05" height="11.22" fill="#fff" stroke="none" stroke-width="0"/>
<rect x="393.9" y="531.32" width="27.66" height="8.26" fill="#fff" stroke="none" stroke-width="0"/>
<rect x="425.8" y="529.32" width="20.76" height="7.24" fill="#fff" stroke="none" stroke-width="0"/>
<rect x="427.5" y="551.06" width="16.95" height="9.49" fill="#fff" stroke="none" stroke-width="0"/>
<rect x="427" y="560.32" width="27.66" height="8.26" fill="#fff" stroke="none" stroke-width="0"/>
<rect x="313.9" y="641.5" width="21.11" height="8.16" fill="#fff" stroke="none" stroke-width="0"/>
<rect x="319" y="594.9" width="15.67" height="10.4" fill="#fff" stroke="none" stroke-width="0"/>
<rect x="283.6" y="587.35" width="13.86" height="9.1" fill="#fff" stroke="none" stroke-width="0"/>
<rect x="300.4" y="587.35" width="13.86" height="9.1" fill="#fff" stroke="none" stroke-width="0"/>
<rect x="475.4" y="517.96" width="26.06" height="6.94" fill="#fff" stroke="none" stroke-width="0"/>
<rect x="475.4" y="526.26" width="20" height="6.94" fill="#fff" stroke="none" stroke-width="0"/>
<rect x="475.4" y="534.56" width="40.42" height="6.94" fill="#fff" stroke="none" stroke-width="0"/>
<rect x="475.4" y="542.96" width="40.42" height="6.94" fill="#fff" stroke="none" stroke-width="0"/>
<rect x="475.4" y="551.62" width="22.07" height="6.73" fill="#fff" stroke="none" stroke-width="0"/>
<rect x="475.4" y="560.32" width="11.8" height="6.73" fill="#fff" stroke="none" stroke-width="0"/>
<rect x="475.4" y="569.12" width="12.17" height="6.73" fill="#fff" stroke="none" stroke-width="0"/>
<line x1="54.8" y1="84.3" x2="234" y2="84.3" stroke="#8dcf4a" stroke-width="1" stroke-dasharray="2.5,1.8" stroke-linecap="butt" />
<line x1="54.8" y1="97.7" x2="234" y2="97.7" stroke="#8dcf4a" stroke-width="1" stroke-dasharray="2.5,1.8" stroke-linecap="butt" />
<line x1="121.7" y1="12" x2="121.7" y2="136.3" stroke="#333" stroke-width="1" stroke-dasharray="3,2" stroke-linecap="butt" />
<line x1="122.2" y1="84" x2="202.2" y2="16.3" stroke="#1f3a8a" stroke-width="2.2" stroke-linecap="butt" />
<line x1="68.97" y1="136.3" x2="230.8" y2="16.3" stroke="#222" stroke-width="1.1" stroke-dasharray="3.5,2.5" stroke-linecap="butt" />
<circle cx="121.7" cy="84.8" r="2.4" fill="#e8281e" stroke="none" stroke-width="0"/>
<polygon points="121.7,93 122.74,95.77 125.69,95.9 123.38,97.75 124.17,100.6 121.7,98.96 119.23,100.6 120.02,97.75 117.71,95.9 120.66,95.77" fill="#e8281e" stroke="none" stroke-width="0" />
<line x1="54.8" y1="16.3" x2="54.8" y2="136.8" stroke="#333" stroke-width="1.2" stroke-linecap="butt" />
<line x1="54.3" y1="136.3" x2="234" y2="136.3" stroke="#333" stroke-width="1.2" stroke-linecap="butt" />
<line x1="99.6" y1="136.3" x2="99.6" y2="140.3" stroke="#333" stroke-width="1" stroke-linecap="butt" />
<line x1="166.8" y1="136.3" x2="166.8" y2="140.3" stroke="#333" stroke-width="1" stroke-linecap="butt" />
<line x1="234" y1="136.3" x2="234" y2="140.3" stroke="#333" stroke-width="1" stroke-linecap="butt" />
<line x1="66" y1="136.3" x2="66" y2="138.5" stroke="#333" stroke-width="1" stroke-linecap="butt" />
<line x1="133.2" y1="136.3" x2="133.2" y2="138.5" stroke="#333" stroke-width="1" stroke-linecap="butt" />
<line x1="200.4" y1="136.3" x2="200.4" y2="138.5" stroke="#333" stroke-width="1" stroke-linecap="butt" />
<line x1="54.8" y1="136.3" x2="50.8" y2="136.3" stroke="#333" stroke-width="1" stroke-linecap="butt" />
<line x1="54.8" y1="76.3" x2="50.8" y2="76.3" stroke="#333" stroke-width="1" stroke-linecap="butt" />
<line x1="54.8" y1="16.3" x2="50.8" y2="16.3" stroke="#333" stroke-width="1" stroke-linecap="butt" />
<line x1="54.8" y1="106.3" x2="52.6" y2="106.3" stroke="#333" stroke-width="1" stroke-linecap="butt" />
<line x1="54.8" y1="46.3" x2="52.6" y2="46.3" stroke="#333" stroke-width="1" stroke-linecap="butt" />
<text x="99.6" y="149.3" font-size="9.3" font-weight="normal" text-anchor="middle" fill="#1a1a1a" >39</text>
<text x="166.8" y="149.3" font-size="9.3" font-weight="normal" text-anchor="middle" fill="#1a1a1a" >42</text>
<text x="234" y="149.3" font-size="9.3" font-weight="normal" text-anchor="middle" fill="#1a1a1a" >45</text>
<text x="47.9" y="138.62" font-size="9.3" font-weight="normal" text-anchor="end" fill="#1a1a1a" >0.3</text>
<text x="47.9" y="78.62" font-size="9.3" font-weight="normal" text-anchor="end" fill="#1a1a1a" >0.4</text>
<text x="47.9" y="18.63" font-size="9.3" font-weight="normal" text-anchor="end" fill="#1a1a1a" >0.5</text>
<text x="113" y="163" font-size="10.4" fill="#1a1a1a"><tspan font-weight="bold">I</tspan><tspan font-weight="bold" font-size="6.45" dy="2.91">app</tspan><tspan dy="-2.91"> (μA/cm</tspan><tspan font-size="6.45" dy="-3.95">2</tspan><tspan dy="3.95">)</tspan></text>
<text x="0" y="0" transform="translate(29.5,81.5) rotate(-90)" text-anchor="middle" font-size="11" fill="#1a1a1a"><tspan font-weight="bold">g</tspan><tspan font-weight="bold" font-size="6.82" dy="3.08">inh</tspan><tspan dy="-3.08"> (μS/cm</tspan><tspan font-size="6.82" dy="-4.18">2</tspan><tspan dy="4.18">)</tspan></text>
<text x="4" y="11.5" font-size="11" font-weight="bold" text-anchor="start" fill="#1a1a1a" >(a)</text>
<text x="57.2" y="33.8" font-size="10.4" font-weight="normal" text-anchor="start" fill="#1a1a1a" >Case 3</text>
<text x="56.7" y="96.4" font-size="10.4" font-weight="normal" text-anchor="start" fill="#1a1a1a" >Case 2</text>
<text x="56.7" y="120.3" font-size="10.4" font-weight="normal" text-anchor="start" fill="#1a1a1a" >Case 1</text>
<text x="90.3" y="78.1" font-size="10" font-weight="bold" text-anchor="start" fill="#1a1a1a" >SNHO</text>
<text x="107" y="93.9" font-size="10.4" font-weight="bold" fill="#1a1a1a">P<tspan font-size="6.5" dy="3.5">3</tspan></text>
<text x="101.6" y="47.9" font-size="10.4" font-weight="normal" fill="#1a1a1a">SN</text>
<text x="116.35" y="51.02" font-size="6.76" fill="#1a1a1a">1</text>
<text x="116.35" y="43.74" font-size="6.76" fill="#1a1a1a">S</text>
<text x="120" y="16.3" font-size="10.4" font-weight="normal" text-anchor="start" fill="#1a1a1a" >(Class I spiking)</text>
<text x="151.3" y="27.4" font-size="10.4" font-weight="normal" text-anchor="start" fill="#1a1a1a" >BHom</text>
<text x="137" y="95.3" font-size="10.4" font-weight="normal" fill="#1a1a1a">SN</text>
<text x="151.75" y="98.42" font-size="6.76" fill="#1a1a1a">4</text>
<text x="151.75" y="91.14" font-size="6.76" fill="#1a1a1a">S</text>
<text x="158.8" y="95.3" font-size="10.1" font-weight="normal" text-anchor="start" fill="#1a1a1a" >(Class II excitability)</text>
<text x="123.6" y="125.2" font-size="10.4" font-weight="normal" text-anchor="start" fill="#1a1a1a" >SNIC(Class I excitability)</text>
<line x1="319.3" y1="38.3" x2="499.5" y2="38.3" stroke="#8dcf4a" stroke-width="1" stroke-dasharray="2.5,1.8" stroke-linecap="butt" />
<line x1="319.3" y1="104.5" x2="499.5" y2="104.5" stroke="#8dcf4a" stroke-width="1" stroke-dasharray="2.5,1.8" stroke-linecap="butt" />
<line x1="319.3" y1="102" x2="432.7" y2="18" stroke="#1f3a8a" stroke-width="2.2" stroke-linecap="butt" />
<line x1="320.3" y1="109" x2="431" y2="36.8" stroke="#222" stroke-width="1.1" stroke-dasharray="3.5,2.5" stroke-linecap="butt" />
<line x1="431" y1="36.8" x2="460" y2="18" stroke="#222" stroke-width="1.3" stroke-linecap="butt" />
<polygon points="431,33 431.94,35.51 434.61,35.63 432.52,37.29 433.23,39.87 431,38.4 428.77,39.87 429.48,37.29 427.39,35.63 430.06,35.51" fill="#e8281e" stroke="none" stroke-width="0" />
<line x1="319.3" y1="18" x2="319.3" y2="138.5" stroke="#333" stroke-width="1.2" stroke-linecap="butt" />
<line x1="318.8" y1="138" x2="499.5" y2="138" stroke="#333" stroke-width="1.2" stroke-linecap="butt" />
<line x1="352" y1="138" x2="352" y2="142" stroke="#333" stroke-width="1" stroke-linecap="butt" />
<line x1="401.2" y1="138" x2="401.2" y2="142" stroke="#333" stroke-width="1" stroke-linecap="butt" />
<line x1="450.4" y1="138" x2="450.4" y2="142" stroke="#333" stroke-width="1" stroke-linecap="butt" />
<line x1="499.6" y1="138" x2="499.6" y2="142" stroke="#333" stroke-width="1" stroke-linecap="butt" />
<line x1="327.4" y1="138" x2="327.4" y2="140.2" stroke="#333" stroke-width="1" stroke-linecap="butt" />
<line x1="376.6" y1="138" x2="376.6" y2="140.2" stroke="#333" stroke-width="1" stroke-linecap="butt" />
<line x1="425.8" y1="138" x2="425.8" y2="140.2" stroke="#333" stroke-width="1" stroke-linecap="butt" />
<line x1="475" y1="138" x2="475" y2="140.2" stroke="#333" stroke-width="1" stroke-linecap="butt" />
<line x1="319.3" y1="138" x2="315.3" y2="138" stroke="#333" stroke-width="1" stroke-linecap="butt" />
<line x1="319.3" y1="98" x2="315.3" y2="98" stroke="#333" stroke-width="1" stroke-linecap="butt" />
<line x1="319.3" y1="58" x2="315.3" y2="58" stroke="#333" stroke-width="1" stroke-linecap="butt" />
<line x1="319.3" y1="18" x2="315.3" y2="18" stroke="#333" stroke-width="1" stroke-linecap="butt" />
<line x1="319.3" y1="118" x2="317.1" y2="118" stroke="#333" stroke-width="1" stroke-linecap="butt" />
<line x1="319.3" y1="78" x2="317.1" y2="78" stroke="#333" stroke-width="1" stroke-linecap="butt" />
<line x1="319.3" y1="38" x2="317.1" y2="38" stroke="#333" stroke-width="1" stroke-linecap="butt" />
<text x="352" y="151" font-size="9.3" font-weight="normal" text-anchor="middle" fill="#1a1a1a" >42</text>
<text x="401.2" y="151" font-size="9.3" font-weight="normal" text-anchor="middle" fill="#1a1a1a" >45</text>
<text x="450.4" y="151" font-size="9.3" font-weight="normal" text-anchor="middle" fill="#1a1a1a" >48</text>
<text x="499.6" y="151" font-size="9.3" font-weight="normal" text-anchor="middle" fill="#1a1a1a" >51</text>
<text x="312.4" y="140.32" font-size="9.3" font-weight="normal" text-anchor="end" fill="#1a1a1a" >0.3</text>
<text x="312.4" y="100.32" font-size="9.3" font-weight="normal" text-anchor="end" fill="#1a1a1a" >0.4</text>
<text x="312.4" y="60.33" font-size="9.3" font-weight="normal" text-anchor="end" fill="#1a1a1a" >0.5</text>
<text x="312.4" y="20.32" font-size="9.3" font-weight="normal" text-anchor="end" fill="#1a1a1a" >0.6</text>
<text x="378" y="164" font-size="10.4" fill="#1a1a1a"><tspan font-weight="bold">I</tspan><tspan font-weight="bold" font-size="6.45" dy="2.91">app</tspan><tspan dy="-2.91"> (μA/cm</tspan><tspan font-size="6.45" dy="-3.95">2</tspan><tspan dy="3.95">)</tspan></text>
<text x="0" y="0" transform="translate(289.3,83) rotate(-90)" text-anchor="middle" font-size="11" fill="#1a1a1a"><tspan font-weight="bold">g</tspan><tspan font-weight="bold" font-size="6.82" dy="3.08">inh</tspan><tspan dy="-3.08"> (μS/cm</tspan><tspan font-size="6.82" dy="-4.18">2</tspan><tspan dy="4.18">)</tspan></text>
<text x="270" y="11.5" font-size="11" font-weight="bold" text-anchor="start" fill="#1a1a1a" >(b)</text>
<text x="476" y="33" font-size="10.4" font-weight="normal" text-anchor="start" fill="#1a1a1a" >Case 4</text>
<text x="475" y="58" font-size="10.4" font-weight="normal" text-anchor="start" fill="#1a1a1a" >Case 3</text>
<text x="475" y="129.5" font-size="10.4" font-weight="normal" text-anchor="start" fill="#1a1a1a" >Case 2</text>
<text x="429" y="51" font-size="10.4" font-weight="normal" text-anchor="start" fill="#1a1a1a" >BT</text>
<text x="351.2" y="51.6" font-size="10.4" font-weight="normal" text-anchor="start" fill="#1a1a1a" >BHom</text>
<text x="390.5" y="73.8" font-size="10.4" font-weight="normal" fill="#1a1a1a">SN</text>
<text x="405.25" y="76.92" font-size="6.76" fill="#1a1a1a">4</text>
<text x="405.25" y="69.64" font-size="6.76" fill="#1a1a1a">S</text>
<line x1="59.7" y1="295.4" x2="229.5" y2="185.6" stroke="#1f3a8a" stroke-width="1.1" stroke-linecap="butt" />
<line x1="56.7" y1="298" x2="232.7" y2="186" stroke="#111" stroke-width="1.5" stroke-linecap="butt" />
<polygon points="56.7,294.2 57.64,296.71 60.31,296.83 58.22,298.49 58.93,301.07 56.7,299.6 54.47,301.07 55.18,298.49 53.09,296.83 55.76,296.71" fill="#e8281e" stroke="none" stroke-width="0" />
<line x1="52.7" y1="186" x2="52.7" y2="306.1" stroke="#333" stroke-width="1.2" stroke-linecap="butt" />
<line x1="52.2" y1="305.6" x2="232.6" y2="305.6" stroke="#333" stroke-width="1.2" stroke-linecap="butt" />
<line x1="53" y1="305.6" x2="53" y2="309.6" stroke="#333" stroke-width="1" stroke-linecap="butt" />
<line x1="92.24" y1="305.6" x2="92.24" y2="309.6" stroke="#333" stroke-width="1" stroke-linecap="butt" />
<line x1="131.48" y1="305.6" x2="131.48" y2="309.6" stroke="#333" stroke-width="1" stroke-linecap="butt" />
<line x1="170.72" y1="305.6" x2="170.72" y2="309.6" stroke="#333" stroke-width="1" stroke-linecap="butt" />
<line x1="209.96" y1="305.6" x2="209.96" y2="309.6" stroke="#333" stroke-width="1" stroke-linecap="butt" />
<line x1="72.62" y1="305.6" x2="72.62" y2="307.8" stroke="#333" stroke-width="1" stroke-linecap="butt" />
<line x1="111.86" y1="305.6" x2="111.86" y2="307.8" stroke="#333" stroke-width="1" stroke-linecap="butt" />
<line x1="151.1" y1="305.6" x2="151.1" y2="307.8" stroke="#333" stroke-width="1" stroke-linecap="butt" />
<line x1="190.34" y1="305.6" x2="190.34" y2="307.8" stroke="#333" stroke-width="1" stroke-linecap="butt" />
<line x1="229.58" y1="305.6" x2="229.58" y2="307.8" stroke="#333" stroke-width="1" stroke-linecap="butt" />
<line x1="52.7" y1="305.6" x2="48.7" y2="305.6" stroke="#333" stroke-width="1" stroke-linecap="butt" />
<line x1="52.7" y1="274.2" x2="48.7" y2="274.2" stroke="#333" stroke-width="1" stroke-linecap="butt" />
<line x1="52.7" y1="242.8" x2="48.7" y2="242.8" stroke="#333" stroke-width="1" stroke-linecap="butt" />
<line x1="52.7" y1="211.4" x2="48.7" y2="211.4" stroke="#333" stroke-width="1" stroke-linecap="butt" />
<line x1="52.7" y1="289.9" x2="50.5" y2="289.9" stroke="#333" stroke-width="1" stroke-linecap="butt" />
<line x1="52.7" y1="258.5" x2="50.5" y2="258.5" stroke="#333" stroke-width="1" stroke-linecap="butt" />
<line x1="52.7" y1="227.1" x2="50.5" y2="227.1" stroke="#333" stroke-width="1" stroke-linecap="butt" />
<line x1="52.7" y1="195.7" x2="50.5" y2="195.7" stroke="#333" stroke-width="1" stroke-linecap="butt" />
<text x="53" y="318.6" font-size="9.3" font-weight="normal" text-anchor="middle" fill="#1a1a1a" >46.8</text>
<text x="92.24" y="318.6" font-size="9.3" font-weight="normal" text-anchor="middle" fill="#1a1a1a" >47.1</text>
<text x="131.48" y="318.6" font-size="9.3" font-weight="normal" text-anchor="middle" fill="#1a1a1a" >47.4</text>
<text x="170.72" y="318.6" font-size="9.3" font-weight="normal" text-anchor="middle" fill="#1a1a1a" >47.7</text>
<text x="209.96" y="318.6" font-size="9.3" font-weight="normal" text-anchor="middle" fill="#1a1a1a" >48.0</text>
<text x="45.8" y="307.93" font-size="9.3" font-weight="normal" text-anchor="end" fill="#1a1a1a" >0.55</text>
<text x="45.8" y="276.52" font-size="9.3" font-weight="normal" text-anchor="end" fill="#1a1a1a" >0.56</text>
<text x="45.8" y="245.13" font-size="9.3" font-weight="normal" text-anchor="end" fill="#1a1a1a" >0.57</text>
<text x="45.8" y="213.73" font-size="9.3" font-weight="normal" text-anchor="end" fill="#1a1a1a" >0.58</text>
<text x="111.3" y="332" font-size="10.4" fill="#1a1a1a"><tspan font-weight="bold">I</tspan><tspan font-weight="bold" font-size="6.45" dy="2.91">app</tspan><tspan dy="-2.91"> (μA/cm</tspan><tspan font-size="6.45" dy="-3.95">2</tspan><tspan dy="3.95">)</tspan></text>
<text x="0" y="0" transform="translate(20.2,251.5) rotate(-90)" text-anchor="middle" font-size="11" fill="#1a1a1a"><tspan font-weight="bold">g</tspan><tspan font-weight="bold" font-size="6.82" dy="3.08">inh</tspan><tspan dy="-3.08"> (μS/cm</tspan><tspan font-size="6.82" dy="-4.18">2</tspan><tspan dy="4.18">)</tspan></text>
<text x="2" y="181.5" font-size="11" font-weight="bold" text-anchor="start" fill="#1a1a1a" >(c)</text>
<text x="130" y="184.6" font-size="10.4" font-weight="normal" text-anchor="start" fill="#1a1a1a" >Case 4</text>
<text x="128" y="222.5" font-size="10.4" font-weight="normal" text-anchor="start" fill="#1a1a1a" >SHom</text>
<text x="163.2" y="248.3" font-size="10.4" font-weight="normal" text-anchor="start" fill="#1a1a1a" >SubH</text>
<text x="143.4" y="260.2" font-size="10.4" font-weight="normal" text-anchor="start" fill="#1a1a1a" >Class II excitability</text>
<text x="64.2" y="301.2" font-size="7.5" font-weight="normal" text-anchor="start" fill="#1a1a1a" >BT</text>
<line x1="316.8" y1="222.4" x2="367.6" y2="185" stroke="#3a3a9a" stroke-width="1.1" stroke-linecap="butt" />
<line x1="326" y1="305.6" x2="488" y2="185.2" stroke="#111" stroke-width="1.6" stroke-linecap="butt" />
<line x1="328.5" y1="305.9" x2="490.5" y2="187" stroke="#222" stroke-width="1" stroke-dasharray="3,2" stroke-linecap="butt" />
<line x1="397" y1="217.7" x2="424" y2="227" stroke="#111" stroke-width="0.9" stroke-linecap="butt" />
<polygon points="428.5,228.6 422.3,224.4 421.2,228.9" fill="#111" stroke="none" stroke-width="0" />
<line x1="316.8" y1="184" x2="316.8" y2="306.1" stroke="#333" stroke-width="1.2" stroke-linecap="butt" />
<line x1="316.3" y1="305.6" x2="497.3" y2="305.6" stroke="#333" stroke-width="1.2" stroke-linecap="butt" />
<line x1="325.5" y1="305.6" x2="325.5" y2="309.6" stroke="#333" stroke-width="1" stroke-linecap="butt" />
<line x1="380.13" y1="305.6" x2="380.13" y2="309.6" stroke="#333" stroke-width="1" stroke-linecap="butt" />
<line x1="434.76" y1="305.6" x2="434.76" y2="309.6" stroke="#333" stroke-width="1" stroke-linecap="butt" />
<line x1="489.39" y1="305.6" x2="489.39" y2="309.6" stroke="#333" stroke-width="1" stroke-linecap="butt" />
<line x1="352.82" y1="305.6" x2="352.82" y2="307.8" stroke="#333" stroke-width="1" stroke-linecap="butt" />
<line x1="407.45" y1="305.6" x2="407.45" y2="307.8" stroke="#333" stroke-width="1" stroke-linecap="butt" />
<line x1="462.08" y1="305.6" x2="462.08" y2="307.8" stroke="#333" stroke-width="1" stroke-linecap="butt" />
<line x1="316.8" y1="301.2" x2="312.8" y2="301.2" stroke="#333" stroke-width="1" stroke-linecap="butt" />
<line x1="316.8" y1="269.26" x2="312.8" y2="269.26" stroke="#333" stroke-width="1" stroke-linecap="butt" />
<line x1="316.8" y1="237.32" x2="312.8" y2="237.32" stroke="#333" stroke-width="1" stroke-linecap="butt" />
<line x1="316.8" y1="205.38" x2="312.8" y2="205.38" stroke="#333" stroke-width="1" stroke-linecap="butt" />
<line x1="316.8" y1="285.23" x2="314.6" y2="285.23" stroke="#333" stroke-width="1" stroke-linecap="butt" />
<line x1="316.8" y1="253.29" x2="314.6" y2="253.29" stroke="#333" stroke-width="1" stroke-linecap="butt" />
<line x1="316.8" y1="221.35" x2="314.6" y2="221.35" stroke="#333" stroke-width="1" stroke-linecap="butt" />
<line x1="316.8" y1="189.41" x2="314.6" y2="189.41" stroke="#333" stroke-width="1" stroke-linecap="butt" />
<text x="325.5" y="318.6" font-size="9.3" font-weight="normal" text-anchor="middle" fill="#1a1a1a" >49.94</text>
<text x="380.13" y="318.6" font-size="9.3" font-weight="normal" text-anchor="middle" fill="#1a1a1a" >49.95</text>
<text x="434.76" y="318.6" font-size="9.3" font-weight="normal" text-anchor="middle" fill="#1a1a1a" >49.96</text>
<text x="489.39" y="318.6" font-size="9.3" font-weight="normal" text-anchor="middle" fill="#1a1a1a" >49.97</text>
<text x="309.9" y="303.52" font-size="9.3" font-weight="normal" text-anchor="end" fill="#1a1a1a" >0.6334</text>
<text x="309.9" y="271.58" font-size="9.3" font-weight="normal" text-anchor="end" fill="#1a1a1a" >0.6336</text>
<text x="309.9" y="239.64" font-size="9.3" font-weight="normal" text-anchor="end" fill="#1a1a1a" >0.6338</text>
<text x="309.9" y="207.7" font-size="9.3" font-weight="normal" text-anchor="end" fill="#1a1a1a" >0.6340</text>
<text x="375.8" y="334" font-size="10.4" fill="#1a1a1a"><tspan font-weight="bold">I</tspan><tspan font-weight="bold" font-size="6.45" dy="2.91">app</tspan><tspan dy="-2.91"> (μA/cm</tspan><tspan font-size="6.45" dy="-3.95">2</tspan><tspan dy="3.95">)</tspan></text>
<text x="0" y="0" transform="translate(276.5,252.4) rotate(-90)" text-anchor="middle" font-size="11" fill="#1a1a1a"><tspan font-weight="bold">g</tspan><tspan font-weight="bold" font-size="6.82" dy="3.08">inh</tspan><tspan dy="-3.08"> (μS/cm</tspan><tspan font-size="6.82" dy="-4.18">2</tspan><tspan dy="4.18">)</tspan></text>
<text x="266.8" y="183" font-size="11" font-weight="bold" text-anchor="start" fill="#1a1a1a" >(d)</text>
<text x="394.5" y="181.3" font-size="10.4" font-weight="normal" text-anchor="start" fill="#1a1a1a" >Case 4</text>
<text x="322" y="191.4" font-size="10.4" font-weight="normal" text-anchor="start" fill="#1a1a1a" >SHom</text>
<text x="369" y="222.5" font-size="10.4" font-weight="normal" text-anchor="start" fill="#1a1a1a" >SubH</text>
<text x="459" y="225.5" font-size="10.4" font-weight="normal" fill="#1a1a1a">SN</text>
<text x="473.75" y="228.62" font-size="6.76" fill="#1a1a1a">4</text>
<text x="473.75" y="221.34" font-size="6.76" fill="#1a1a1a">U</text>
<line x1="52.6" y1="411.3" x2="233.4" y2="411.3" stroke="#8dcf4a" stroke-width="1.1" stroke-dasharray="3.4,3" stroke-linecap="butt" />
<g clip-path="url(#c16)" >
<line x1="52.6" y1="454.6" x2="190.9" y2="367.5" stroke="#1f3a8a" stroke-width="1" stroke-linecap="butt" />
<line x1="52.6" y1="449.2" x2="110.9" y2="411.6" stroke="#1f3a8a" stroke-width="2.2" stroke-linecap="butt" />
<line x1="110.9" y1="411.6" x2="205.8" y2="352.2" stroke="#1f3a8a" stroke-width="2.3" stroke-dasharray="6.9,8.1" stroke-linecap="butt" />
<polyline points="54,444.8 111,409.6 150,389.8 208,355.2" fill="none" stroke="#111" stroke-width="1.9" stroke-dasharray="6,6" stroke-dashoffset="3"/>
<line x1="208" y1="355.5" x2="217" y2="352.2" stroke="#111" stroke-width="1.5" stroke-dasharray="3,2" stroke-linecap="butt" />
<line x1="126.3" y1="472.2" x2="233.4" y2="404.2" stroke="#111" stroke-width="1.8" stroke-linecap="butt" />
</g>
<polygon points="107.6,413.8 114.2,413.8 110.9,408.3" fill="#e8281e" stroke="none" stroke-width="0" />
<polygon points="188.2,369 193.6,369 190.9,364.5" fill="#fff" stroke="#e8281e" stroke-width="0.9" />
<line x1="142.7" y1="352.6" x2="165.21" y2="372.64" stroke="#111" stroke-width="0.9" stroke-linecap="butt" />
<polygon points="168.2,375.3 163,373.62 165.93,370.33" fill="#111" stroke="none" stroke-width="0" />
<line x1="232" y1="363" x2="219.67" y2="358.63" stroke="#111" stroke-width="0.9" stroke-linecap="butt" />
<polygon points="215.9,357.3 221.35,356.89 219.88,361.04" fill="#111" stroke="none" stroke-width="0" />
<line x1="73" y1="411" x2="68.74" y2="433.77" stroke="#111" stroke-width="0.9" stroke-linecap="butt" />
<polygon points="68,437.7 66.76,432.38 71.08,433.19" fill="#111" stroke="none" stroke-width="0" />
<line x1="108" y1="446" x2="95.87" y2="434.19" stroke="#111" stroke-width="0.9" stroke-linecap="butt" />
<polygon points="93,431.4 98.12,433.31 95.05,436.46" fill="#111" stroke="none" stroke-width="0" />
<line x1="180.5" y1="454" x2="176.15" y2="446.19" stroke="#111" stroke-width="0.9" stroke-linecap="butt" />
<polygon points="174.2,442.7 178.56,446 174.71,448.14" fill="#111" stroke="none" stroke-width="0" />
<line x1="52.6" y1="352.2" x2="52.6" y2="472.7" stroke="#333" stroke-width="1.2" stroke-linecap="butt" />
<line x1="52.1" y1="472.2" x2="233.4" y2="472.2" stroke="#333" stroke-width="1.2" stroke-linecap="butt" />
<line x1="78.8" y1="472.2" x2="78.8" y2="476.2" stroke="#333" stroke-width="1" stroke-linecap="butt" />
<line x1="130.33" y1="472.2" x2="130.33" y2="476.2" stroke="#333" stroke-width="1" stroke-linecap="butt" />
<line x1="181.86" y1="472.2" x2="181.86" y2="476.2" stroke="#333" stroke-width="1" stroke-linecap="butt" />
<line x1="233.39" y1="472.2" x2="233.39" y2="476.2" stroke="#333" stroke-width="1" stroke-linecap="butt" />
<line x1="53.04" y1="472.2" x2="53.04" y2="474.4" stroke="#333" stroke-width="1" stroke-linecap="butt" />
<line x1="104.57" y1="472.2" x2="104.57" y2="474.4" stroke="#333" stroke-width="1" stroke-linecap="butt" />
<line x1="156.1" y1="472.2" x2="156.1" y2="474.4" stroke="#333" stroke-width="1" stroke-linecap="butt" />
<line x1="207.62" y1="472.2" x2="207.62" y2="474.4" stroke="#333" stroke-width="1" stroke-linecap="butt" />
<line x1="52.6" y1="472.2" x2="48.6" y2="472.2" stroke="#333" stroke-width="1" stroke-linecap="butt" />
<line x1="52.6" y1="441.88" x2="48.6" y2="441.88" stroke="#333" stroke-width="1" stroke-linecap="butt" />
<line x1="52.6" y1="411.56" x2="48.6" y2="411.56" stroke="#333" stroke-width="1" stroke-linecap="butt" />
<line x1="52.6" y1="381.24" x2="48.6" y2="381.24" stroke="#333" stroke-width="1" stroke-linecap="butt" />
<line x1="52.6" y1="350.92" x2="48.6" y2="350.92" stroke="#333" stroke-width="1" stroke-linecap="butt" />
<line x1="52.6" y1="457.04" x2="50.4" y2="457.04" stroke="#333" stroke-width="1" stroke-linecap="butt" />
<line x1="52.6" y1="426.72" x2="50.4" y2="426.72" stroke="#333" stroke-width="1" stroke-linecap="butt" />
<line x1="52.6" y1="396.4" x2="50.4" y2="396.4" stroke="#333" stroke-width="1" stroke-linecap="butt" />
<line x1="52.6" y1="366.08" x2="50.4" y2="366.08" stroke="#333" stroke-width="1" stroke-linecap="butt" />
<text x="78.8" y="485.2" font-size="9.3" font-weight="normal" text-anchor="middle" fill="#1a1a1a" >153.1</text>
<text x="130.33" y="485.2" font-size="9.3" font-weight="normal" text-anchor="middle" fill="#1a1a1a" >153.2</text>
<text x="181.86" y="485.2" font-size="9.3" font-weight="normal" text-anchor="middle" fill="#1a1a1a" >153.3</text>
<text x="233.39" y="485.2" font-size="9.3" font-weight="normal" text-anchor="middle" fill="#1a1a1a" >153.4</text>
<text x="45.7" y="474.52" font-size="9.3" font-weight="normal" text-anchor="end" fill="#1a1a1a" >3.028</text>
<text x="45.7" y="444.21" font-size="9.3" font-weight="normal" text-anchor="end" fill="#1a1a1a" >3.030</text>
<text x="45.7" y="413.88" font-size="9.3" font-weight="normal" text-anchor="end" fill="#1a1a1a" >3.032</text>
<text x="45.7" y="383.57" font-size="9.3" font-weight="normal" text-anchor="end" fill="#1a1a1a" >3.034</text>
<text x="45.7" y="353.24" font-size="9.3" font-weight="normal" text-anchor="end" fill="#1a1a1a" >3.036</text>
<text x="112.5" y="497.5" font-size="10.4" fill="#1a1a1a"><tspan font-weight="bold">I</tspan><tspan font-weight="bold" font-size="6.45" dy="2.91">app</tspan><tspan dy="-2.91"> (μA/cm</tspan><tspan font-size="6.45" dy="-3.95">2</tspan><tspan dy="3.95">)</tspan></text>
<text x="0" y="0" transform="translate(12,419) rotate(-90)" text-anchor="middle" font-size="11" fill="#1a1a1a"><tspan font-weight="bold">g</tspan><tspan font-weight="bold" font-size="6.82" dy="3.08">inh</tspan><tspan dy="-3.08"> (μS/cm</tspan><tspan font-size="6.82" dy="-4.18">2</tspan><tspan dy="4.18">)</tspan></text>
<text x="6" y="347.5" font-size="11" font-weight="bold" text-anchor="start" fill="#1a1a1a" >(e)</text>
<text x="122" y="351.4" font-size="10.4" font-weight="normal" text-anchor="start" fill="#1a1a1a" >LPC</text>
<text x="70.5" y="366.5" font-size="10.4" font-weight="normal" text-anchor="start" fill="#1a1a1a" >(Class II spiking)</text>
<text x="65" y="408.5" font-size="10.4" font-weight="normal" text-anchor="start" fill="#1a1a1a" >BHom</text>
<text x="105" y="454" font-size="10.4" font-weight="normal" text-anchor="start" fill="#1a1a1a" >SHom</text>
<text x="164" y="464.9" font-size="10.4" font-weight="normal" text-anchor="start" fill="#1a1a1a" >SubH</text>
<text x="196.8" y="452.3" font-size="10.4" font-weight="normal" text-anchor="start" fill="#1a1a1a" >Case 4</text>
<text x="199.2" y="395" font-size="10.4" font-weight="normal" text-anchor="start" fill="#1a1a1a" >Case 5</text>
<text x="104.8" y="403.6" font-size="10.4" font-weight="bold" fill="#1a1a1a">P<tspan font-size="6.5" dy="3">1</tspan></text>
<text x="197.5" y="374" font-size="10.4" font-weight="bold" fill="#1a1a1a">P<tspan font-size="6.5" dy="3">2</tspan></text>
<text x="232.5" y="368.5" font-size="10.4" font-weight="normal" fill="#1a1a1a">SN</text>
<text x="247.25" y="371.62" font-size="6.76" fill="#1a1a1a">2</text>
<text x="247.25" y="364.34" font-size="6.76" fill="#1a1a1a">U</text>
<line x1="316.4" y1="425.6" x2="497.3" y2="425.6" stroke="#8dcf4a" stroke-width="1.1" stroke-dasharray="3.4,3" stroke-linecap="butt" />
<line x1="316.4" y1="481.8" x2="404.2" y2="425.5" stroke="#1f3a8a" stroke-width="1.1" stroke-linecap="butt" />
<line x1="404.2" y1="425.5" x2="497.3" y2="366.6" stroke="#111" stroke-width="2" stroke-linecap="butt" />
<rect x="401.6" y="422.9" width="5.2" height="5.2" fill="#e8281e" stroke="none" stroke-width="0"/>
<line x1="314.6" y1="389" x2="327.5" y2="389" stroke="#e0307a" stroke-width="1" stroke-dasharray="2,1.5" stroke-linecap="butt" />
<polygon points="331,389 327,386.8 327,391.2" fill="#e0307a" stroke="none" stroke-width="0" />
<line x1="316.5" y1="481.5" x2="327.5" y2="481.5" stroke="#e0307a" stroke-width="1" stroke-dasharray="2,1.5" stroke-linecap="butt" />
<polygon points="331,481.5 327,479.3 327,483.7" fill="#e0307a" stroke="none" stroke-width="0" />
<line x1="459" y1="368" x2="476.5" y2="373.8" stroke="#111" stroke-width="0.9" stroke-linecap="butt" />
<polygon points="480.5,375.2 475.2,371.3 474.3,375.4" fill="#111" stroke="none" stroke-width="0" />
<line x1="316.4" y1="361" x2="316.4" y2="482.3" stroke="#333" stroke-width="1.2" stroke-linecap="butt" />
<line x1="315.9" y1="481.8" x2="497.3" y2="481.8" stroke="#333" stroke-width="1.2" stroke-linecap="butt" />
<line x1="332.3" y1="481.8" x2="332.3" y2="485.8" stroke="#333" stroke-width="1" stroke-linecap="butt" />
<line x1="393.3" y1="481.8" x2="393.3" y2="485.8" stroke="#333" stroke-width="1" stroke-linecap="butt" />
<line x1="454.3" y1="481.8" x2="454.3" y2="485.8" stroke="#333" stroke-width="1" stroke-linecap="butt" />
<line x1="362.8" y1="481.8" x2="362.8" y2="484" stroke="#333" stroke-width="1" stroke-linecap="butt" />
<line x1="423.8" y1="481.8" x2="423.8" y2="484" stroke="#333" stroke-width="1" stroke-linecap="butt" />
<line x1="484.8" y1="481.8" x2="484.8" y2="484" stroke="#333" stroke-width="1" stroke-linecap="butt" />
<line x1="316.4" y1="472.48" x2="312.4" y2="472.48" stroke="#333" stroke-width="1" stroke-linecap="butt" />
<line x1="316.4" y1="453.84" x2="312.4" y2="453.84" stroke="#333" stroke-width="1" stroke-linecap="butt" />
<line x1="316.4" y1="435.2" x2="312.4" y2="435.2" stroke="#333" stroke-width="1" stroke-linecap="butt" />
<line x1="316.4" y1="416.56" x2="312.4" y2="416.56" stroke="#333" stroke-width="1" stroke-linecap="butt" />
<line x1="316.4" y1="397.92" x2="312.4" y2="397.92" stroke="#333" stroke-width="1" stroke-linecap="butt" />
<line x1="316.4" y1="379.28" x2="312.4" y2="379.28" stroke="#333" stroke-width="1" stroke-linecap="butt" />
<line x1="316.4" y1="360.64" x2="312.4" y2="360.64" stroke="#333" stroke-width="1" stroke-linecap="butt" />
<line x1="316.4" y1="463.16" x2="314.2" y2="463.16" stroke="#333" stroke-width="1" stroke-linecap="butt" />
<line x1="316.4" y1="444.52" x2="314.2" y2="444.52" stroke="#333" stroke-width="1" stroke-linecap="butt" />
<line x1="316.4" y1="425.88" x2="314.2" y2="425.88" stroke="#333" stroke-width="1" stroke-linecap="butt" />
<line x1="316.4" y1="407.24" x2="314.2" y2="407.24" stroke="#333" stroke-width="1" stroke-linecap="butt" />
<line x1="316.4" y1="388.6" x2="314.2" y2="388.6" stroke="#333" stroke-width="1" stroke-linecap="butt" />
<line x1="316.4" y1="369.96" x2="314.2" y2="369.96" stroke="#333" stroke-width="1" stroke-linecap="butt" />
<text x="332.3" y="494.8" font-size="9.3" font-weight="normal" text-anchor="middle" fill="#1a1a1a" >180</text>
<text x="393.3" y="494.8" font-size="9.3" font-weight="normal" text-anchor="middle" fill="#1a1a1a" >200</text>
<text x="454.3" y="494.8" font-size="9.3" font-weight="normal" text-anchor="middle" fill="#1a1a1a" >220</text>
<text x="309.5" y="474.81" font-size="9.3" font-weight="normal" text-anchor="end" fill="#1a1a1a" >3.6</text>
<text x="309.5" y="456.17" font-size="9.3" font-weight="normal" text-anchor="end" fill="#1a1a1a" >3.8</text>
<text x="309.5" y="437.52" font-size="9.3" font-weight="normal" text-anchor="end" fill="#1a1a1a" >4.0</text>
<text x="309.5" y="418.88" font-size="9.3" font-weight="normal" text-anchor="end" fill="#1a1a1a" >4.2</text>
<text x="309.5" y="400.24" font-size="9.3" font-weight="normal" text-anchor="end" fill="#1a1a1a" >4.4</text>
<text x="309.5" y="381.61" font-size="9.3" font-weight="normal" text-anchor="end" fill="#1a1a1a" >4.6</text>
<text x="309.5" y="362.97" font-size="9.3" font-weight="normal" text-anchor="end" fill="#1a1a1a" >4.8</text>
<text x="375.7" y="509.7" font-size="10.4" fill="#1a1a1a"><tspan font-weight="bold">I</tspan><tspan font-weight="bold" font-size="6.45" dy="2.91">app</tspan><tspan dy="-2.91"> (μA/cm</tspan><tspan font-size="6.45" dy="-3.95">2</tspan><tspan dy="3.95">)</tspan></text>
<text x="0" y="0" transform="translate(275.5,427) rotate(-90)" text-anchor="middle" font-size="11" fill="#1a1a1a"><tspan font-weight="bold">g</tspan><tspan font-weight="bold" font-size="6.82" dy="3.08">inh</tspan><tspan dy="-3.08"> (μS/cm</tspan><tspan font-size="6.82" dy="-4.18">2</tspan><tspan dy="4.18">)</tspan></text>
<text x="267.6" y="357.7" font-size="11" font-weight="bold" text-anchor="start" fill="#1a1a1a" >(f)</text>
<text x="432.7" y="369.3" font-size="10.4" font-weight="normal" text-anchor="start" fill="#1a1a1a" >SupH</text>
<text x="471" y="415.4" font-size="10.4" font-weight="normal" text-anchor="start" fill="#1a1a1a" >Case 6</text>
<text x="408.5" y="433.5" font-size="10" font-weight="bold" text-anchor="start" fill="#1a1a1a" >GH</text>
<text x="469.6" y="462.4" font-size="10.4" font-weight="normal" text-anchor="start" fill="#1a1a1a" >Case 5</text>
<text x="348.7" y="445.7" font-size="10.4" font-weight="normal" text-anchor="start" fill="#1a1a1a" >LPC</text>
<text x="364.3" y="462.4" font-size="10.4" font-weight="normal" text-anchor="start" fill="#1a1a1a" >SubH</text>
<line x1="64.2" y1="649.5" x2="230.8" y2="530.2" stroke="#1f3a8a" stroke-width="2.1" stroke-dasharray="7.6,7.4" stroke-linecap="butt" />
<line x1="81.9" y1="649.5" x2="232.6" y2="540.3" stroke="#111" stroke-width="1.7" stroke-linecap="butt" />
<line x1="52.7" y1="531.4" x2="52.7" y2="650" stroke="#333" stroke-width="1.2" stroke-linecap="butt" />
<line x1="52.2" y1="649.5" x2="233.4" y2="649.5" stroke="#333" stroke-width="1.2" stroke-linecap="butt" />
<line x1="55.71" y1="649.5" x2="55.71" y2="653.5" stroke="#333" stroke-width="1" stroke-linecap="butt" />
<line x1="88.2" y1="649.5" x2="88.2" y2="653.5" stroke="#333" stroke-width="1" stroke-linecap="butt" />
<line x1="120.69" y1="649.5" x2="120.69" y2="653.5" stroke="#333" stroke-width="1" stroke-linecap="butt" />
<line x1="153.18" y1="649.5" x2="153.18" y2="653.5" stroke="#333" stroke-width="1" stroke-linecap="butt" />
<line x1="185.67" y1="649.5" x2="185.67" y2="653.5" stroke="#333" stroke-width="1" stroke-linecap="butt" />
<line x1="218.16" y1="649.5" x2="218.16" y2="653.5" stroke="#333" stroke-width="1" stroke-linecap="butt" />
<line x1="71.96" y1="649.5" x2="71.96" y2="651.7" stroke="#333" stroke-width="1" stroke-linecap="butt" />
<line x1="104.45" y1="649.5" x2="104.45" y2="651.7" stroke="#333" stroke-width="1" stroke-linecap="butt" />
<line x1="136.94" y1="649.5" x2="136.94" y2="651.7" stroke="#333" stroke-width="1" stroke-linecap="butt" />
<line x1="169.43" y1="649.5" x2="169.43" y2="651.7" stroke="#333" stroke-width="1" stroke-linecap="butt" />
<line x1="201.92" y1="649.5" x2="201.92" y2="651.7" stroke="#333" stroke-width="1" stroke-linecap="butt" />
<line x1="234.41" y1="649.5" x2="234.41" y2="651.7" stroke="#333" stroke-width="1" stroke-linecap="butt" />
<line x1="52.7" y1="643.4" x2="48.7" y2="643.4" stroke="#333" stroke-width="1" stroke-linecap="butt" />
<line x1="52.7" y1="624.74" x2="48.7" y2="624.74" stroke="#333" stroke-width="1" stroke-linecap="butt" />
<line x1="52.7" y1="606.07" x2="48.7" y2="606.07" stroke="#333" stroke-width="1" stroke-linecap="butt" />
<line x1="52.7" y1="587.4" x2="48.7" y2="587.4" stroke="#333" stroke-width="1" stroke-linecap="butt" />
<line x1="52.7" y1="568.74" x2="48.7" y2="568.74" stroke="#333" stroke-width="1" stroke-linecap="butt" />
<line x1="52.7" y1="550.08" x2="48.7" y2="550.08" stroke="#333" stroke-width="1" stroke-linecap="butt" />
<line x1="52.7" y1="531.41" x2="48.7" y2="531.41" stroke="#333" stroke-width="1" stroke-linecap="butt" />
<line x1="52.7" y1="634.07" x2="50.5" y2="634.07" stroke="#333" stroke-width="1" stroke-linecap="butt" />
<line x1="52.7" y1="615.4" x2="50.5" y2="615.4" stroke="#333" stroke-width="1" stroke-linecap="butt" />
<line x1="52.7" y1="596.74" x2="50.5" y2="596.74" stroke="#333" stroke-width="1" stroke-linecap="butt" />
<line x1="52.7" y1="578.07" x2="50.5" y2="578.07" stroke="#333" stroke-width="1" stroke-linecap="butt" />
<line x1="52.7" y1="559.41" x2="50.5" y2="559.41" stroke="#333" stroke-width="1" stroke-linecap="butt" />
<line x1="52.7" y1="540.74" x2="50.5" y2="540.74" stroke="#333" stroke-width="1" stroke-linecap="butt" />
<text x="55.71" y="662.5" font-size="9.3" font-weight="normal" text-anchor="middle" fill="#1a1a1a" >179.4</text>
<text x="88.2" y="662.5" font-size="9.3" font-weight="normal" text-anchor="middle" fill="#1a1a1a" >179.7</text>
<text x="120.69" y="662.5" font-size="9.3" font-weight="normal" text-anchor="middle" fill="#1a1a1a" >180.0</text>
<text x="153.18" y="662.5" font-size="9.3" font-weight="normal" text-anchor="middle" fill="#1a1a1a" >180.3</text>
<text x="185.67" y="662.5" font-size="9.3" font-weight="normal" text-anchor="middle" fill="#1a1a1a" >180.6</text>
<text x="218.16" y="662.5" font-size="9.3" font-weight="normal" text-anchor="middle" fill="#1a1a1a" >180.9</text>
<text x="45.8" y="645.73" font-size="9.3" font-weight="normal" text-anchor="end" fill="#1a1a1a" >3.605</text>
<text x="45.8" y="627.06" font-size="9.3" font-weight="normal" text-anchor="end" fill="#1a1a1a" >3.610</text>
<text x="45.8" y="608.39" font-size="9.3" font-weight="normal" text-anchor="end" fill="#1a1a1a" >3.615</text>
<text x="45.8" y="589.73" font-size="9.3" font-weight="normal" text-anchor="end" fill="#1a1a1a" >3.620</text>
<text x="45.8" y="571.06" font-size="9.3" font-weight="normal" text-anchor="end" fill="#1a1a1a" >3.625</text>
<text x="45.8" y="552.4" font-size="9.3" font-weight="normal" text-anchor="end" fill="#1a1a1a" >3.630</text>
<text x="45.8" y="533.74" font-size="9.3" font-weight="normal" text-anchor="end" fill="#1a1a1a" >3.635</text>
<text x="112" y="677.6" font-size="10.4" fill="#1a1a1a"><tspan font-weight="bold">I</tspan><tspan font-weight="bold" font-size="6.45" dy="2.91">app</tspan><tspan dy="-2.91"> (μA/cm</tspan><tspan font-size="6.45" dy="-3.95">2</tspan><tspan dy="3.95">)</tspan></text>
<text x="0" y="0" transform="translate(17.2,595) rotate(-90)" text-anchor="middle" font-size="11" fill="#1a1a1a"><tspan font-weight="bold">g</tspan><tspan font-weight="bold" font-size="6.82" dy="3.08">inh</tspan><tspan dy="-3.08"> (μS/cm</tspan><tspan font-size="6.82" dy="-4.18">2</tspan><tspan dy="4.18">)</tspan></text>
<text x="5" y="525.5" font-size="11" font-weight="bold" text-anchor="start" fill="#1a1a1a" >(g)</text>
<text x="128" y="529" font-size="10.4" font-weight="normal" text-anchor="start" fill="#1a1a1a" >Case 5</text>
<text x="90.7" y="613.9" font-size="10.4" font-weight="normal" text-anchor="start" fill="#1a1a1a" >LPC</text>
<text x="124.5" y="630.3" font-size="10.4" font-weight="normal" text-anchor="start" fill="#1a1a1a" >SubH</text>
<line x1="284.5" y1="550.7" x2="459.6" y2="550.7" stroke="#8dcf4a" stroke-width="1.2" stroke-dasharray="4,2.8" stroke-linecap="butt" />
<line x1="284.5" y1="577.2" x2="459.6" y2="577.2" stroke="#8dcf4a" stroke-width="1.2" stroke-dasharray="4,2.8" stroke-linecap="butt" />
<line x1="284.5" y1="636" x2="459.6" y2="636" stroke="#8dcf4a" stroke-width="1.2" stroke-dasharray="4,2.8" stroke-linecap="butt" />
<line x1="284.5" y1="640.5" x2="459.6" y2="640.5" stroke="#8dcf4a" stroke-width="1.2" stroke-dasharray="4,2.8" stroke-linecap="butt" />
<line x1="297.5" y1="529.4" x2="297.5" y2="650.3" stroke="#2a2a2a" stroke-width="2.1" stroke-dasharray="3.6,1.6" stroke-linecap="butt" />
<line x1="283.5" y1="636.5" x2="381" y2="578.5" stroke="#222" stroke-width="1.1" stroke-dasharray="3.5,2.5" stroke-linecap="butt" />
<polyline points="302.8,637 384,576.4 422.8,551 455,529.4" fill="none" stroke="#111" stroke-width="1.3" />
<line x1="302.8" y1="637" x2="320" y2="620.2" stroke="#2a5098" stroke-width="1.9" stroke-linecap="butt" />
<line x1="384" y1="576.4" x2="422.8" y2="551" stroke="#3558a0" stroke-width="1.1" stroke-linecap="butt" />
<line x1="283.5" y1="542" x2="293.5" y2="542" stroke="#e0307a" stroke-width="1" stroke-dasharray="2.2,1.3" stroke-linecap="butt" />
<polygon points="297,542 293,539.8 293,544.2" fill="#e0307a" stroke="none" stroke-width="0" />
<line x1="283.5" y1="565.5" x2="293.5" y2="565.5" stroke="#e0307a" stroke-width="1" stroke-dasharray="2.2,1.3" stroke-linecap="butt" />
<polygon points="297,565.5 293,563.3 293,567.7" fill="#e0307a" stroke="none" stroke-width="0" />
<line x1="283.5" y1="624.9" x2="293.5" y2="624.9" stroke="#e0307a" stroke-width="1" stroke-dasharray="2.2,1.3" stroke-linecap="butt" />
<polygon points="297,624.9 293,622.7 293,627.1" fill="#e0307a" stroke="none" stroke-width="0" />
<line x1="283.5" y1="637.4" x2="293.5" y2="637.4" stroke="#e0307a" stroke-width="1" stroke-dasharray="2.2,1.3" stroke-linecap="butt" />
<polygon points="297,637.4 293,635.2 293,639.6" fill="#e0307a" stroke="none" stroke-width="0" />
<line x1="283.5" y1="649.5" x2="293.5" y2="649.5" stroke="#e0307a" stroke-width="1" stroke-dasharray="2.2,1.3" stroke-linecap="butt" />
<polygon points="297,649.5 293,647.3 293,651.7" fill="#e0307a" stroke="none" stroke-width="0" />
<circle cx="298" cy="640.6" r="2.3" fill="#e04a1e" stroke="none" stroke-width="0"/>
<polygon points="302.8,633.7 303.61,635.88 305.94,635.98 304.12,637.43 304.74,639.67 302.8,638.39 300.86,639.67 301.48,637.43 299.66,635.98 301.99,635.88" fill="#e8281e" stroke="none" stroke-width="0" />
<circle cx="294.5" cy="644.7" r="1.7" fill="#fff" stroke="#e8281e" stroke-width="0.8"/>
<polygon points="380,579.2 388,579.2 384,572.4" fill="#e8281e" stroke="none" stroke-width="0" />
<circle cx="393.3" cy="571" r="1.8" fill="#fff" stroke="#e8281e" stroke-width="0.8"/>
<rect x="420.1" y="548.3" width="5.4" height="5.4" fill="#e04a1e" stroke="none" stroke-width="0"/>
<line x1="314" y1="646.5" x2="304" y2="646.5" stroke="#111" stroke-width="0.9" stroke-linecap="butt" />
<polygon points="299.8,646.5 304.5,644.3 304.5,648.7" fill="#111" stroke="none" stroke-width="0" />
<line x1="283.5" y1="529.4" x2="283.5" y2="650.8" stroke="#333" stroke-width="1.2" stroke-linecap="butt" />
<line x1="283" y1="650.3" x2="458.5" y2="650.3" stroke="#333" stroke-width="1.2" stroke-linecap="butt" />
<line x1="305.9" y1="650.3" x2="305.9" y2="654.3" stroke="#333" stroke-width="1" stroke-linecap="butt" />
<line x1="344.16" y1="650.3" x2="344.16" y2="654.3" stroke="#333" stroke-width="1" stroke-linecap="butt" />
<line x1="382.42" y1="650.3" x2="382.42" y2="654.3" stroke="#333" stroke-width="1" stroke-linecap="butt" />
<line x1="420.68" y1="650.3" x2="420.68" y2="654.3" stroke="#333" stroke-width="1" stroke-linecap="butt" />
<line x1="458.94" y1="650.3" x2="458.94" y2="654.3" stroke="#333" stroke-width="1" stroke-linecap="butt" />
<line x1="286.77" y1="650.3" x2="286.77" y2="652.5" stroke="#333" stroke-width="1" stroke-linecap="butt" />
<line x1="325.03" y1="650.3" x2="325.03" y2="652.5" stroke="#333" stroke-width="1" stroke-linecap="butt" />
<line x1="363.29" y1="650.3" x2="363.29" y2="652.5" stroke="#333" stroke-width="1" stroke-linecap="butt" />
<line x1="401.55" y1="650.3" x2="401.55" y2="652.5" stroke="#333" stroke-width="1" stroke-linecap="butt" />
<line x1="439.81" y1="650.3" x2="439.81" y2="652.5" stroke="#333" stroke-width="1" stroke-linecap="butt" />
<line x1="283.5" y1="650" x2="279.5" y2="650" stroke="#333" stroke-width="1" stroke-linecap="butt" />
<line x1="283.5" y1="625.88" x2="279.5" y2="625.88" stroke="#333" stroke-width="1" stroke-linecap="butt" />
<line x1="283.5" y1="601.76" x2="279.5" y2="601.76" stroke="#333" stroke-width="1" stroke-linecap="butt" />
<line x1="283.5" y1="577.64" x2="279.5" y2="577.64" stroke="#333" stroke-width="1" stroke-linecap="butt" />
<line x1="283.5" y1="553.52" x2="279.5" y2="553.52" stroke="#333" stroke-width="1" stroke-linecap="butt" />
<line x1="283.5" y1="529.4" x2="279.5" y2="529.4" stroke="#333" stroke-width="1" stroke-linecap="butt" />
<line x1="283.5" y1="637.94" x2="281.3" y2="637.94" stroke="#333" stroke-width="1" stroke-linecap="butt" />
<line x1="283.5" y1="613.82" x2="281.3" y2="613.82" stroke="#333" stroke-width="1" stroke-linecap="butt" />
<line x1="283.5" y1="589.7" x2="281.3" y2="589.7" stroke="#333" stroke-width="1" stroke-linecap="butt" />
<line x1="283.5" y1="565.58" x2="281.3" y2="565.58" stroke="#333" stroke-width="1" stroke-linecap="butt" />
<line x1="283.5" y1="541.46" x2="281.3" y2="541.46" stroke="#333" stroke-width="1" stroke-linecap="butt" />
<text x="305.9" y="661.9" font-size="8.7" font-weight="normal" text-anchor="middle" fill="#1a1a1a" >50</text>
<text x="344.16" y="661.9" font-size="8.7" font-weight="normal" text-anchor="middle" fill="#1a1a1a" >100</text>
<text x="382.42" y="661.9" font-size="8.7" font-weight="normal" text-anchor="middle" fill="#1a1a1a" >150</text>
<text x="420.68" y="661.9" font-size="8.7" font-weight="normal" text-anchor="middle" fill="#1a1a1a" >200</text>
<text x="458.94" y="661.9" font-size="8.7" font-weight="normal" text-anchor="middle" fill="#1a1a1a" >250</text>
<text x="276.6" y="652.17" font-size="8.7" font-weight="normal" text-anchor="end" fill="#1a1a1a" >0</text>
<text x="276.6" y="628.05" font-size="8.7" font-weight="normal" text-anchor="end" fill="#1a1a1a" >1</text>
<text x="276.6" y="603.93" font-size="8.7" font-weight="normal" text-anchor="end" fill="#1a1a1a" >2</text>
<text x="276.6" y="579.81" font-size="8.7" font-weight="normal" text-anchor="end" fill="#1a1a1a" >3</text>
<text x="276.6" y="555.69" font-size="8.7" font-weight="normal" text-anchor="end" fill="#1a1a1a" >4</text>
<text x="276.6" y="531.57" font-size="8.7" font-weight="normal" text-anchor="end" fill="#1a1a1a" >5</text>
<text x="342.2" y="676.6" font-size="9.4" fill="#1a1a1a"><tspan font-weight="bold">I</tspan><tspan font-weight="bold" font-size="5.83" dy="2.63">app</tspan><tspan dy="-2.63"> (μA/cm</tspan><tspan font-size="5.83" dy="-3.57">2</tspan><tspan dy="3.57">)</tspan></text>
<text x="0" y="0" transform="translate(268.2,596.2) rotate(-90)" text-anchor="middle" font-size="9.4" fill="#1a1a1a"><tspan font-weight="bold">g</tspan><tspan font-weight="bold" font-size="5.83" dy="2.63">inh</tspan><tspan dy="-2.63"> (μS/cm</tspan><tspan font-size="5.83" dy="-3.57">2</tspan><tspan dy="3.57">)</tspan></text>
<text x="258" y="525.5" font-size="11" font-weight="bold" text-anchor="start" fill="#1a1a1a" >(h)</text>
<text x="394.9" y="537.8" font-size="8.1" font-weight="normal" text-anchor="start" fill="#1a1a1a" >Case 6</text>
<text x="427.3" y="535" font-size="7.1" font-weight="normal" text-anchor="start" fill="#1a1a1a" >SupH</text>
<text x="429" y="558.5" font-size="9.3" font-weight="bold" text-anchor="start" fill="#1a1a1a" >GH</text>
<text x="428" y="566.8" font-size="8.1" font-weight="normal" text-anchor="start" fill="#1a1a1a" >Case 5</text>
<text x="384.8" y="589" font-size="9.3" font-weight="bold" fill="#1a1a1a">P<tspan font-size="5.8" dy="2.4">1</tspan></text>
<text x="427" y="606.4" font-size="8.1" font-weight="normal" text-anchor="start" fill="#1a1a1a" >Case 4</text>
<text x="427" y="640.6" font-size="8.1" font-weight="normal" text-anchor="start" fill="#1a1a1a" >Case 3</text>
<text x="427" y="648.5" font-size="8.1" font-weight="normal" text-anchor="start" fill="#1a1a1a" >Case 1</text>
<text x="314.9" y="647.9" font-size="8" font-weight="normal" text-anchor="start" fill="#1a1a1a" >SNIC</text>
<text x="318.4" y="602.5" font-size="8" font-weight="normal" fill="#1a1a1a">SN</text>
<text x="329.81" y="604.9" font-size="5.2" fill="#1a1a1a">2</text>
<text x="329.81" y="599.3" font-size="5.2" fill="#1a1a1a">U</text>
<text x="283" y="594" font-size="7" font-weight="normal" fill="#1a1a1a">SN</text>
<text x="293.02" y="596.1" font-size="4.55" fill="#1a1a1a">3</text>
<text x="293.02" y="591.2" font-size="4.55" fill="#1a1a1a">S</text>
<text x="299.8" y="594" font-size="7" font-weight="normal" fill="#1a1a1a">SN</text>
<text x="309.82" y="596.1" font-size="4.55" fill="#1a1a1a">1</text>
<text x="309.82" y="591.2" font-size="4.55" fill="#1a1a1a">S</text>
<rect x="459.7" y="517.3" width="14.4" height="6.5" fill="#fff" stroke="#9a9a9a" stroke-width="0.9"/>
<line x1="460.7" y1="519.6" x2="473.1" y2="519.6" stroke="#c8c8c8" stroke-width="0.8" stroke-linecap="butt" />
<line x1="460.7" y1="521.6" x2="473.1" y2="521.6" stroke="#c8c8c8" stroke-width="0.8" stroke-linecap="butt" />
<rect x="459.7" y="525.6" width="14.4" height="6.5" fill="#fff" stroke="#9a9a9a" stroke-width="0.9"/>
<line x1="463.5" y1="526" x2="463.5" y2="531.7" stroke="#c8c8c8" stroke-width="0.8" stroke-linecap="butt" />
<line x1="467" y1="526" x2="467" y2="531.7" stroke="#c8c8c8" stroke-width="0.8" stroke-linecap="butt" />
<line x1="470.5" y1="526" x2="470.5" y2="531.7" stroke="#c8c8c8" stroke-width="0.8" stroke-linecap="butt" />
<g clip-path="url(#c24)" >
<line x1="455.7" y1="540.4" x2="461.9" y2="534.2" stroke="#e48a8a" stroke-width="1" stroke-linecap="butt" />
<line x1="459.3" y1="540.4" x2="465.5" y2="534.2" stroke="#e48a8a" stroke-width="1" stroke-linecap="butt" />
<line x1="462.9" y1="540.4" x2="469.1" y2="534.2" stroke="#e48a8a" stroke-width="1" stroke-linecap="butt" />
<line x1="466.5" y1="540.4" x2="472.7" y2="534.2" stroke="#e48a8a" stroke-width="1" stroke-linecap="butt" />
<line x1="470.1" y1="540.4" x2="476.3" y2="534.2" stroke="#e48a8a" stroke-width="1" stroke-linecap="butt" />
<line x1="473.7" y1="540.4" x2="479.9" y2="534.2" stroke="#e48a8a" stroke-width="1" stroke-linecap="butt" />
</g>
<rect x="459.7" y="534.2" width="14.4" height="6.2" fill="none" stroke="#9a9a9a" stroke-width="0.9"/>
<g clip-path="url(#c25)" >
<line x1="455.7" y1="542.5" x2="462.1" y2="548.9" stroke="#b07ac8" stroke-width="1" stroke-linecap="butt" />
<line x1="459.3" y1="542.5" x2="465.7" y2="548.9" stroke="#b07ac8" stroke-width="1" stroke-linecap="butt" />
<line x1="462.9" y1="542.5" x2="469.3" y2="548.9" stroke="#b07ac8" stroke-width="1" stroke-linecap="butt" />
<line x1="466.5" y1="542.5" x2="472.9" y2="548.9" stroke="#b07ac8" stroke-width="1" stroke-linecap="butt" />
<line x1="470.1" y1="542.5" x2="476.5" y2="548.9" stroke="#b07ac8" stroke-width="1" stroke-linecap="butt" />
<line x1="473.7" y1="542.5" x2="480.1" y2="548.9" stroke="#b07ac8" stroke-width="1" stroke-linecap="butt" />
</g>
<rect x="459.7" y="542.5" width="14.4" height="6.4" fill="none" stroke="#9a9a9a" stroke-width="0.9"/>
<text x="476.9" y="523.4" font-size="6.8" font-weight="normal" text-anchor="start" fill="#1a1a1a" >Resting</text>
<text x="476.9" y="531.7" font-size="6.8" font-weight="normal" text-anchor="start" fill="#1a1a1a" >Firing</text>
<text x="476.9" y="540" font-size="6.8" font-weight="normal" text-anchor="start" fill="#1a1a1a" >Coexistence</text>
<text x="476.9" y="548.4" font-size="6.8" font-weight="normal" text-anchor="start" fill="#1a1a1a" >Coexistence</text>
<circle cx="466.8" cy="554.1" r="1.9" fill="#e8281e" stroke="none" stroke-width="0"/>
<polygon points="466.8,560.5 467.44,562.22 469.27,562.3 467.84,563.44 468.33,565.2 466.8,564.19 465.27,565.2 465.76,563.44 464.33,562.3 466.16,562.22" fill="#e8281e" stroke="none" stroke-width="0" />
<circle cx="466.8" cy="572.2" r="1.6" fill="#fff" stroke="#e8281e" stroke-width="0.7"/>
<polygon points="463.8,582.3 469.8,582.3 466.8,577.5" fill="#e8281e" stroke="none" stroke-width="0" />
<text x="476.9" y="556.9" font-size="6.6" font-weight="bold" text-anchor="start" fill="#1a1a1a" >SNHO</text>
<text x="476.9" y="565.6" font-size="6.6" font-weight="bold" text-anchor="start" fill="#1a1a1a" >BT</text>
<text x="476.9" y="574.4" font-size="6.6" font-weight="bold" text-anchor="start" fill="#1a1a1a" >CP</text>
<text x="476.9" y="582.6" font-size="6.8" font-weight="bold" fill="#1a1a1a">P<tspan font-size="4.5" dy="2">1</tspan></text>
</svg></body></html>
